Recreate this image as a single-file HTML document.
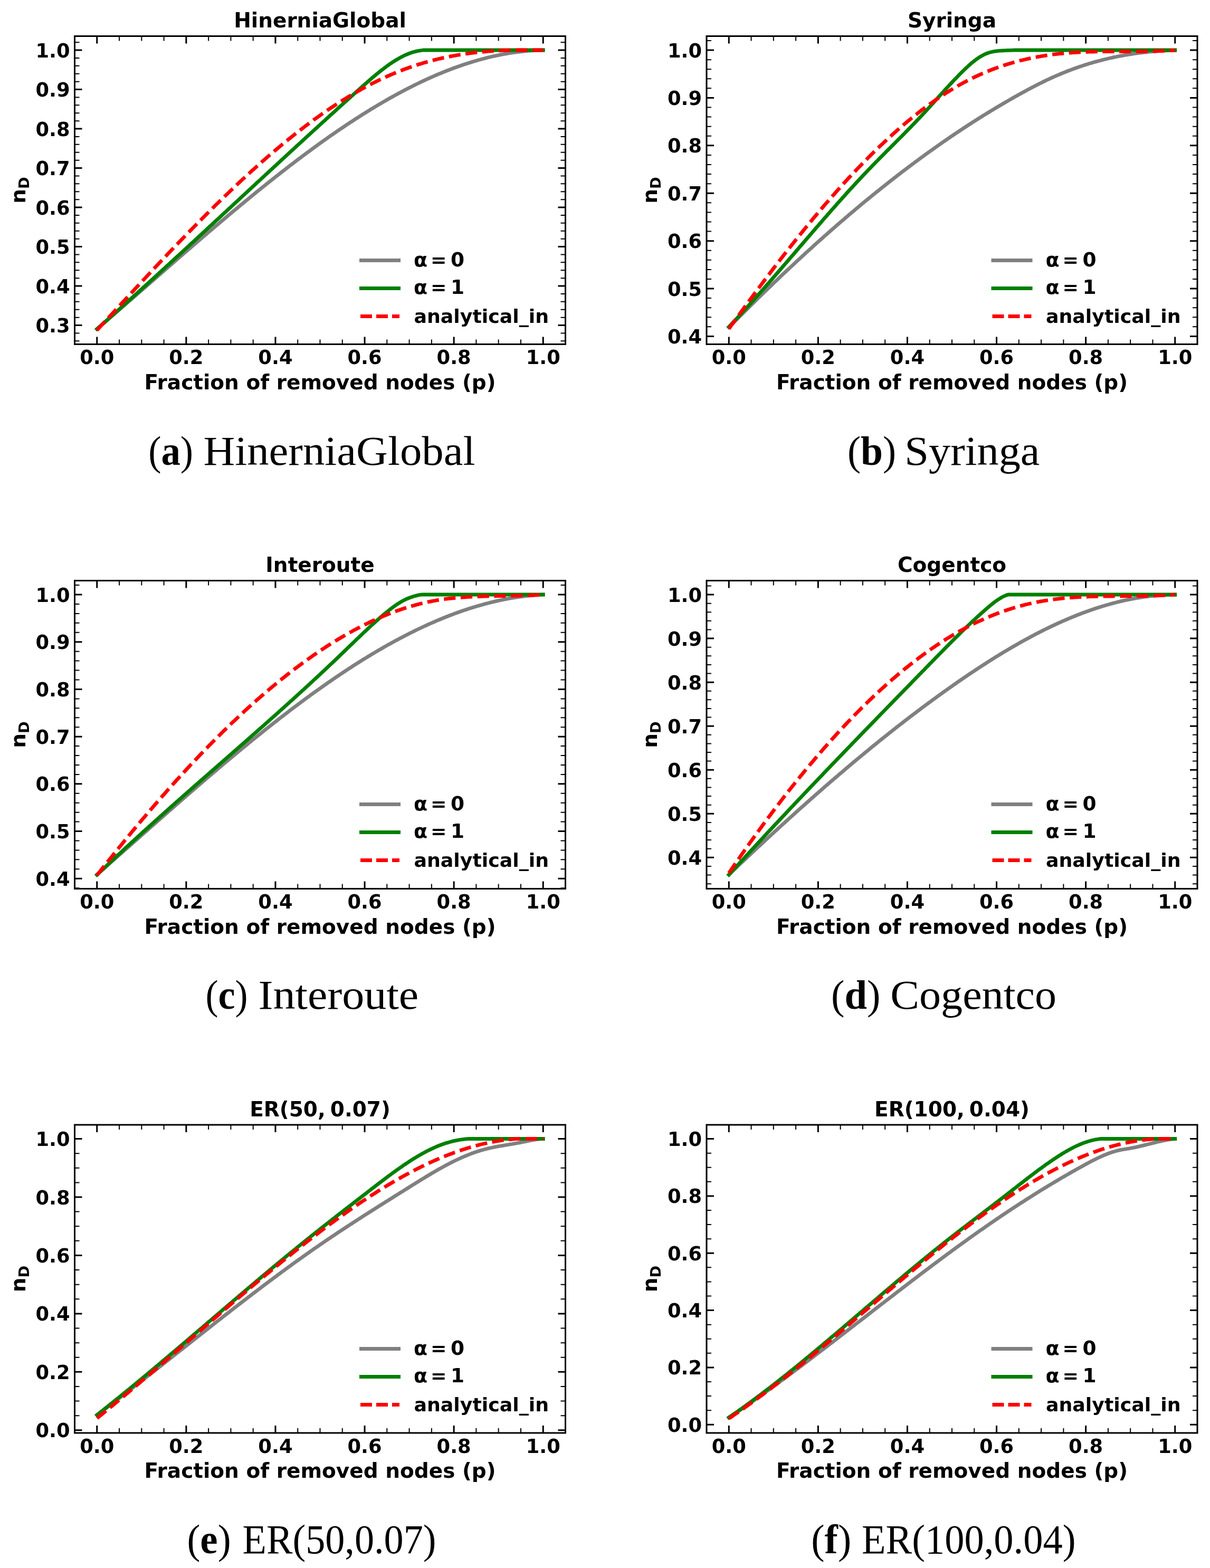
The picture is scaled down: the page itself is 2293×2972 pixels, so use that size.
<!DOCTYPE html>
<html><head><meta charset="utf-8"><title>Figure</title>
<style>html,body{margin:0;padding:0;background:#fff;}body{width:2293px;height:2972px;overflow:hidden;}svg{display:block;}</style>
</head><body>
<svg xmlns="http://www.w3.org/2000/svg" width="2293" height="2972" viewBox="0 0 2293 2972"><g id="panel-a">
<clipPath id="clipa"><rect x="141.5" y="68.5" width="930.0" height="584.0"/></clipPath>
<g clip-path="url(#clipa)">
<polyline points="183.8,623.5 185.9,621.7 188.0,619.9 190.1,618.1 192.2,616.2 194.3,614.4 196.5,612.6 198.6,610.8 200.7,609.0 202.8,607.1 204.9,605.3 207.0,603.5 209.1,601.7 211.2,599.8 213.4,598.0 215.5,596.2 217.6,594.3 219.7,592.5 221.8,590.7 223.9,588.8 226.0,587.0 228.2,585.2 230.3,583.3 232.4,581.5 234.5,579.7 236.6,577.8 238.7,576.0 240.8,574.2 243.0,572.3 245.1,570.5 247.2,568.6 249.3,566.8 251.4,565.0 253.5,563.1 255.6,561.3 257.8,559.4 259.9,557.6 262.0,555.7 264.1,553.9 266.2,552.1 268.3,550.2 270.4,548.4 272.5,546.5 274.7,544.7 276.8,542.8 278.9,541.0 281.0,539.1 283.1,537.3 285.2,535.5 287.3,533.6 289.5,531.8 291.6,529.9 293.7,528.1 295.8,526.2 297.9,524.4 300.0,522.5 302.1,520.7 304.2,518.9 306.4,517.0 308.5,515.2 310.6,513.3 312.7,511.5 314.8,509.6 316.9,507.8 319.0,506.0 321.2,504.1 323.3,502.3 325.4,500.4 327.5,498.6 329.6,496.8 331.7,494.9 333.8,493.1 336.0,491.2 338.1,489.4 340.2,487.6 342.3,485.7 344.4,483.9 346.5,482.1 348.6,480.2 350.8,478.4 352.9,476.6 355.0,474.7 357.1,472.9 359.2,471.1 361.3,469.3 363.4,467.4 365.5,465.6 367.7,463.8 369.8,462.0 371.9,460.1 374.0,458.3 376.1,456.5 378.2,454.7 380.3,452.9 382.5,451.1 384.6,449.2 386.7,447.4 388.8,445.6 390.9,443.8 393.0,442.0 395.1,440.2 397.2,438.4 399.4,436.6 401.5,434.8 403.6,433.0 405.7,431.2 407.8,429.4 409.9,427.6 412.0,425.8 414.2,424.0 416.3,422.2 418.4,420.4 420.5,418.6 422.6,416.8 424.7,415.1 426.8,413.3 429.0,411.5 431.1,409.7 433.2,407.9 435.3,406.2 437.4,404.4 439.5,402.6 441.6,400.8 443.7,399.1 445.9,397.3 448.0,395.6 450.1,393.8 452.2,392.0 454.3,390.3 456.4,388.5 458.5,386.8 460.7,385.0 462.8,383.3 464.9,381.5 467.0,379.8 469.1,378.1 471.2,376.3 473.3,374.6 475.5,372.9 477.6,371.1 479.7,369.4 481.8,367.7 483.9,366.0 486.0,364.2 488.1,362.5 490.2,360.8 492.4,359.1 494.5,357.4 496.6,355.7 498.7,354.0 500.8,352.3 502.9,350.6 505.0,348.9 507.2,347.2 509.3,345.5 511.4,343.8 513.5,342.1 515.6,340.5 517.7,338.8 519.8,337.1 522.0,335.4 524.1,333.8 526.2,332.1 528.3,330.5 530.4,328.8 532.5,327.2 534.6,325.5 536.8,323.9 538.9,322.2 541.0,320.6 543.1,318.9 545.2,317.3 547.3,315.7 549.4,314.0 551.5,312.4 553.7,310.8 555.8,309.2 557.9,307.6 560.0,306.0 562.1,304.4 564.2,302.8 566.3,301.2 568.5,299.6 570.6,298.0 572.7,296.4 574.8,294.8 576.9,293.2 579.0,291.7 581.1,290.1 583.2,288.5 585.4,287.0 587.5,285.4 589.6,283.9 591.7,282.3 593.8,280.8 595.9,279.2 598.0,277.7 600.2,276.2 602.3,274.6 604.4,273.1 606.5,271.6 608.6,270.1 610.7,268.5 612.8,267.0 615.0,265.5 617.1,264.0 619.2,262.5 621.3,261.1 623.4,259.6 625.5,258.1 627.6,256.6 629.8,255.1 631.9,253.7 634.0,252.2 636.1,250.8 638.2,249.3 640.3,247.8 642.4,246.4 644.5,245.0 646.7,243.5 648.8,242.1 650.9,240.7 653.0,239.3 655.1,237.8 657.2,236.4 659.3,235.0 661.5,233.6 663.6,232.2 665.7,230.8 667.8,229.5 669.9,228.1 672.0,226.7 674.1,225.3 676.2,224.0 678.4,222.6 680.5,221.3 682.6,219.9 684.7,218.6 686.8,217.2 688.9,215.9 691.0,214.6 693.2,213.3 695.3,211.9 697.4,210.6 699.5,209.3 701.6,208.0 703.7,206.7 705.8,205.4 708.0,204.2 710.1,202.9 712.2,201.6 714.3,200.4 716.4,199.1 718.5,197.8 720.6,196.6 722.8,195.4 724.9,194.1 727.0,192.9 729.1,191.7 731.2,190.5 733.3,189.2 735.4,188.0 737.5,186.8 739.7,185.6 741.8,184.5 743.9,183.3 746.0,182.1 748.1,180.9 750.2,179.8 752.3,178.6 754.5,177.5 756.6,176.3 758.7,175.2 760.8,174.1 762.9,173.0 765.0,171.8 767.1,170.7 769.2,169.6 771.4,168.5 773.5,167.4 775.6,166.4 777.7,165.3 779.8,164.2 781.9,163.2 784.0,162.1 786.2,161.1 788.3,160.0 790.4,159.0 792.5,158.0 794.6,156.9 796.7,155.9 798.8,154.9 801.0,153.9 803.1,152.9 805.2,152.0 807.3,151.0 809.4,150.0 811.5,149.0 813.6,148.1 815.8,147.1 817.9,146.2 820.0,145.3 822.1,144.3 824.2,143.4 826.3,142.5 828.4,141.6 830.5,140.7 832.7,139.8 834.8,139.0 836.9,138.1 839.0,137.2 841.1,136.4 843.2,135.5 845.3,134.7 847.5,133.8 849.6,133.0 851.7,132.2 853.8,131.4 855.9,130.6 858.0,129.8 860.1,129.0 862.2,128.2 864.4,127.5 866.5,126.7 868.6,125.9 870.7,125.2 872.8,124.5 874.9,123.7 877.0,123.0 879.2,122.3 881.3,121.6 883.4,120.9 885.5,120.2 887.6,119.5 889.7,118.9 891.8,118.2 894.0,117.6 896.1,116.9 898.2,116.3 900.3,115.7 902.4,115.0 904.5,114.4 906.6,113.8 908.8,113.2 910.9,112.7 913.0,112.1 915.1,111.5 917.2,111.0 919.3,110.4 921.4,109.9 923.5,109.3 925.7,108.8 927.8,108.3 929.9,107.8 932.0,107.3 934.1,106.8 936.2,106.4 938.3,105.9 940.5,105.4 942.6,105.0 944.7,104.6 946.8,104.1 948.9,103.7 951.0,103.3 953.1,102.9 955.2,102.5 957.4,102.1 959.5,101.8 961.6,101.4 963.7,101.0 965.8,100.7 967.9,100.4 970.0,100.0 972.2,99.7 974.3,99.4 976.4,99.1 978.5,98.9 980.6,98.6 982.7,98.3 984.8,98.1 987.0,97.8 989.1,97.6 991.2,97.4 993.3,97.1 995.4,96.9 997.5,96.7 999.6,96.6 1001.8,96.4 1003.9,96.2 1006.0,96.1 1008.1,95.9 1010.2,95.8 1012.3,95.7 1014.4,95.6 1016.5,95.5 1018.7,95.4 1020.8,95.3 1022.9,95.2 1025.0,95.2 1027.1,95.1 1029.2,95.1" fill="none" stroke="#808080" stroke-width="6.8" stroke-linecap="square" stroke-linejoin="round"/>
<polyline points="183.8,623.6 185.9,621.8 188.0,619.9 190.1,618.0 192.2,616.2 194.3,614.3 196.5,612.4 198.6,610.5 200.7,608.7 202.8,606.8 204.9,604.9 207.0,603.0 209.1,601.1 211.2,599.3 213.4,597.4 215.5,595.5 217.6,593.6 219.7,591.7 221.8,589.8 223.9,587.9 226.0,586.0 228.2,584.1 230.3,582.2 232.4,580.3 234.5,578.4 236.6,576.5 238.7,574.6 240.8,572.7 243.0,570.8 245.1,568.9 247.2,567.0 249.3,565.1 251.4,563.2 253.5,561.3 255.6,559.4 257.8,557.5 259.9,555.6 262.0,553.7 264.1,551.7 266.2,549.8 268.3,547.9 270.4,546.0 272.5,544.1 274.7,542.2 276.8,540.2 278.9,538.3 281.0,536.4 283.1,534.5 285.2,532.6 287.3,530.6 289.5,528.7 291.6,526.8 293.7,524.9 295.8,522.9 297.9,521.0 300.0,519.1 302.1,517.1 304.2,515.2 306.4,513.3 308.5,511.3 310.6,509.4 312.7,507.5 314.8,505.5 316.9,503.6 319.0,501.7 321.2,499.7 323.3,497.8 325.4,495.8 327.5,493.9 329.6,492.0 331.7,490.0 333.8,488.1 336.0,486.1 338.1,484.2 340.2,482.3 342.3,480.3 344.4,478.4 346.5,476.4 348.6,474.5 350.8,472.5 352.9,470.6 355.0,468.6 357.1,466.7 359.2,464.7 361.3,462.8 363.4,460.8 365.5,458.9 367.7,456.9 369.8,455.0 371.9,453.0 374.0,451.1 376.1,449.1 378.2,447.2 380.3,445.2 382.5,443.3 384.6,441.3 386.7,439.4 388.8,437.4 390.9,435.5 393.0,433.5 395.1,431.5 397.2,429.6 399.4,427.6 401.5,425.7 403.6,423.7 405.7,421.8 407.8,419.8 409.9,417.8 412.0,415.9 414.2,413.9 416.3,412.0 418.4,410.0 420.5,408.0 422.6,406.1 424.7,404.1 426.8,402.2 429.0,400.2 431.1,398.3 433.2,396.3 435.3,394.3 437.4,392.4 439.5,390.4 441.6,388.5 443.7,386.5 445.9,384.5 448.0,382.6 450.1,380.6 452.2,378.7 454.3,376.7 456.4,374.7 458.5,372.8 460.7,370.8 462.8,368.9 464.9,366.9 467.0,364.9 469.1,363.0 471.2,361.0 473.3,359.1 475.5,357.1 477.6,355.1 479.7,353.2 481.8,351.2 483.9,349.3 486.0,347.3 488.1,345.3 490.2,343.4 492.4,341.4 494.5,339.5 496.6,337.5 498.7,335.6 500.8,333.6 502.9,331.6 505.0,329.7 507.2,327.7 509.3,325.8 511.4,323.8 513.5,321.9 515.6,319.9 517.7,318.0 519.8,316.0 522.0,314.1 524.1,312.1 526.2,310.1 528.3,308.2 530.4,306.2 532.5,304.3 534.6,302.3 536.8,300.4 538.9,298.4 541.0,296.5 543.1,294.5 545.2,292.6 547.3,290.6 549.4,288.7 551.5,286.8 553.7,284.8 555.8,282.9 557.9,280.9 560.0,279.0 562.1,277.0 564.2,275.1 566.3,273.1 568.5,271.2 570.6,269.3 572.7,267.3 574.8,265.4 576.9,263.4 579.0,261.5 581.1,259.6 583.2,257.6 585.4,255.7 587.5,253.8 589.6,251.8 591.7,249.9 593.8,247.9 595.9,246.0 598.0,244.1 600.2,242.2 602.3,240.2 604.4,238.3 606.5,236.4 608.6,234.4 610.7,232.5 612.8,230.6 615.0,228.7 617.1,226.7 619.2,224.8 621.3,222.9 623.4,221.0 625.5,219.0 627.6,217.1 629.8,215.2 631.9,213.3 634.0,211.4 636.1,209.5 638.2,207.5 640.3,205.6 642.4,203.7 644.5,201.8 646.7,199.9 648.8,198.0 650.9,196.1 653.0,194.2 655.1,192.3 657.2,190.4 659.3,188.5 661.5,186.6 663.6,184.7 665.7,182.8 667.8,180.9 669.9,179.0 672.0,177.1 674.1,175.2 676.2,173.3 678.4,171.4 680.5,169.5 682.6,167.6 684.7,165.7 686.8,163.8 688.9,161.9 691.0,160.1 693.2,158.2 695.3,156.3 697.4,154.5 699.5,152.7 701.6,150.8 703.7,149.0 705.8,147.2 708.0,145.4 710.1,143.6 712.2,141.9 714.3,140.1 716.4,138.4 718.5,136.7 720.6,135.0 722.8,133.3 724.9,131.7 727.0,130.1 729.1,128.4 731.2,126.9 733.3,125.3 735.4,123.8 737.5,122.3 739.7,120.8 741.8,119.4 743.9,118.0 746.0,116.6 748.1,115.3 750.2,114.0 752.3,112.7 754.5,111.5 756.6,110.3 758.7,109.1 760.8,108.0 762.9,106.9 765.0,105.8 767.1,104.8 769.2,103.9 771.4,103.0 773.5,102.1 775.6,101.3 777.7,100.5 779.8,99.8 781.9,99.1 784.0,98.5 786.2,97.9 788.3,97.4 790.4,96.9 792.5,96.5 794.6,96.1 796.7,95.8 798.8,95.5 801.0,95.2 803.1,95.0 805.2,95.0 807.3,95.0 809.4,95.0 811.5,95.0 813.6,95.0 815.8,95.0 817.9,95.0 820.0,95.0 822.1,95.0 824.2,95.0 826.3,95.0 828.4,95.0 830.5,95.0 832.7,95.0 834.8,95.0 836.9,95.0 839.0,95.0 841.1,95.0 843.2,95.0 845.3,95.0 847.5,95.0 849.6,95.0 851.7,95.0 853.8,95.0 855.9,95.0 858.0,95.0 860.1,95.0 862.2,95.0 864.4,95.0 866.5,95.0 868.6,95.0 870.7,95.0 872.8,95.0 874.9,95.0 877.0,95.0 879.2,95.0 881.3,95.0 883.4,95.0 885.5,95.0 887.6,95.0 889.7,95.0 891.8,95.0 894.0,95.0 896.1,95.0 898.2,95.0 900.3,95.0 902.4,95.0 904.5,95.0 906.6,95.0 908.8,95.0 910.9,95.0 913.0,95.0 915.1,95.0 917.2,95.0 919.3,95.0 921.4,95.0 923.5,95.0 925.7,95.0 927.8,95.0 929.9,95.0 932.0,95.0 934.1,95.0 936.2,95.0 938.3,95.0 940.5,95.0 942.6,95.0 944.7,95.0 946.8,95.0 948.9,95.0 951.0,95.0 953.1,95.0 955.2,95.0 957.4,95.0 959.5,95.0 961.6,95.0 963.7,95.0 965.8,95.0 967.9,95.0 970.0,95.0 972.2,95.0 974.3,95.0 976.4,95.0 978.5,95.0 980.6,95.0 982.7,95.0 984.8,95.0 987.0,95.0 989.1,95.0 991.2,95.0 993.3,95.0 995.4,95.0 997.5,95.0 999.6,95.0 1001.8,95.0 1003.9,95.0 1006.0,95.0 1008.1,95.0 1010.2,95.0 1012.3,95.0 1014.4,95.0 1016.5,95.0 1018.7,95.0 1020.8,95.0 1022.9,95.0 1025.0,95.0 1027.1,95.0 1029.2,95.0" fill="none" stroke="#008000" stroke-width="6.8" stroke-linecap="square" stroke-linejoin="round"/>
<polyline points="183.8,625.9 185.9,623.6 188.0,621.3 190.1,619.0 192.2,616.7 194.3,614.4 196.5,612.1 198.6,609.8 200.7,607.5 202.8,605.2 204.9,602.9 207.0,600.6 209.1,598.4 211.2,596.1 213.4,593.8 215.5,591.5 217.6,589.2 219.7,586.9 221.8,584.6 223.9,582.3 226.0,580.0 228.2,577.7 230.3,575.4 232.4,573.1 234.5,570.8 236.6,568.5 238.7,566.2 240.8,564.0 243.0,561.7 245.1,559.4 247.2,557.1 249.3,554.8 251.4,552.5 253.5,550.3 255.6,548.0 257.8,545.7 259.9,543.4 262.0,541.1 264.1,538.9 266.2,536.6 268.3,534.3 270.4,532.0 272.5,529.8 274.7,527.5 276.8,525.2 278.9,523.0 281.0,520.7 283.1,518.5 285.2,516.2 287.3,513.9 289.5,511.7 291.6,509.4 293.7,507.2 295.8,504.9 297.9,502.7 300.0,500.4 302.1,498.2 304.2,496.0 306.4,493.7 308.5,491.5 310.6,489.3 312.7,487.0 314.8,484.8 316.9,482.6 319.0,480.3 321.2,478.1 323.3,475.9 325.4,473.7 327.5,471.5 329.6,469.3 331.7,467.0 333.8,464.8 336.0,462.6 338.1,460.4 340.2,458.2 342.3,456.0 344.4,453.9 346.5,451.7 348.6,449.5 350.8,447.3 352.9,445.1 355.0,442.9 357.1,440.8 359.2,438.6 361.3,436.4 363.4,434.3 365.5,432.1 367.7,430.0 369.8,427.8 371.9,425.7 374.0,423.5 376.1,421.4 378.2,419.2 380.3,417.1 382.5,415.0 384.6,412.8 386.7,410.7 388.8,408.6 390.9,406.5 393.0,404.4 395.1,402.3 397.2,400.2 399.4,398.1 401.5,396.0 403.6,393.9 405.7,391.8 407.8,389.7 409.9,387.6 412.0,385.6 414.2,383.5 416.3,381.4 418.4,379.4 420.5,377.3 422.6,375.2 424.7,373.2 426.8,371.2 429.0,369.1 431.1,367.1 433.2,365.1 435.3,363.0 437.4,361.0 439.5,359.0 441.6,357.0 443.7,355.0 445.9,353.0 448.0,351.0 450.1,349.0 452.2,347.0 454.3,345.0 456.4,343.1 458.5,341.1 460.7,339.1 462.8,337.2 464.9,335.2 467.0,333.3 469.1,331.3 471.2,329.4 473.3,327.5 475.5,325.5 477.6,323.6 479.7,321.7 481.8,319.8 483.9,317.9 486.0,316.0 488.1,314.1 490.2,312.2 492.4,310.3 494.5,308.5 496.6,306.6 498.7,304.7 500.8,302.9 502.9,301.0 505.0,299.2 507.2,297.3 509.3,295.5 511.4,293.7 513.5,291.9 515.6,290.1 517.7,288.2 519.8,286.4 522.0,284.7 524.1,282.9 526.2,281.1 528.3,279.3 530.4,277.5 532.5,275.8 534.6,274.0 536.8,272.3 538.9,270.5 541.0,268.8 543.1,267.1 545.2,265.4 547.3,263.7 549.4,262.0 551.5,260.3 553.7,258.6 555.8,256.9 557.9,255.2 560.0,253.5 562.1,251.9 564.2,250.2 566.3,248.6 568.5,246.9 570.6,245.3 572.7,243.7 574.8,242.1 576.9,240.4 579.0,238.8 581.1,237.2 583.2,235.7 585.4,234.1 587.5,232.5 589.6,230.9 591.7,229.4 593.8,227.8 595.9,226.3 598.0,224.8 600.2,223.2 602.3,221.7 604.4,220.2 606.5,218.7 608.6,217.2 610.7,215.7 612.8,214.3 615.0,212.8 617.1,211.3 619.2,209.9 621.3,208.4 623.4,207.0 625.5,205.6 627.6,204.2 629.8,202.8 631.9,201.4 634.0,200.0 636.1,198.6 638.2,197.2 640.3,195.9 642.4,194.5 644.5,193.2 646.7,191.8 648.8,190.5 650.9,189.2 653.0,187.9 655.1,186.6 657.2,185.3 659.3,184.0 661.5,182.7 663.6,181.4 665.7,180.2 667.8,178.9 669.9,177.7 672.0,176.5 674.1,175.3 676.2,174.0 678.4,172.8 680.5,171.7 682.6,170.5 684.7,169.3 686.8,168.1 688.9,167.0 691.0,165.8 693.2,164.7 695.3,163.6 697.4,162.5 699.5,161.4 701.6,160.3 703.7,159.2 705.8,158.1 708.0,157.0 710.1,156.0 712.2,154.9 714.3,153.9 716.4,152.8 718.5,151.8 720.6,150.8 722.8,149.8 724.9,148.8 727.0,147.8 729.1,146.9 731.2,145.9 733.3,144.9 735.4,144.0 737.5,143.1 739.7,142.1 741.8,141.2 743.9,140.3 746.0,139.4 748.1,138.5 750.2,137.7 752.3,136.8 754.5,136.0 756.6,135.1 758.7,134.3 760.8,133.5 762.9,132.6 765.0,131.8 767.1,131.0 769.2,130.3 771.4,129.5 773.5,128.7 775.6,128.0 777.7,127.2 779.8,126.5 781.9,125.8 784.0,125.1 786.2,124.4 788.3,123.7 790.4,123.0 792.5,122.3 794.6,121.7 796.7,121.0 798.8,120.4 801.0,119.7 803.1,119.1 805.2,118.5 807.3,117.9 809.4,117.3 811.5,116.7 813.6,116.1 815.8,115.6 817.9,115.0 820.0,114.5 822.1,113.9 824.2,113.4 826.3,112.9 828.4,112.3 830.5,111.8 832.7,111.3 834.8,110.9 836.9,110.4 839.0,109.9 841.1,109.4 843.2,109.0 845.3,108.5 847.5,108.1 849.6,107.7 851.7,107.3 853.8,106.8 855.9,106.4 858.0,106.0 860.1,105.7 862.2,105.3 864.4,104.9 866.5,104.5 868.6,104.2 870.7,103.8 872.8,103.5 874.9,103.1 877.0,102.8 879.2,102.5 881.3,102.2 883.4,101.9 885.5,101.6 887.6,101.3 889.7,101.0 891.8,100.7 894.0,100.5 896.1,100.2 898.2,100.0 900.3,99.7 902.4,99.5 904.5,99.2 906.6,99.0 908.8,98.8 910.9,98.6 913.0,98.4 915.1,98.2 917.2,98.0 919.3,97.8 921.4,97.6 923.5,97.4 925.7,97.2 927.8,97.1 929.9,96.9 932.0,96.8 934.1,96.6 936.2,96.5 938.3,96.4 940.5,96.2 942.6,96.1 944.7,96.0 946.8,95.9 948.9,95.8 951.0,95.7 953.1,95.6 955.2,95.5 957.4,95.4 959.5,95.3 961.6,95.3 963.7,95.2 965.8,95.1 967.9,95.1 970.0,95.0 972.2,95.0 974.3,95.0 976.4,95.0 978.5,95.0 980.6,95.0 982.7,95.0 984.8,95.0 987.0,95.0 989.1,95.0 991.2,95.0 993.3,95.0 995.4,95.0 997.5,95.0 999.6,95.0 1001.8,95.0 1003.9,95.0 1006.0,95.0 1008.1,95.0 1010.2,95.0 1012.3,95.0 1014.4,95.0 1016.5,95.0 1018.7,95.0 1020.8,95.0 1022.9,95.0 1025.0,95.0 1027.1,95.0 1029.2,95.0" fill="none" stroke="#ff0000" stroke-width="6.8" stroke-dasharray="22.2 9.6" stroke-linecap="butt" stroke-linejoin="round"/>
</g>
<g stroke="#000" fill="none"><path d="M183.77 652.5 V638.5 M183.77 68.5 V82.5" stroke-width="3"/><path d="M226.05 652.5 V643.5 M226.05 68.5 V77.5" stroke-width="2"/><path d="M268.32 652.5 V643.5 M268.32 68.5 V77.5" stroke-width="2"/><path d="M310.59 652.5 V643.5 M310.59 68.5 V77.5" stroke-width="2"/><path d="M352.86 652.5 V638.5 M352.86 68.5 V82.5" stroke-width="3"/><path d="M395.14 652.5 V643.5 M395.14 68.5 V77.5" stroke-width="2"/><path d="M437.41 652.5 V643.5 M437.41 68.5 V77.5" stroke-width="2"/><path d="M479.68 652.5 V643.5 M479.68 68.5 V77.5" stroke-width="2"/><path d="M521.95 652.5 V638.5 M521.95 68.5 V82.5" stroke-width="3"/><path d="M564.23 652.5 V643.5 M564.23 68.5 V77.5" stroke-width="2"/><path d="M606.50 652.5 V643.5 M606.50 68.5 V77.5" stroke-width="2"/><path d="M648.77 652.5 V643.5 M648.77 68.5 V77.5" stroke-width="2"/><path d="M691.05 652.5 V638.5 M691.05 68.5 V82.5" stroke-width="3"/><path d="M733.32 652.5 V643.5 M733.32 68.5 V77.5" stroke-width="2"/><path d="M775.59 652.5 V643.5 M775.59 68.5 V77.5" stroke-width="2"/><path d="M817.86 652.5 V643.5 M817.86 68.5 V77.5" stroke-width="2"/><path d="M860.14 652.5 V638.5 M860.14 68.5 V82.5" stroke-width="3"/><path d="M902.41 652.5 V643.5 M902.41 68.5 V77.5" stroke-width="2"/><path d="M944.68 652.5 V643.5 M944.68 68.5 V77.5" stroke-width="2"/><path d="M986.95 652.5 V643.5 M986.95 68.5 V77.5" stroke-width="2"/><path d="M1029.23 652.5 V638.5 M1029.23 68.5 V82.5" stroke-width="3"/><path d="M141.5 646.37 H150.5 M1071.5 646.37 H1062.5" stroke-width="2"/><path d="M141.5 631.47 H150.5 M1071.5 631.47 H1062.5" stroke-width="2"/><path d="M141.5 616.57 H155.5 M1071.5 616.57 H1057.5" stroke-width="3"/><path d="M141.5 601.67 H150.5 M1071.5 601.67 H1062.5" stroke-width="2"/><path d="M141.5 586.77 H150.5 M1071.5 586.77 H1062.5" stroke-width="2"/><path d="M141.5 571.87 H150.5 M1071.5 571.87 H1062.5" stroke-width="2"/><path d="M141.5 556.96 H150.5 M1071.5 556.96 H1062.5" stroke-width="2"/><path d="M141.5 542.06 H155.5 M1071.5 542.06 H1057.5" stroke-width="3"/><path d="M141.5 527.16 H150.5 M1071.5 527.16 H1062.5" stroke-width="2"/><path d="M141.5 512.26 H150.5 M1071.5 512.26 H1062.5" stroke-width="2"/><path d="M141.5 497.36 H150.5 M1071.5 497.36 H1062.5" stroke-width="2"/><path d="M141.5 482.46 H150.5 M1071.5 482.46 H1062.5" stroke-width="2"/><path d="M141.5 467.56 H155.5 M1071.5 467.56 H1057.5" stroke-width="3"/><path d="M141.5 452.66 H150.5 M1071.5 452.66 H1062.5" stroke-width="2"/><path d="M141.5 437.76 H150.5 M1071.5 437.76 H1062.5" stroke-width="2"/><path d="M141.5 422.86 H150.5 M1071.5 422.86 H1062.5" stroke-width="2"/><path d="M141.5 407.96 H150.5 M1071.5 407.96 H1062.5" stroke-width="2"/><path d="M141.5 393.06 H155.5 M1071.5 393.06 H1057.5" stroke-width="3"/><path d="M141.5 378.16 H150.5 M1071.5 378.16 H1062.5" stroke-width="2"/><path d="M141.5 363.26 H150.5 M1071.5 363.26 H1062.5" stroke-width="2"/><path d="M141.5 348.36 H150.5 M1071.5 348.36 H1062.5" stroke-width="2"/><path d="M141.5 333.46 H150.5 M1071.5 333.46 H1062.5" stroke-width="2"/><path d="M141.5 318.55 H155.5 M1071.5 318.55 H1057.5" stroke-width="3"/><path d="M141.5 303.65 H150.5 M1071.5 303.65 H1062.5" stroke-width="2"/><path d="M141.5 288.75 H150.5 M1071.5 288.75 H1062.5" stroke-width="2"/><path d="M141.5 273.85 H150.5 M1071.5 273.85 H1062.5" stroke-width="2"/><path d="M141.5 258.95 H150.5 M1071.5 258.95 H1062.5" stroke-width="2"/><path d="M141.5 244.05 H155.5 M1071.5 244.05 H1057.5" stroke-width="3"/><path d="M141.5 229.15 H150.5 M1071.5 229.15 H1062.5" stroke-width="2"/><path d="M141.5 214.25 H150.5 M1071.5 214.25 H1062.5" stroke-width="2"/><path d="M141.5 199.35 H150.5 M1071.5 199.35 H1062.5" stroke-width="2"/><path d="M141.5 184.45 H150.5 M1071.5 184.45 H1062.5" stroke-width="2"/><path d="M141.5 169.55 H155.5 M1071.5 169.55 H1057.5" stroke-width="3"/><path d="M141.5 154.65 H150.5 M1071.5 154.65 H1062.5" stroke-width="2"/><path d="M141.5 139.75 H150.5 M1071.5 139.75 H1062.5" stroke-width="2"/><path d="M141.5 124.85 H150.5 M1071.5 124.85 H1062.5" stroke-width="2"/><path d="M141.5 109.95 H150.5 M1071.5 109.95 H1062.5" stroke-width="2"/><path d="M141.5 95.05 H155.5 M1071.5 95.05 H1057.5" stroke-width="3"/><path d="M141.5 80.14 H150.5 M1071.5 80.14 H1062.5" stroke-width="2"/></g>
<rect x="141.5" y="68.5" width="930.0" height="584.0" fill="none" stroke="#000" stroke-width="3"/>
<g font-family="'DejaVu Sans', 'Liberation Sans', sans-serif" font-weight="bold" font-size="36.8" fill="#000">
<text x="183.77" y="690.10" text-anchor="middle">0.0</text>
<text x="352.86" y="690.10" text-anchor="middle">0.2</text>
<text x="521.95" y="690.10" text-anchor="middle">0.4</text>
<text x="691.05" y="690.10" text-anchor="middle">0.6</text>
<text x="860.14" y="690.10" text-anchor="middle">0.8</text>
<text x="1029.23" y="690.10" text-anchor="middle">1.0</text>
<text x="132.60" y="630.07" text-anchor="end">0.3</text>
<text x="132.60" y="555.56" text-anchor="end">0.4</text>
<text x="132.60" y="481.06" text-anchor="end">0.5</text>
<text x="132.60" y="406.56" text-anchor="end">0.6</text>
<text x="132.60" y="332.05" text-anchor="end">0.7</text>
<text x="132.60" y="257.55" text-anchor="end">0.8</text>
<text x="132.60" y="183.05" text-anchor="end">0.9</text>
<text x="132.60" y="108.55" text-anchor="end">1.0</text>
</g>
<text x="606.50" y="52.10" text-anchor="middle" font-family="'DejaVu Sans', 'Liberation Sans', sans-serif" font-weight="bold" font-size="39.0">HinerniaGlobal</text>
<text x="606.50" y="737.80" text-anchor="middle" font-family="'DejaVu Sans', 'Liberation Sans', sans-serif" font-weight="bold" font-size="39.0">Fraction of removed nodes (p)</text>
<text transform="translate(47.90 360.50) rotate(-90)" text-anchor="middle" font-family="'DejaVu Sans', 'Liberation Sans', sans-serif" font-weight="bold" font-size="39.0">n<tspan font-size="27.3" dy="7">D</tspan></text>
<path d="M684.4 493.5 H755.6" stroke="#808080" stroke-width="6.8" stroke-linecap="square"/>
<path d="M684.4 546.5 H755.6" stroke="#008000" stroke-width="6.8" stroke-linecap="square"/>
<path d="M683.0 599.5 H757.0" stroke="#ff0000" stroke-width="6.8" stroke-dasharray="22 8"/>
<text font-family="'DejaVu Sans', 'Liberation Sans', sans-serif" font-weight="bold" font-size="38" x="784.1" y="505.3">α</text>
<text font-family="'DejaVu Sans', 'Liberation Sans', sans-serif" font-weight="bold" font-size="36.3" x="816.1" y="505.3">=</text>
<text font-family="'DejaVu Sans', 'Liberation Sans', sans-serif" font-weight="bold" font-size="37.5" x="854.0" y="505.3">0</text>
<text font-family="'DejaVu Sans', 'Liberation Sans', sans-serif" font-weight="bold" font-size="38" x="784.1" y="556.8">α</text>
<text font-family="'DejaVu Sans', 'Liberation Sans', sans-serif" font-weight="bold" font-size="36.3" x="816.1" y="556.8">=</text>
<text font-family="'DejaVu Sans', 'Liberation Sans', sans-serif" font-weight="bold" font-size="37.5" x="854.0" y="556.8">1</text>
<text font-family="'DejaVu Sans', 'Liberation Sans', sans-serif" font-weight="bold" font-size="36.3" x="784.5" y="612.0">analytical_in</text>
<text x="281.2" y="881.0" font-family="'Liberation Serif', 'DejaVu Serif', serif" font-size="79" textLength="84.9" lengthAdjust="spacingAndGlyphs">(<tspan font-weight="bold">a</tspan>)</text>
<text x="385.4" y="881.0" font-family="'Liberation Serif', 'DejaVu Serif', serif" font-size="79" textLength="515.1" lengthAdjust="spacingAndGlyphs">HinerniaGlobal</text>
</g>
<g id="panel-b">
<clipPath id="clipb"><rect x="1339.0" y="68.5" width="930.0" height="584.0"/></clipPath>
<g clip-path="url(#clipb)">
<polyline points="1381.3,620.5 1383.4,618.4 1385.5,616.3 1387.6,614.1 1389.7,612.0 1391.8,609.8 1394.0,607.7 1396.1,605.6 1398.2,603.4 1400.3,601.3 1402.4,599.2 1404.5,597.1 1406.6,595.0 1408.8,592.8 1410.9,590.7 1413.0,588.6 1415.1,586.5 1417.2,584.4 1419.3,582.3 1421.4,580.2 1423.5,578.1 1425.7,576.0 1427.8,574.0 1429.9,571.9 1432.0,569.8 1434.1,567.7 1436.2,565.6 1438.3,563.6 1440.5,561.5 1442.6,559.4 1444.7,557.4 1446.8,555.3 1448.9,553.3 1451.0,551.2 1453.1,549.2 1455.2,547.1 1457.4,545.1 1459.5,543.0 1461.6,541.0 1463.7,539.0 1465.8,536.9 1467.9,534.9 1470.0,532.9 1472.2,530.9 1474.3,528.9 1476.4,526.8 1478.5,524.8 1480.6,522.8 1482.7,520.8 1484.8,518.8 1487.0,516.8 1489.1,514.8 1491.2,512.8 1493.3,510.8 1495.4,508.9 1497.5,506.9 1499.6,504.9 1501.8,502.9 1503.9,501.0 1506.0,499.0 1508.1,497.0 1510.2,495.1 1512.3,493.1 1514.4,491.2 1516.5,489.2 1518.7,487.3 1520.8,485.3 1522.9,483.4 1525.0,481.4 1527.1,479.5 1529.2,477.6 1531.3,475.6 1533.5,473.7 1535.6,471.8 1537.7,469.9 1539.8,468.0 1541.9,466.0 1544.0,464.1 1546.1,462.2 1548.2,460.3 1550.4,458.4 1552.5,456.5 1554.6,454.6 1556.7,452.8 1558.8,450.9 1560.9,449.0 1563.0,447.1 1565.2,445.2 1567.3,443.4 1569.4,441.5 1571.5,439.6 1573.6,437.8 1575.7,435.9 1577.8,434.1 1580.0,432.2 1582.1,430.4 1584.2,428.5 1586.3,426.7 1588.4,424.9 1590.5,423.0 1592.6,421.2 1594.8,419.4 1596.9,417.6 1599.0,415.8 1601.1,413.9 1603.2,412.1 1605.3,410.3 1607.4,408.5 1609.5,406.7 1611.7,404.9 1613.8,403.1 1615.9,401.4 1618.0,399.6 1620.1,397.8 1622.2,396.0 1624.3,394.2 1626.5,392.5 1628.6,390.7 1630.7,388.9 1632.8,387.2 1634.9,385.4 1637.0,383.7 1639.1,381.9 1641.2,380.2 1643.4,378.5 1645.5,376.7 1647.6,375.0 1649.7,373.3 1651.8,371.5 1653.9,369.8 1656.0,368.1 1658.2,366.4 1660.3,364.7 1662.4,363.0 1664.5,361.3 1666.6,359.6 1668.7,357.9 1670.8,356.2 1673.0,354.5 1675.1,352.8 1677.2,351.1 1679.3,349.5 1681.4,347.8 1683.5,346.1 1685.6,344.5 1687.8,342.8 1689.9,341.1 1692.0,339.5 1694.1,337.8 1696.2,336.2 1698.3,334.6 1700.4,332.9 1702.5,331.3 1704.7,329.7 1706.8,328.0 1708.9,326.4 1711.0,324.8 1713.1,323.2 1715.2,321.6 1717.3,320.0 1719.5,318.4 1721.6,316.8 1723.7,315.2 1725.8,313.6 1727.9,312.0 1730.0,310.4 1732.1,308.9 1734.2,307.3 1736.4,305.7 1738.5,304.2 1740.6,302.6 1742.7,301.0 1744.8,299.5 1746.9,297.9 1749.0,296.4 1751.2,294.9 1753.3,293.3 1755.4,291.8 1757.5,290.3 1759.6,288.7 1761.7,287.2 1763.8,285.7 1766.0,284.2 1768.1,282.7 1770.2,281.2 1772.3,279.7 1774.4,278.2 1776.5,276.7 1778.6,275.2 1780.8,273.7 1782.9,272.2 1785.0,270.8 1787.1,269.3 1789.2,267.8 1791.3,266.4 1793.4,264.9 1795.5,263.5 1797.7,262.0 1799.8,260.6 1801.9,259.1 1804.0,257.7 1806.1,256.3 1808.2,254.8 1810.3,253.4 1812.5,252.0 1814.6,250.6 1816.7,249.2 1818.8,247.8 1820.9,246.4 1823.0,245.0 1825.1,243.6 1827.2,242.2 1829.4,240.8 1831.5,239.4 1833.6,238.0 1835.7,236.7 1837.8,235.3 1839.9,233.9 1842.0,232.6 1844.2,231.2 1846.3,229.9 1848.4,228.5 1850.5,227.2 1852.6,225.8 1854.7,224.5 1856.8,223.2 1859.0,221.9 1861.1,220.5 1863.2,219.2 1865.3,217.9 1867.4,216.6 1869.5,215.3 1871.6,214.0 1873.8,212.7 1875.9,211.4 1878.0,210.1 1880.1,208.9 1882.2,207.6 1884.3,206.3 1886.4,205.0 1888.5,203.8 1890.7,202.5 1892.8,201.3 1894.9,200.0 1897.0,198.8 1899.1,197.5 1901.2,196.3 1903.3,195.0 1905.5,193.8 1907.6,192.6 1909.7,191.4 1911.8,190.1 1913.9,188.9 1916.0,187.7 1918.1,186.5 1920.2,185.3 1922.4,184.1 1924.5,182.9 1926.6,181.7 1928.7,180.5 1930.8,179.3 1932.9,178.2 1935.0,177.0 1937.2,175.8 1939.3,174.7 1941.4,173.5 1943.5,172.4 1945.6,171.2 1947.7,170.1 1949.8,169.0 1952.0,167.8 1954.1,166.7 1956.2,165.6 1958.3,164.5 1960.4,163.4 1962.5,162.3 1964.6,161.2 1966.8,160.2 1968.9,159.1 1971.0,158.0 1973.1,157.0 1975.2,155.9 1977.3,154.9 1979.4,153.9 1981.5,152.9 1983.7,151.8 1985.8,150.8 1987.9,149.9 1990.0,148.9 1992.1,147.9 1994.2,146.9 1996.3,146.0 1998.5,145.0 2000.6,144.1 2002.7,143.2 2004.8,142.3 2006.9,141.4 2009.0,140.5 2011.1,139.6 2013.2,138.7 2015.4,137.9 2017.5,137.0 2019.6,136.2 2021.7,135.3 2023.8,134.5 2025.9,133.7 2028.0,132.9 2030.2,132.1 2032.3,131.3 2034.4,130.5 2036.5,129.8 2038.6,129.0 2040.7,128.2 2042.8,127.5 2045.0,126.8 2047.1,126.1 2049.2,125.4 2051.3,124.6 2053.4,124.0 2055.5,123.3 2057.6,122.6 2059.8,121.9 2061.9,121.3 2064.0,120.6 2066.1,120.0 2068.2,119.4 2070.3,118.8 2072.4,118.1 2074.5,117.5 2076.7,116.9 2078.8,116.4 2080.9,115.8 2083.0,115.2 2085.1,114.7 2087.2,114.1 2089.3,113.6 2091.5,113.0 2093.6,112.5 2095.7,112.0 2097.8,111.5 2099.9,111.0 2102.0,110.5 2104.1,110.0 2106.2,109.6 2108.4,109.1 2110.5,108.6 2112.6,108.2 2114.7,107.8 2116.8,107.3 2118.9,106.9 2121.0,106.5 2123.2,106.1 2125.3,105.7 2127.4,105.3 2129.5,104.9 2131.6,104.5 2133.7,104.2 2135.8,103.8 2138.0,103.5 2140.1,103.1 2142.2,102.8 2144.3,102.4 2146.4,102.1 2148.5,101.8 2150.6,101.5 2152.8,101.2 2154.9,100.9 2157.0,100.6 2159.1,100.4 2161.2,100.1 2163.3,99.8 2165.4,99.6 2167.5,99.3 2169.7,99.1 2171.8,98.9 2173.9,98.6 2176.0,98.4 2178.1,98.2 2180.2,98.0 2182.3,97.8 2184.5,97.6 2186.6,97.4 2188.7,97.3 2190.8,97.1 2192.9,96.9 2195.0,96.8 2197.1,96.6 2199.2,96.5 2201.4,96.4 2203.5,96.3 2205.6,96.1 2207.7,96.0 2209.8,95.9 2211.9,95.8 2214.0,95.7 2216.2,95.6 2218.3,95.6 2220.4,95.5 2222.5,95.4 2224.6,95.4 2226.7,95.3" fill="none" stroke="#808080" stroke-width="6.8" stroke-linecap="square" stroke-linejoin="round"/>
<polyline points="1381.3,619.5 1383.4,617.3 1385.5,615.0 1387.6,612.8 1389.7,610.5 1391.8,608.3 1394.0,606.0 1396.1,603.8 1398.2,601.5 1400.3,599.2 1402.4,596.9 1404.5,594.6 1406.6,592.3 1408.8,590.0 1410.9,587.7 1413.0,585.4 1415.1,583.1 1417.2,580.7 1419.3,578.4 1421.4,576.1 1423.5,573.7 1425.7,571.4 1427.8,569.0 1429.9,566.6 1432.0,564.3 1434.1,561.9 1436.2,559.5 1438.3,557.1 1440.5,554.7 1442.6,552.3 1444.7,550.0 1446.8,547.6 1448.9,545.1 1451.0,542.7 1453.1,540.3 1455.2,537.9 1457.4,535.5 1459.5,533.1 1461.6,530.7 1463.7,528.2 1465.8,525.8 1467.9,523.4 1470.0,520.9 1472.2,518.5 1474.3,516.0 1476.4,513.6 1478.5,511.2 1480.6,508.7 1482.7,506.3 1484.8,503.8 1487.0,501.4 1489.1,498.9 1491.2,496.5 1493.3,494.0 1495.4,491.5 1497.5,489.1 1499.6,486.6 1501.8,484.2 1503.9,481.7 1506.0,479.2 1508.1,476.8 1510.2,474.3 1512.3,471.9 1514.4,469.4 1516.5,466.9 1518.7,464.5 1520.8,462.0 1522.9,459.6 1525.0,457.1 1527.1,454.6 1529.2,452.2 1531.3,449.7 1533.5,447.3 1535.6,444.8 1537.7,442.4 1539.8,439.9 1541.9,437.5 1544.0,435.0 1546.1,432.6 1548.2,430.1 1550.4,427.7 1552.5,425.2 1554.6,422.8 1556.7,420.4 1558.8,417.9 1560.9,415.5 1563.0,413.1 1565.2,410.7 1567.3,408.2 1569.4,405.8 1571.5,403.4 1573.6,401.0 1575.7,398.6 1577.8,396.2 1580.0,393.8 1582.1,391.4 1584.2,389.0 1586.3,386.6 1588.4,384.3 1590.5,381.9 1592.6,379.5 1594.8,377.2 1596.9,374.8 1599.0,372.4 1601.1,370.1 1603.2,367.7 1605.3,365.4 1607.4,363.1 1609.5,360.7 1611.7,358.4 1613.8,356.1 1615.9,353.8 1618.0,351.5 1620.1,349.2 1622.2,346.9 1624.3,344.6 1626.5,342.4 1628.6,340.1 1630.7,337.8 1632.8,335.6 1634.9,333.3 1637.0,331.1 1639.1,328.8 1641.2,326.6 1643.4,324.4 1645.5,322.2 1647.6,320.0 1649.7,317.8 1651.8,315.6 1653.9,313.4 1656.0,311.3 1658.2,309.1 1660.3,306.9 1662.4,304.8 1664.5,302.6 1666.6,300.5 1668.7,298.4 1670.8,296.2 1673.0,294.1 1675.1,292.0 1677.2,289.8 1679.3,287.7 1681.4,285.6 1683.5,283.5 1685.6,281.4 1687.8,279.3 1689.9,277.1 1692.0,275.0 1694.1,272.9 1696.2,270.8 1698.3,268.7 1700.4,266.6 1702.5,264.4 1704.7,262.3 1706.8,260.2 1708.9,258.1 1711.0,255.9 1713.1,253.8 1715.2,251.7 1717.3,249.5 1719.5,247.4 1721.6,245.2 1723.7,243.0 1725.8,240.9 1727.9,238.7 1730.0,236.5 1732.1,234.3 1734.2,232.1 1736.4,229.9 1738.5,227.7 1740.6,225.5 1742.7,223.2 1744.8,221.0 1746.9,218.7 1749.0,216.5 1751.2,214.2 1753.3,211.9 1755.4,209.6 1757.5,207.3 1759.6,205.0 1761.7,202.7 1763.8,200.3 1766.0,198.0 1768.1,195.7 1770.2,193.3 1772.3,191.0 1774.4,188.6 1776.5,186.3 1778.6,183.9 1780.8,181.6 1782.9,179.2 1785.0,176.9 1787.1,174.6 1789.2,172.2 1791.3,169.9 1793.4,167.6 1795.5,165.3 1797.7,163.0 1799.8,160.7 1801.9,158.4 1804.0,156.2 1806.1,153.9 1808.2,151.7 1810.3,149.5 1812.5,147.3 1814.6,145.1 1816.7,142.9 1818.8,140.7 1820.9,138.6 1823.0,136.5 1825.1,134.4 1827.2,132.4 1829.4,130.3 1831.5,128.3 1833.6,126.4 1835.7,124.4 1837.8,122.6 1839.9,120.7 1842.0,118.9 1844.2,117.2 1846.3,115.5 1848.4,113.9 1850.5,112.3 1852.6,110.8 1854.7,109.4 1856.8,108.0 1859.0,106.7 1861.1,105.5 1863.2,104.4 1865.3,103.3 1867.4,102.3 1869.5,101.5 1871.6,100.7 1873.8,99.9 1875.9,99.3 1878.0,98.7 1880.1,98.3 1882.2,97.8 1884.3,97.4 1886.4,97.1 1888.5,96.8 1890.7,96.6 1892.8,96.4 1894.9,96.2 1897.0,96.1 1899.1,96.0 1901.2,95.9 1903.3,95.8 1905.5,95.7 1907.6,95.6 1909.7,95.5 1911.8,95.4 1913.9,95.3 1916.0,95.3 1918.1,95.2 1920.2,95.1 1922.4,95.0 1924.5,95.0 1926.6,95.0 1928.7,95.0 1930.8,95.0 1932.9,95.0 1935.0,95.0 1937.2,95.0 1939.3,95.0 1941.4,95.0 1943.5,95.0 1945.6,95.0 1947.7,95.0 1949.8,95.0 1952.0,95.0 1954.1,95.0 1956.2,95.0 1958.3,95.0 1960.4,95.0 1962.5,95.0 1964.6,95.0 1966.8,95.0 1968.9,95.0 1971.0,95.0 1973.1,95.0 1975.2,95.0 1977.3,95.0 1979.4,95.0 1981.5,95.0 1983.7,95.0 1985.8,95.0 1987.9,95.0 1990.0,95.0 1992.1,95.0 1994.2,95.0 1996.3,95.0 1998.5,95.0 2000.6,95.0 2002.7,95.0 2004.8,95.0 2006.9,95.0 2009.0,95.0 2011.1,95.0 2013.2,95.0 2015.4,95.0 2017.5,95.0 2019.6,95.0 2021.7,95.0 2023.8,95.0 2025.9,95.0 2028.0,95.0 2030.2,95.0 2032.3,95.0 2034.4,95.0 2036.5,95.0 2038.6,95.0 2040.7,95.0 2042.8,95.0 2045.0,95.0 2047.1,95.0 2049.2,95.0 2051.3,95.0 2053.4,95.0 2055.5,95.0 2057.6,95.0 2059.8,95.0 2061.9,95.0 2064.0,95.0 2066.1,95.0 2068.2,95.0 2070.3,95.0 2072.4,95.0 2074.5,95.0 2076.7,95.0 2078.8,95.0 2080.9,95.0 2083.0,95.0 2085.1,95.0 2087.2,95.0 2089.3,95.0 2091.5,95.0 2093.6,95.0 2095.7,95.0 2097.8,95.0 2099.9,95.0 2102.0,95.0 2104.1,95.0 2106.2,95.0 2108.4,95.0 2110.5,95.0 2112.6,95.0 2114.7,95.0 2116.8,95.0 2118.9,95.0 2121.0,95.0 2123.2,95.0 2125.3,95.0 2127.4,95.0 2129.5,95.0 2131.6,95.0 2133.7,95.0 2135.8,95.0 2138.0,95.0 2140.1,95.0 2142.2,95.0 2144.3,95.0 2146.4,95.0 2148.5,95.0 2150.6,95.0 2152.8,95.0 2154.9,95.0 2157.0,95.0 2159.1,95.0 2161.2,95.0 2163.3,95.0 2165.4,95.0 2167.5,95.0 2169.7,95.0 2171.8,95.0 2173.9,95.0 2176.0,95.0 2178.1,95.0 2180.2,95.0 2182.3,95.0 2184.5,95.0 2186.6,95.0 2188.7,95.0 2190.8,95.0 2192.9,95.0 2195.0,95.0 2197.1,95.0 2199.2,95.0 2201.4,95.0 2203.5,95.0 2205.6,95.0 2207.7,95.0 2209.8,95.0 2211.9,95.0 2214.0,95.0 2216.2,95.0 2218.3,95.0 2220.4,95.0 2222.5,95.0 2224.6,95.0 2226.7,95.0" fill="none" stroke="#008000" stroke-width="6.8" stroke-linecap="square" stroke-linejoin="round"/>
<polyline points="1381.3,623.2 1383.4,620.3 1385.5,617.3 1387.6,614.4 1389.7,611.5 1391.8,608.5 1394.0,605.6 1396.1,602.7 1398.2,599.8 1400.3,596.9 1402.4,593.9 1404.5,591.0 1406.6,588.1 1408.8,585.2 1410.9,582.3 1413.0,579.5 1415.1,576.6 1417.2,573.7 1419.3,570.8 1421.4,567.9 1423.5,565.1 1425.7,562.2 1427.8,559.4 1429.9,556.5 1432.0,553.7 1434.1,550.8 1436.2,548.0 1438.3,545.2 1440.5,542.3 1442.6,539.5 1444.7,536.7 1446.8,533.9 1448.9,531.1 1451.0,528.3 1453.1,525.5 1455.2,522.7 1457.4,519.9 1459.5,517.1 1461.6,514.3 1463.7,511.5 1465.8,508.8 1467.9,506.0 1470.0,503.3 1472.2,500.5 1474.3,497.8 1476.4,495.0 1478.5,492.3 1480.6,489.6 1482.7,486.9 1484.8,484.1 1487.0,481.4 1489.1,478.7 1491.2,476.0 1493.3,473.4 1495.4,470.7 1497.5,468.0 1499.6,465.3 1501.8,462.7 1503.9,460.0 1506.0,457.3 1508.1,454.7 1510.2,452.1 1512.3,449.4 1514.4,446.8 1516.5,444.2 1518.7,441.6 1520.8,439.0 1522.9,436.4 1525.0,433.8 1527.1,431.2 1529.2,428.6 1531.3,426.0 1533.5,423.5 1535.6,420.9 1537.7,418.3 1539.8,415.8 1541.9,413.3 1544.0,410.7 1546.1,408.2 1548.2,405.7 1550.4,403.2 1552.5,400.7 1554.6,398.2 1556.7,395.7 1558.8,393.2 1560.9,390.8 1563.0,388.3 1565.2,385.8 1567.3,383.4 1569.4,381.0 1571.5,378.5 1573.6,376.1 1575.7,373.7 1577.8,371.3 1580.0,368.9 1582.1,366.5 1584.2,364.1 1586.3,361.7 1588.4,359.4 1590.5,357.0 1592.6,354.6 1594.8,352.3 1596.9,350.0 1599.0,347.6 1601.1,345.3 1603.2,343.0 1605.3,340.7 1607.4,338.4 1609.5,336.1 1611.7,333.9 1613.8,331.6 1615.9,329.3 1618.0,327.1 1620.1,324.9 1622.2,322.6 1624.3,320.4 1626.5,318.2 1628.6,316.0 1630.7,313.8 1632.8,311.6 1634.9,309.4 1637.0,307.3 1639.1,305.1 1641.2,303.0 1643.4,300.8 1645.5,298.7 1647.6,296.6 1649.7,294.5 1651.8,292.4 1653.9,290.3 1656.0,288.2 1658.2,286.1 1660.3,284.1 1662.4,282.0 1664.5,280.0 1666.6,277.9 1668.7,275.9 1670.8,273.9 1673.0,271.9 1675.1,269.9 1677.2,267.9 1679.3,266.0 1681.4,264.0 1683.5,262.0 1685.6,260.1 1687.8,258.2 1689.9,256.3 1692.0,254.3 1694.1,252.4 1696.2,250.6 1698.3,248.7 1700.4,246.8 1702.5,245.0 1704.7,243.1 1706.8,241.3 1708.9,239.5 1711.0,237.6 1713.1,235.8 1715.2,234.0 1717.3,232.3 1719.5,230.5 1721.6,228.7 1723.7,227.0 1725.8,225.3 1727.9,223.5 1730.0,221.8 1732.1,220.1 1734.2,218.4 1736.4,216.8 1738.5,215.1 1740.6,213.4 1742.7,211.8 1744.8,210.2 1746.9,208.5 1749.0,206.9 1751.2,205.3 1753.3,203.7 1755.4,202.2 1757.5,200.6 1759.6,199.1 1761.7,197.5 1763.8,196.0 1766.0,194.5 1768.1,193.0 1770.2,191.5 1772.3,190.0 1774.4,188.6 1776.5,187.1 1778.6,185.7 1780.8,184.2 1782.9,182.8 1785.0,181.4 1787.1,180.0 1789.2,178.7 1791.3,177.3 1793.4,175.9 1795.5,174.6 1797.7,173.3 1799.8,172.0 1801.9,170.7 1804.0,169.4 1806.1,168.1 1808.2,166.8 1810.3,165.6 1812.5,164.4 1814.6,163.1 1816.7,161.9 1818.8,160.7 1820.9,159.6 1823.0,158.4 1825.1,157.2 1827.2,156.1 1829.4,155.0 1831.5,153.8 1833.6,152.7 1835.7,151.7 1837.8,150.6 1839.9,149.5 1842.0,148.5 1844.2,147.4 1846.3,146.4 1848.4,145.4 1850.5,144.4 1852.6,143.4 1854.7,142.5 1856.8,141.5 1859.0,140.6 1861.1,139.6 1863.2,138.7 1865.3,137.8 1867.4,136.9 1869.5,136.0 1871.6,135.2 1873.8,134.3 1875.9,133.5 1878.0,132.6 1880.1,131.8 1882.2,131.0 1884.3,130.2 1886.4,129.4 1888.5,128.7 1890.7,127.9 1892.8,127.2 1894.9,126.4 1897.0,125.7 1899.1,125.0 1901.2,124.3 1903.3,123.6 1905.5,122.9 1907.6,122.2 1909.7,121.6 1911.8,120.9 1913.9,120.3 1916.0,119.7 1918.1,119.1 1920.2,118.5 1922.4,117.9 1924.5,117.3 1926.6,116.7 1928.7,116.1 1930.8,115.6 1932.9,115.0 1935.0,114.5 1937.2,114.0 1939.3,113.5 1941.4,113.0 1943.5,112.5 1945.6,112.0 1947.7,111.5 1949.8,111.1 1952.0,110.6 1954.1,110.2 1956.2,109.7 1958.3,109.3 1960.4,108.9 1962.5,108.5 1964.6,108.1 1966.8,107.7 1968.9,107.3 1971.0,107.0 1973.1,106.6 1975.2,106.2 1977.3,105.9 1979.4,105.6 1981.5,105.2 1983.7,104.9 1985.8,104.6 1987.9,104.3 1990.0,104.0 1992.1,103.7 1994.2,103.4 1996.3,103.2 1998.5,102.9 2000.6,102.7 2002.7,102.4 2004.8,102.2 2006.9,101.9 2009.0,101.7 2011.1,101.5 2013.2,101.3 2015.4,101.1 2017.5,100.9 2019.6,100.7 2021.7,100.5 2023.8,100.4 2025.9,100.2 2028.0,100.0 2030.2,99.9 2032.3,99.7 2034.4,99.6 2036.5,99.5 2038.6,99.3 2040.7,99.2 2042.8,99.1 2045.0,99.0 2047.1,98.9 2049.2,98.8 2051.3,98.7 2053.4,98.6 2055.5,98.5 2057.6,98.4 2059.8,98.4 2061.9,98.3 2064.0,98.2 2066.1,98.2 2068.2,98.1 2070.3,98.0 2072.4,98.0 2074.5,97.9 2076.7,97.9 2078.8,97.9 2080.9,97.8 2083.0,97.8 2085.1,97.8 2087.2,97.7 2089.3,97.7 2091.5,97.7 2093.6,97.7 2095.7,97.6 2097.8,97.6 2099.9,97.6 2102.0,97.6 2104.1,97.6 2106.2,97.6 2108.4,97.6 2110.5,97.6 2112.6,97.5 2114.7,97.5 2116.8,97.5 2118.9,97.5 2121.0,97.5 2123.2,97.5 2125.3,97.5 2127.4,97.5 2129.5,97.5 2131.6,97.5 2133.7,97.5 2135.8,97.5 2138.0,97.5 2140.1,97.5 2142.2,97.5 2144.3,97.5 2146.4,97.5 2148.5,97.5 2150.6,97.5 2152.8,97.5 2154.9,97.5 2157.0,97.4 2159.1,97.4 2161.2,97.4 2163.3,97.4 2165.4,97.4 2167.5,97.3 2169.7,97.3 2171.8,97.3 2173.9,97.2 2176.0,97.2 2178.1,97.2 2180.2,97.1 2182.3,97.1 2184.5,97.0 2186.6,97.0 2188.7,96.9 2190.8,96.9 2192.9,96.8 2195.0,96.7 2197.1,96.7 2199.2,96.6 2201.4,96.5 2203.5,96.4 2205.6,96.3 2207.7,96.2 2209.8,96.1 2211.9,96.0 2214.0,95.9 2216.2,95.8 2218.3,95.7 2220.4,95.5 2222.5,95.4 2224.6,95.3 2226.7,95.1" fill="none" stroke="#ff0000" stroke-width="6.8" stroke-dasharray="22.2 9.6" stroke-linecap="butt" stroke-linejoin="round"/>
</g>
<g stroke="#000" fill="none"><path d="M1381.27 652.5 V638.5 M1381.27 68.5 V82.5" stroke-width="3"/><path d="M1423.55 652.5 V643.5 M1423.55 68.5 V77.5" stroke-width="2"/><path d="M1465.82 652.5 V643.5 M1465.82 68.5 V77.5" stroke-width="2"/><path d="M1508.09 652.5 V643.5 M1508.09 68.5 V77.5" stroke-width="2"/><path d="M1550.36 652.5 V638.5 M1550.36 68.5 V82.5" stroke-width="3"/><path d="M1592.64 652.5 V643.5 M1592.64 68.5 V77.5" stroke-width="2"/><path d="M1634.91 652.5 V643.5 M1634.91 68.5 V77.5" stroke-width="2"/><path d="M1677.18 652.5 V643.5 M1677.18 68.5 V77.5" stroke-width="2"/><path d="M1719.45 652.5 V638.5 M1719.45 68.5 V82.5" stroke-width="3"/><path d="M1761.73 652.5 V643.5 M1761.73 68.5 V77.5" stroke-width="2"/><path d="M1804.00 652.5 V643.5 M1804.00 68.5 V77.5" stroke-width="2"/><path d="M1846.27 652.5 V643.5 M1846.27 68.5 V77.5" stroke-width="2"/><path d="M1888.55 652.5 V638.5 M1888.55 68.5 V82.5" stroke-width="3"/><path d="M1930.82 652.5 V643.5 M1930.82 68.5 V77.5" stroke-width="2"/><path d="M1973.09 652.5 V643.5 M1973.09 68.5 V77.5" stroke-width="2"/><path d="M2015.36 652.5 V643.5 M2015.36 68.5 V77.5" stroke-width="2"/><path d="M2057.64 652.5 V638.5 M2057.64 68.5 V82.5" stroke-width="3"/><path d="M2099.91 652.5 V643.5 M2099.91 68.5 V77.5" stroke-width="2"/><path d="M2142.18 652.5 V643.5 M2142.18 68.5 V77.5" stroke-width="2"/><path d="M2184.45 652.5 V643.5 M2184.45 68.5 V77.5" stroke-width="2"/><path d="M2226.73 652.5 V638.5 M2226.73 68.5 V82.5" stroke-width="3"/><path d="M1339.0 637.44 H1353.0 M2269.0 637.44 H2255.0" stroke-width="3"/><path d="M1339.0 619.36 H1348.0 M2269.0 619.36 H2260.0" stroke-width="2"/><path d="M1339.0 601.28 H1348.0 M2269.0 601.28 H2260.0" stroke-width="2"/><path d="M1339.0 583.20 H1348.0 M2269.0 583.20 H2260.0" stroke-width="2"/><path d="M1339.0 565.12 H1348.0 M2269.0 565.12 H2260.0" stroke-width="2"/><path d="M1339.0 547.04 H1353.0 M2269.0 547.04 H2255.0" stroke-width="3"/><path d="M1339.0 528.96 H1348.0 M2269.0 528.96 H2260.0" stroke-width="2"/><path d="M1339.0 510.88 H1348.0 M2269.0 510.88 H2260.0" stroke-width="2"/><path d="M1339.0 492.80 H1348.0 M2269.0 492.80 H2260.0" stroke-width="2"/><path d="M1339.0 474.72 H1348.0 M2269.0 474.72 H2260.0" stroke-width="2"/><path d="M1339.0 456.64 H1353.0 M2269.0 456.64 H2255.0" stroke-width="3"/><path d="M1339.0 438.56 H1348.0 M2269.0 438.56 H2260.0" stroke-width="2"/><path d="M1339.0 420.48 H1348.0 M2269.0 420.48 H2260.0" stroke-width="2"/><path d="M1339.0 402.40 H1348.0 M2269.0 402.40 H2260.0" stroke-width="2"/><path d="M1339.0 384.32 H1348.0 M2269.0 384.32 H2260.0" stroke-width="2"/><path d="M1339.0 366.24 H1353.0 M2269.0 366.24 H2255.0" stroke-width="3"/><path d="M1339.0 348.16 H1348.0 M2269.0 348.16 H2260.0" stroke-width="2"/><path d="M1339.0 330.08 H1348.0 M2269.0 330.08 H2260.0" stroke-width="2"/><path d="M1339.0 312.00 H1348.0 M2269.0 312.00 H2260.0" stroke-width="2"/><path d="M1339.0 293.92 H1348.0 M2269.0 293.92 H2260.0" stroke-width="2"/><path d="M1339.0 275.84 H1353.0 M2269.0 275.84 H2255.0" stroke-width="3"/><path d="M1339.0 257.76 H1348.0 M2269.0 257.76 H2260.0" stroke-width="2"/><path d="M1339.0 239.68 H1348.0 M2269.0 239.68 H2260.0" stroke-width="2"/><path d="M1339.0 221.60 H1348.0 M2269.0 221.60 H2260.0" stroke-width="2"/><path d="M1339.0 203.52 H1348.0 M2269.0 203.52 H2260.0" stroke-width="2"/><path d="M1339.0 185.44 H1353.0 M2269.0 185.44 H2255.0" stroke-width="3"/><path d="M1339.0 167.36 H1348.0 M2269.0 167.36 H2260.0" stroke-width="2"/><path d="M1339.0 149.28 H1348.0 M2269.0 149.28 H2260.0" stroke-width="2"/><path d="M1339.0 131.20 H1348.0 M2269.0 131.20 H2260.0" stroke-width="2"/><path d="M1339.0 113.13 H1348.0 M2269.0 113.13 H2260.0" stroke-width="2"/><path d="M1339.0 95.05 H1353.0 M2269.0 95.05 H2255.0" stroke-width="3"/><path d="M1339.0 76.97 H1348.0 M2269.0 76.97 H2260.0" stroke-width="2"/></g>
<rect x="1339.0" y="68.5" width="930.0" height="584.0" fill="none" stroke="#000" stroke-width="3"/>
<g font-family="'DejaVu Sans', 'Liberation Sans', sans-serif" font-weight="bold" font-size="36.8" fill="#000">
<text x="1381.27" y="690.10" text-anchor="middle">0.0</text>
<text x="1550.36" y="690.10" text-anchor="middle">0.2</text>
<text x="1719.45" y="690.10" text-anchor="middle">0.4</text>
<text x="1888.55" y="690.10" text-anchor="middle">0.6</text>
<text x="2057.64" y="690.10" text-anchor="middle">0.8</text>
<text x="2226.73" y="690.10" text-anchor="middle">1.0</text>
<text x="1330.10" y="650.94" text-anchor="end">0.4</text>
<text x="1330.10" y="560.54" text-anchor="end">0.5</text>
<text x="1330.10" y="470.14" text-anchor="end">0.6</text>
<text x="1330.10" y="379.74" text-anchor="end">0.7</text>
<text x="1330.10" y="289.34" text-anchor="end">0.8</text>
<text x="1330.10" y="198.94" text-anchor="end">0.9</text>
<text x="1330.10" y="108.55" text-anchor="end">1.0</text>
</g>
<text x="1804.00" y="52.10" text-anchor="middle" font-family="'DejaVu Sans', 'Liberation Sans', sans-serif" font-weight="bold" font-size="39.0">Syringa</text>
<text x="1804.00" y="737.80" text-anchor="middle" font-family="'DejaVu Sans', 'Liberation Sans', sans-serif" font-weight="bold" font-size="39.0">Fraction of removed nodes (p)</text>
<text transform="translate(1245.40 360.50) rotate(-90)" text-anchor="middle" font-family="'DejaVu Sans', 'Liberation Sans', sans-serif" font-weight="bold" font-size="39.0">n<tspan font-size="27.3" dy="7">D</tspan></text>
<path d="M1881.9 493.5 H1953.1" stroke="#808080" stroke-width="6.8" stroke-linecap="square"/>
<path d="M1881.9 546.5 H1953.1" stroke="#008000" stroke-width="6.8" stroke-linecap="square"/>
<path d="M1880.5 599.5 H1954.5" stroke="#ff0000" stroke-width="6.8" stroke-dasharray="22 8"/>
<text font-family="'DejaVu Sans', 'Liberation Sans', sans-serif" font-weight="bold" font-size="38" x="1981.6" y="505.3">α</text>
<text font-family="'DejaVu Sans', 'Liberation Sans', sans-serif" font-weight="bold" font-size="36.3" x="2013.6" y="505.3">=</text>
<text font-family="'DejaVu Sans', 'Liberation Sans', sans-serif" font-weight="bold" font-size="37.5" x="2051.5" y="505.3">0</text>
<text font-family="'DejaVu Sans', 'Liberation Sans', sans-serif" font-weight="bold" font-size="38" x="1981.6" y="556.8">α</text>
<text font-family="'DejaVu Sans', 'Liberation Sans', sans-serif" font-weight="bold" font-size="36.3" x="2013.6" y="556.8">=</text>
<text font-family="'DejaVu Sans', 'Liberation Sans', sans-serif" font-weight="bold" font-size="37.5" x="2051.5" y="556.8">1</text>
<text font-family="'DejaVu Sans', 'Liberation Sans', sans-serif" font-weight="bold" font-size="36.3" x="1982.0" y="612.0">analytical_in</text>
<text x="1605.9" y="881.0" font-family="'Liberation Serif', 'DejaVu Serif', serif" font-size="79" textLength="92.3" lengthAdjust="spacingAndGlyphs">(<tspan font-weight="bold">b</tspan>)</text>
<text x="1714.3" y="881.0" font-family="'Liberation Serif', 'DejaVu Serif', serif" font-size="79" textLength="256.1" lengthAdjust="spacingAndGlyphs">Syringa</text>
</g>
<g id="panel-c">
<clipPath id="clipc"><rect x="141.5" y="1100.5" width="930.0" height="584.0"/></clipPath>
<g clip-path="url(#clipc)">
<polyline points="183.8,1657.6 185.9,1655.8 188.0,1653.9 190.1,1652.1 192.2,1650.2 194.3,1648.4 196.5,1646.5 198.6,1644.6 200.7,1642.8 202.8,1640.9 204.9,1639.1 207.0,1637.2 209.1,1635.3 211.2,1633.5 213.4,1631.6 215.5,1629.8 217.6,1627.9 219.7,1626.0 221.8,1624.2 223.9,1622.3 226.0,1620.4 228.2,1618.6 230.3,1616.7 232.4,1614.8 234.5,1613.0 236.6,1611.1 238.7,1609.2 240.8,1607.4 243.0,1605.5 245.1,1603.6 247.2,1601.8 249.3,1599.9 251.4,1598.0 253.5,1596.2 255.6,1594.3 257.8,1592.4 259.9,1590.6 262.0,1588.7 264.1,1586.8 266.2,1585.0 268.3,1583.1 270.4,1581.2 272.5,1579.4 274.7,1577.5 276.8,1575.6 278.9,1573.8 281.0,1571.9 283.1,1570.0 285.2,1568.2 287.3,1566.3 289.5,1564.4 291.6,1562.6 293.7,1560.7 295.8,1558.9 297.9,1557.0 300.0,1555.1 302.1,1553.3 304.2,1551.4 306.4,1549.6 308.5,1547.7 310.6,1545.8 312.7,1544.0 314.8,1542.1 316.9,1540.3 319.0,1538.4 321.2,1536.6 323.3,1534.7 325.4,1532.9 327.5,1531.0 329.6,1529.2 331.7,1527.3 333.8,1525.5 336.0,1523.6 338.1,1521.8 340.2,1519.9 342.3,1518.1 344.4,1516.2 346.5,1514.4 348.6,1512.5 350.8,1510.7 352.9,1508.9 355.0,1507.0 357.1,1505.2 359.2,1503.4 361.3,1501.5 363.4,1499.7 365.5,1497.9 367.7,1496.0 369.8,1494.2 371.9,1492.4 374.0,1490.5 376.1,1488.7 378.2,1486.9 380.3,1485.1 382.5,1483.3 384.6,1481.4 386.7,1479.6 388.8,1477.8 390.9,1476.0 393.0,1474.2 395.1,1472.4 397.2,1470.6 399.4,1468.8 401.5,1467.0 403.6,1465.2 405.7,1463.4 407.8,1461.6 409.9,1459.8 412.0,1458.0 414.2,1456.2 416.3,1454.4 418.4,1452.6 420.5,1450.8 422.6,1449.0 424.7,1447.2 426.8,1445.5 429.0,1443.7 431.1,1441.9 433.2,1440.1 435.3,1438.4 437.4,1436.6 439.5,1434.8 441.6,1433.1 443.7,1431.3 445.9,1429.5 448.0,1427.8 450.1,1426.0 452.2,1424.3 454.3,1422.5 456.4,1420.8 458.5,1419.0 460.7,1417.3 462.8,1415.6 464.9,1413.8 467.0,1412.1 469.1,1410.3 471.2,1408.6 473.3,1406.9 475.5,1405.2 477.6,1403.4 479.7,1401.7 481.8,1400.0 483.9,1398.3 486.0,1396.6 488.1,1394.9 490.2,1393.2 492.4,1391.5 494.5,1389.8 496.6,1388.1 498.7,1386.4 500.8,1384.7 502.9,1383.0 505.0,1381.3 507.2,1379.7 509.3,1378.0 511.4,1376.3 513.5,1374.6 515.6,1373.0 517.7,1371.3 519.8,1369.6 522.0,1368.0 524.1,1366.3 526.2,1364.7 528.3,1363.0 530.4,1361.4 532.5,1359.7 534.6,1358.1 536.8,1356.5 538.9,1354.8 541.0,1353.2 543.1,1351.6 545.2,1350.0 547.3,1348.4 549.4,1346.7 551.5,1345.1 553.7,1343.5 555.8,1341.9 557.9,1340.3 560.0,1338.7 562.1,1337.2 564.2,1335.6 566.3,1334.0 568.5,1332.4 570.6,1330.8 572.7,1329.3 574.8,1327.7 576.9,1326.1 579.0,1324.6 581.1,1323.0 583.2,1321.5 585.4,1319.9 587.5,1318.4 589.6,1316.8 591.7,1315.3 593.8,1313.8 595.9,1312.3 598.0,1310.7 600.2,1309.2 602.3,1307.7 604.4,1306.2 606.5,1304.7 608.6,1303.2 610.7,1301.7 612.8,1300.2 615.0,1298.7 617.1,1297.2 619.2,1295.8 621.3,1294.3 623.4,1292.8 625.5,1291.4 627.6,1289.9 629.8,1288.4 631.9,1287.0 634.0,1285.6 636.1,1284.1 638.2,1282.7 640.3,1281.2 642.4,1279.8 644.5,1278.4 646.7,1277.0 648.8,1275.6 650.9,1274.2 653.0,1272.8 655.1,1271.4 657.2,1270.0 659.3,1268.6 661.5,1267.2 663.6,1265.8 665.7,1264.5 667.8,1263.1 669.9,1261.7 672.0,1260.4 674.1,1259.0 676.2,1257.7 678.4,1256.3 680.5,1255.0 682.6,1253.7 684.7,1252.4 686.8,1251.0 688.9,1249.7 691.0,1248.4 693.2,1247.1 695.3,1245.8 697.4,1244.5 699.5,1243.2 701.6,1242.0 703.7,1240.7 705.8,1239.4 708.0,1238.2 710.1,1236.9 712.2,1235.6 714.3,1234.4 716.4,1233.2 718.5,1231.9 720.6,1230.7 722.8,1229.5 724.9,1228.2 727.0,1227.0 729.1,1225.8 731.2,1224.6 733.3,1223.4 735.4,1222.2 737.5,1221.1 739.7,1219.9 741.8,1218.7 743.9,1217.6 746.0,1216.4 748.1,1215.2 750.2,1214.1 752.3,1213.0 754.5,1211.8 756.6,1210.7 758.7,1209.6 760.8,1208.5 762.9,1207.4 765.0,1206.2 767.1,1205.2 769.2,1204.1 771.4,1203.0 773.5,1201.9 775.6,1200.8 777.7,1199.8 779.8,1198.7 781.9,1197.7 784.0,1196.6 786.2,1195.6 788.3,1194.5 790.4,1193.5 792.5,1192.5 794.6,1191.5 796.7,1190.5 798.8,1189.5 801.0,1188.5 803.1,1187.5 805.2,1186.5 807.3,1185.6 809.4,1184.6 811.5,1183.6 813.6,1182.7 815.8,1181.8 817.9,1180.8 820.0,1179.9 822.1,1179.0 824.2,1178.1 826.3,1177.1 828.4,1176.2 830.5,1175.4 832.7,1174.5 834.8,1173.6 836.9,1172.7 839.0,1171.9 841.1,1171.0 843.2,1170.1 845.3,1169.3 847.5,1168.5 849.6,1167.6 851.7,1166.8 853.8,1166.0 855.9,1165.2 858.0,1164.4 860.1,1163.6 862.2,1162.8 864.4,1162.1 866.5,1161.3 868.6,1160.5 870.7,1159.8 872.8,1159.0 874.9,1158.3 877.0,1157.6 879.2,1156.8 881.3,1156.1 883.4,1155.4 885.5,1154.7 887.6,1154.0 889.7,1153.3 891.8,1152.7 894.0,1152.0 896.1,1151.3 898.2,1150.7 900.3,1150.1 902.4,1149.4 904.5,1148.8 906.6,1148.2 908.8,1147.6 910.9,1147.0 913.0,1146.4 915.1,1145.8 917.2,1145.2 919.3,1144.6 921.4,1144.1 923.5,1143.5 925.7,1143.0 927.8,1142.4 929.9,1141.9 932.0,1141.4 934.1,1140.9 936.2,1140.4 938.3,1139.9 940.5,1139.4 942.6,1138.9 944.7,1138.4 946.8,1138.0 948.9,1137.5 951.0,1137.1 953.1,1136.6 955.2,1136.2 957.4,1135.8 959.5,1135.4 961.6,1135.0 963.7,1134.6 965.8,1134.2 967.9,1133.9 970.0,1133.5 972.2,1133.1 974.3,1132.8 976.4,1132.4 978.5,1132.1 980.6,1131.8 982.7,1131.5 984.8,1131.2 987.0,1130.9 989.1,1130.6 991.2,1130.3 993.3,1130.1 995.4,1129.8 997.5,1129.6 999.6,1129.3 1001.8,1129.1 1003.9,1128.9 1006.0,1128.7 1008.1,1128.5 1010.2,1128.3 1012.3,1128.1 1014.4,1127.9 1016.5,1127.8 1018.7,1127.6 1020.8,1127.5 1022.9,1127.3 1025.0,1127.2 1027.1,1127.1 1029.2,1127.0" fill="none" stroke="#808080" stroke-width="6.8" stroke-linecap="square" stroke-linejoin="round"/>
<polyline points="183.8,1658.3 185.9,1656.3 188.0,1654.3 190.1,1652.2 192.2,1650.2 194.3,1648.2 196.5,1646.2 198.6,1644.2 200.7,1642.2 202.8,1640.2 204.9,1638.2 207.0,1636.2 209.1,1634.2 211.2,1632.2 213.4,1630.2 215.5,1628.2 217.6,1626.2 219.7,1624.3 221.8,1622.3 223.9,1620.3 226.0,1618.4 228.2,1616.4 230.3,1614.4 232.4,1612.5 234.5,1610.5 236.6,1608.5 238.7,1606.6 240.8,1604.6 243.0,1602.7 245.1,1600.7 247.2,1598.8 249.3,1596.8 251.4,1594.9 253.5,1593.0 255.6,1591.0 257.8,1589.1 259.9,1587.2 262.0,1585.2 264.1,1583.3 266.2,1581.4 268.3,1579.5 270.4,1577.5 272.5,1575.6 274.7,1573.7 276.8,1571.8 278.9,1569.9 281.0,1568.0 283.1,1566.1 285.2,1564.2 287.3,1562.3 289.5,1560.4 291.6,1558.4 293.7,1556.5 295.8,1554.7 297.9,1552.8 300.0,1550.9 302.1,1549.0 304.2,1547.1 306.4,1545.2 308.5,1543.3 310.6,1541.4 312.7,1539.5 314.8,1537.6 316.9,1535.8 319.0,1533.9 321.2,1532.0 323.3,1530.1 325.4,1528.2 327.5,1526.4 329.6,1524.5 331.7,1522.6 333.8,1520.7 336.0,1518.9 338.1,1517.0 340.2,1515.1 342.3,1513.3 344.4,1511.4 346.5,1509.5 348.6,1507.7 350.8,1505.8 352.9,1503.9 355.0,1502.1 357.1,1500.2 359.2,1498.4 361.3,1496.5 363.4,1494.6 365.5,1492.8 367.7,1490.9 369.8,1489.1 371.9,1487.2 374.0,1485.4 376.1,1483.5 378.2,1481.6 380.3,1479.8 382.5,1477.9 384.6,1476.1 386.7,1474.2 388.8,1472.4 390.9,1470.5 393.0,1468.7 395.1,1466.8 397.2,1465.0 399.4,1463.1 401.5,1461.3 403.6,1459.4 405.7,1457.6 407.8,1455.7 409.9,1453.9 412.0,1452.0 414.2,1450.2 416.3,1448.3 418.4,1446.5 420.5,1444.6 422.6,1442.8 424.7,1440.9 426.8,1439.1 429.0,1437.2 431.1,1435.4 433.2,1433.5 435.3,1431.7 437.4,1429.8 439.5,1428.0 441.6,1426.1 443.7,1424.3 445.9,1422.4 448.0,1420.6 450.1,1418.7 452.2,1416.8 454.3,1415.0 456.4,1413.1 458.5,1411.3 460.7,1409.4 462.8,1407.6 464.9,1405.7 467.0,1403.8 469.1,1402.0 471.2,1400.1 473.3,1398.3 475.5,1396.4 477.6,1394.5 479.7,1392.7 481.8,1390.8 483.9,1388.9 486.0,1387.1 488.1,1385.2 490.2,1383.3 492.4,1381.5 494.5,1379.6 496.6,1377.7 498.7,1375.9 500.8,1374.0 502.9,1372.1 505.0,1370.2 507.2,1368.4 509.3,1366.5 511.4,1364.6 513.5,1362.7 515.6,1360.8 517.7,1358.9 519.8,1357.1 522.0,1355.2 524.1,1353.3 526.2,1351.4 528.3,1349.5 530.4,1347.6 532.5,1345.7 534.6,1343.8 536.8,1341.9 538.9,1340.0 541.0,1338.1 543.1,1336.2 545.2,1334.3 547.3,1332.4 549.4,1330.5 551.5,1328.6 553.7,1326.7 555.8,1324.7 557.9,1322.8 560.0,1320.9 562.1,1319.0 564.2,1317.1 566.3,1315.1 568.5,1313.2 570.6,1311.3 572.7,1309.3 574.8,1307.4 576.9,1305.5 579.0,1303.5 581.1,1301.6 583.2,1299.7 585.4,1297.7 587.5,1295.8 589.6,1293.8 591.7,1291.9 593.8,1289.9 595.9,1287.9 598.0,1286.0 600.2,1284.0 602.3,1282.0 604.4,1280.1 606.5,1278.1 608.6,1276.1 610.7,1274.2 612.8,1272.2 615.0,1270.2 617.1,1268.2 619.2,1266.2 621.3,1264.2 623.4,1262.2 625.5,1260.2 627.6,1258.2 629.8,1256.2 631.9,1254.2 634.0,1252.2 636.1,1250.2 638.2,1248.2 640.3,1246.2 642.4,1244.2 644.5,1242.1 646.7,1240.1 648.8,1238.1 650.9,1236.0 653.0,1234.0 655.1,1232.0 657.2,1229.9 659.3,1227.9 661.5,1225.8 663.6,1223.8 665.7,1221.7 667.8,1219.7 669.9,1217.7 672.0,1215.6 674.1,1213.6 676.2,1211.5 678.4,1209.5 680.5,1207.5 682.6,1205.5 684.7,1203.5 686.8,1201.4 688.9,1199.4 691.0,1197.4 693.2,1195.4 695.3,1193.5 697.4,1191.5 699.5,1189.5 701.6,1187.6 703.7,1185.6 705.8,1183.7 708.0,1181.8 710.1,1179.9 712.2,1178.0 714.3,1176.1 716.4,1174.2 718.5,1172.3 720.6,1170.5 722.8,1168.7 724.9,1166.8 727.0,1165.0 729.1,1163.3 731.2,1161.5 733.3,1159.8 735.4,1158.1 737.5,1156.4 739.7,1154.7 741.8,1153.1 743.9,1151.5 746.0,1149.9 748.1,1148.4 750.2,1147.0 752.3,1145.5 754.5,1144.1 756.6,1142.8 758.7,1141.5 760.8,1140.3 762.9,1139.1 765.0,1138.0 767.1,1136.9 769.2,1135.9 771.4,1134.9 773.5,1134.0 775.6,1133.2 777.7,1132.4 779.8,1131.7 781.9,1131.0 784.0,1130.3 786.2,1129.7 788.3,1129.1 790.4,1128.6 792.5,1128.1 794.6,1127.7 796.7,1127.3 798.8,1127.0 801.0,1127.0 803.1,1127.0 805.2,1127.0 807.3,1127.0 809.4,1127.0 811.5,1127.0 813.6,1127.0 815.8,1127.0 817.9,1127.0 820.0,1127.0 822.1,1127.0 824.2,1127.0 826.3,1127.0 828.4,1127.0 830.5,1127.0 832.7,1127.0 834.8,1127.0 836.9,1127.0 839.0,1127.0 841.1,1127.0 843.2,1127.0 845.3,1127.0 847.5,1127.0 849.6,1127.0 851.7,1127.0 853.8,1127.0 855.9,1127.0 858.0,1127.0 860.1,1127.0 862.2,1127.0 864.4,1127.0 866.5,1127.0 868.6,1127.0 870.7,1127.0 872.8,1127.0 874.9,1127.0 877.0,1127.0 879.2,1127.0 881.3,1127.0 883.4,1127.0 885.5,1127.0 887.6,1127.0 889.7,1127.0 891.8,1127.0 894.0,1127.0 896.1,1127.0 898.2,1127.0 900.3,1127.0 902.4,1127.0 904.5,1127.0 906.6,1127.0 908.8,1127.0 910.9,1127.0 913.0,1127.0 915.1,1127.0 917.2,1127.0 919.3,1127.0 921.4,1127.0 923.5,1127.0 925.7,1127.0 927.8,1127.0 929.9,1127.0 932.0,1127.0 934.1,1127.0 936.2,1127.0 938.3,1127.0 940.5,1127.0 942.6,1127.0 944.7,1127.0 946.8,1127.0 948.9,1127.0 951.0,1127.0 953.1,1127.0 955.2,1127.0 957.4,1127.0 959.5,1127.0 961.6,1127.0 963.7,1127.0 965.8,1127.0 967.9,1127.0 970.0,1127.0 972.2,1127.0 974.3,1127.0 976.4,1127.0 978.5,1127.0 980.6,1127.0 982.7,1127.0 984.8,1127.0 987.0,1127.0 989.1,1127.0 991.2,1127.0 993.3,1127.0 995.4,1127.0 997.5,1127.0 999.6,1127.0 1001.8,1127.0 1003.9,1127.0 1006.0,1127.0 1008.1,1127.0 1010.2,1127.0 1012.3,1127.0 1014.4,1127.0 1016.5,1127.0 1018.7,1127.0 1020.8,1127.0 1022.9,1127.0 1025.0,1127.0 1027.1,1127.0 1029.2,1127.0" fill="none" stroke="#008000" stroke-width="6.8" stroke-linecap="square" stroke-linejoin="round"/>
<polyline points="183.8,1658.9 185.9,1656.2 188.0,1653.5 190.1,1650.8 192.2,1648.1 194.3,1645.5 196.5,1642.8 198.6,1640.2 200.7,1637.5 202.8,1634.8 204.9,1632.2 207.0,1629.5 209.1,1626.9 211.2,1624.3 213.4,1621.6 215.5,1619.0 217.6,1616.4 219.7,1613.8 221.8,1611.2 223.9,1608.6 226.0,1606.0 228.2,1603.4 230.3,1600.8 232.4,1598.2 234.5,1595.6 236.6,1593.0 238.7,1590.4 240.8,1587.9 243.0,1585.3 245.1,1582.7 247.2,1580.2 249.3,1577.6 251.4,1575.1 253.5,1572.5 255.6,1570.0 257.8,1567.5 259.9,1564.9 262.0,1562.4 264.1,1559.9 266.2,1557.4 268.3,1554.9 270.4,1552.4 272.5,1549.9 274.7,1547.4 276.8,1544.9 278.9,1542.4 281.0,1539.9 283.1,1537.5 285.2,1535.0 287.3,1532.5 289.5,1530.1 291.6,1527.6 293.7,1525.2 295.8,1522.7 297.9,1520.3 300.0,1517.9 302.1,1515.4 304.2,1513.0 306.4,1510.6 308.5,1508.2 310.6,1505.8 312.7,1503.4 314.8,1501.0 316.9,1498.6 319.0,1496.2 321.2,1493.9 323.3,1491.5 325.4,1489.1 327.5,1486.8 329.6,1484.4 331.7,1482.1 333.8,1479.7 336.0,1477.4 338.1,1475.1 340.2,1472.7 342.3,1470.4 344.4,1468.1 346.5,1465.8 348.6,1463.5 350.8,1461.2 352.9,1458.9 355.0,1456.6 357.1,1454.4 359.2,1452.1 361.3,1449.8 363.4,1447.6 365.5,1445.3 367.7,1443.1 369.8,1440.8 371.9,1438.6 374.0,1436.3 376.1,1434.1 378.2,1431.9 380.3,1429.7 382.5,1427.5 384.6,1425.3 386.7,1423.1 388.8,1420.9 390.9,1418.7 393.0,1416.6 395.1,1414.4 397.2,1412.2 399.4,1410.1 401.5,1407.9 403.6,1405.8 405.7,1403.7 407.8,1401.5 409.9,1399.4 412.0,1397.3 414.2,1395.2 416.3,1393.1 418.4,1391.0 420.5,1388.9 422.6,1386.8 424.7,1384.7 426.8,1382.7 429.0,1380.6 431.1,1378.6 433.2,1376.5 435.3,1374.5 437.4,1372.4 439.5,1370.4 441.6,1368.4 443.7,1366.4 445.9,1364.4 448.0,1362.4 450.1,1360.4 452.2,1358.4 454.3,1356.4 456.4,1354.4 458.5,1352.5 460.7,1350.5 462.8,1348.5 464.9,1346.6 467.0,1344.7 469.1,1342.7 471.2,1340.8 473.3,1338.9 475.5,1337.0 477.6,1335.1 479.7,1333.2 481.8,1331.3 483.9,1329.4 486.0,1327.5 488.1,1325.7 490.2,1323.8 492.4,1322.0 494.5,1320.1 496.6,1318.3 498.7,1316.5 500.8,1314.6 502.9,1312.8 505.0,1311.0 507.2,1309.2 509.3,1307.4 511.4,1305.7 513.5,1303.9 515.6,1302.1 517.7,1300.3 519.8,1298.6 522.0,1296.8 524.1,1295.1 526.2,1293.4 528.3,1291.7 530.4,1289.9 532.5,1288.2 534.6,1286.5 536.8,1284.8 538.9,1283.2 541.0,1281.5 543.1,1279.8 545.2,1278.2 547.3,1276.5 549.4,1274.9 551.5,1273.2 553.7,1271.6 555.8,1270.0 557.9,1268.4 560.0,1266.8 562.1,1265.2 564.2,1263.6 566.3,1262.0 568.5,1260.4 570.6,1258.9 572.7,1257.3 574.8,1255.8 576.9,1254.2 579.0,1252.7 581.1,1251.2 583.2,1249.7 585.4,1248.2 587.5,1246.7 589.6,1245.2 591.7,1243.7 593.8,1242.2 595.9,1240.8 598.0,1239.3 600.2,1237.9 602.3,1236.4 604.4,1235.0 606.5,1233.6 608.6,1232.2 610.7,1230.8 612.8,1229.4 615.0,1228.0 617.1,1226.6 619.2,1225.2 621.3,1223.9 623.4,1222.5 625.5,1221.2 627.6,1219.9 629.8,1218.5 631.9,1217.2 634.0,1215.9 636.1,1214.6 638.2,1213.3 640.3,1212.0 642.4,1210.8 644.5,1209.5 646.7,1208.3 648.8,1207.0 650.9,1205.8 653.0,1204.6 655.1,1203.3 657.2,1202.1 659.3,1200.9 661.5,1199.7 663.6,1198.6 665.7,1197.4 667.8,1196.2 669.9,1195.1 672.0,1193.9 674.1,1192.8 676.2,1191.7 678.4,1190.6 680.5,1189.5 682.6,1188.4 684.7,1187.3 686.8,1186.2 688.9,1185.1 691.0,1184.1 693.2,1183.0 695.3,1182.0 697.4,1181.0 699.5,1179.9 701.6,1178.9 703.7,1177.9 705.8,1176.9 708.0,1176.0 710.1,1175.0 712.2,1174.0 714.3,1173.1 716.4,1172.2 718.5,1171.2 720.6,1170.3 722.8,1169.4 724.9,1168.5 727.0,1167.6 729.1,1166.7 731.2,1165.9 733.3,1165.0 735.4,1164.2 737.5,1163.3 739.7,1162.5 741.8,1161.7 743.9,1160.9 746.0,1160.1 748.1,1159.3 750.2,1158.5 752.3,1157.8 754.5,1157.0 756.6,1156.3 758.7,1155.6 760.8,1154.8 762.9,1154.1 765.0,1153.4 767.1,1152.8 769.2,1152.1 771.4,1151.4 773.5,1150.8 775.6,1150.1 777.7,1149.5 779.8,1148.9 781.9,1148.3 784.0,1147.7 786.2,1147.1 788.3,1146.5 790.4,1145.9 792.5,1145.4 794.6,1144.8 796.7,1144.3 798.8,1143.8 801.0,1143.3 803.1,1142.8 805.2,1142.3 807.3,1141.8 809.4,1141.4 811.5,1140.9 813.6,1140.5 815.8,1140.1 817.9,1139.6 820.0,1139.2 822.1,1138.8 824.2,1138.5 826.3,1138.1 828.4,1137.7 830.5,1137.4 832.7,1137.1 834.8,1136.7 836.9,1136.4 839.0,1136.1 841.1,1135.8 843.2,1135.5 845.3,1135.2 847.5,1135.0 849.6,1134.7 851.7,1134.5 853.8,1134.2 855.9,1134.0 858.0,1133.8 860.1,1133.6 862.2,1133.4 864.4,1133.2 866.5,1133.0 868.6,1132.8 870.7,1132.6 872.8,1132.4 874.9,1132.3 877.0,1132.1 879.2,1132.0 881.3,1131.8 883.4,1131.7 885.5,1131.6 887.6,1131.4 889.7,1131.3 891.8,1131.2 894.0,1131.1 896.1,1131.0 898.2,1130.9 900.3,1130.8 902.4,1130.7 904.5,1130.6 906.6,1130.6 908.8,1130.5 910.9,1130.4 913.0,1130.4 915.1,1130.3 917.2,1130.2 919.3,1130.2 921.4,1130.1 923.5,1130.1 925.7,1130.0 927.8,1130.0 929.9,1129.9 932.0,1129.9 934.1,1129.8 936.2,1129.8 938.3,1129.8 940.5,1129.7 942.6,1129.7 944.7,1129.7 946.8,1129.6 948.9,1129.6 951.0,1129.6 953.1,1129.5 955.2,1129.5 957.4,1129.5 959.5,1129.4 961.6,1129.4 963.7,1129.4 965.8,1129.3 967.9,1129.3 970.0,1129.3 972.2,1129.2 974.3,1129.2 976.4,1129.1 978.5,1129.1 980.6,1129.1 982.7,1129.0 984.8,1129.0 987.0,1128.9 989.1,1128.9 991.2,1128.8 993.3,1128.7 995.4,1128.7 997.5,1128.6 999.6,1128.5 1001.8,1128.5 1003.9,1128.4 1006.0,1128.3 1008.1,1128.2 1010.2,1128.1 1012.3,1128.0 1014.4,1127.9 1016.5,1127.8 1018.7,1127.7 1020.8,1127.6 1022.9,1127.4 1025.0,1127.3 1027.1,1127.2 1029.2,1127.0" fill="none" stroke="#ff0000" stroke-width="6.8" stroke-dasharray="22.2 9.6" stroke-linecap="butt" stroke-linejoin="round"/>
</g>
<g stroke="#000" fill="none"><path d="M183.77 1684.5 V1670.5 M183.77 1100.5 V1114.5" stroke-width="3"/><path d="M226.05 1684.5 V1675.5 M226.05 1100.5 V1109.5" stroke-width="2"/><path d="M268.32 1684.5 V1675.5 M268.32 1100.5 V1109.5" stroke-width="2"/><path d="M310.59 1684.5 V1675.5 M310.59 1100.5 V1109.5" stroke-width="2"/><path d="M352.86 1684.5 V1670.5 M352.86 1100.5 V1114.5" stroke-width="3"/><path d="M395.14 1684.5 V1675.5 M395.14 1100.5 V1109.5" stroke-width="2"/><path d="M437.41 1684.5 V1675.5 M437.41 1100.5 V1109.5" stroke-width="2"/><path d="M479.68 1684.5 V1675.5 M479.68 1100.5 V1109.5" stroke-width="2"/><path d="M521.95 1684.5 V1670.5 M521.95 1100.5 V1114.5" stroke-width="3"/><path d="M564.23 1684.5 V1675.5 M564.23 1100.5 V1109.5" stroke-width="2"/><path d="M606.50 1684.5 V1675.5 M606.50 1100.5 V1109.5" stroke-width="2"/><path d="M648.77 1684.5 V1675.5 M648.77 1100.5 V1109.5" stroke-width="2"/><path d="M691.05 1684.5 V1670.5 M691.05 1100.5 V1114.5" stroke-width="3"/><path d="M733.32 1684.5 V1675.5 M733.32 1100.5 V1109.5" stroke-width="2"/><path d="M775.59 1684.5 V1675.5 M775.59 1100.5 V1109.5" stroke-width="2"/><path d="M817.86 1684.5 V1675.5 M817.86 1100.5 V1109.5" stroke-width="2"/><path d="M860.14 1684.5 V1670.5 M860.14 1100.5 V1114.5" stroke-width="3"/><path d="M902.41 1684.5 V1675.5 M902.41 1100.5 V1109.5" stroke-width="2"/><path d="M944.68 1684.5 V1675.5 M944.68 1100.5 V1109.5" stroke-width="2"/><path d="M986.95 1684.5 V1675.5 M986.95 1100.5 V1109.5" stroke-width="2"/><path d="M1029.23 1684.5 V1670.5 M1029.23 1100.5 V1114.5" stroke-width="3"/><path d="M141.5 1683.16 H150.5 M1071.5 1683.16 H1062.5" stroke-width="2"/><path d="M141.5 1665.22 H155.5 M1071.5 1665.22 H1057.5" stroke-width="3"/><path d="M141.5 1647.28 H150.5 M1071.5 1647.28 H1062.5" stroke-width="2"/><path d="M141.5 1629.34 H150.5 M1071.5 1629.34 H1062.5" stroke-width="2"/><path d="M141.5 1611.40 H150.5 M1071.5 1611.40 H1062.5" stroke-width="2"/><path d="M141.5 1593.46 H150.5 M1071.5 1593.46 H1062.5" stroke-width="2"/><path d="M141.5 1575.52 H155.5 M1071.5 1575.52 H1057.5" stroke-width="3"/><path d="M141.5 1557.59 H150.5 M1071.5 1557.59 H1062.5" stroke-width="2"/><path d="M141.5 1539.65 H150.5 M1071.5 1539.65 H1062.5" stroke-width="2"/><path d="M141.5 1521.71 H150.5 M1071.5 1521.71 H1062.5" stroke-width="2"/><path d="M141.5 1503.77 H150.5 M1071.5 1503.77 H1062.5" stroke-width="2"/><path d="M141.5 1485.83 H155.5 M1071.5 1485.83 H1057.5" stroke-width="3"/><path d="M141.5 1467.89 H150.5 M1071.5 1467.89 H1062.5" stroke-width="2"/><path d="M141.5 1449.95 H150.5 M1071.5 1449.95 H1062.5" stroke-width="2"/><path d="M141.5 1432.01 H150.5 M1071.5 1432.01 H1062.5" stroke-width="2"/><path d="M141.5 1414.07 H150.5 M1071.5 1414.07 H1062.5" stroke-width="2"/><path d="M141.5 1396.13 H155.5 M1071.5 1396.13 H1057.5" stroke-width="3"/><path d="M141.5 1378.19 H150.5 M1071.5 1378.19 H1062.5" stroke-width="2"/><path d="M141.5 1360.25 H150.5 M1071.5 1360.25 H1062.5" stroke-width="2"/><path d="M141.5 1342.32 H150.5 M1071.5 1342.32 H1062.5" stroke-width="2"/><path d="M141.5 1324.38 H150.5 M1071.5 1324.38 H1062.5" stroke-width="2"/><path d="M141.5 1306.44 H155.5 M1071.5 1306.44 H1057.5" stroke-width="3"/><path d="M141.5 1288.50 H150.5 M1071.5 1288.50 H1062.5" stroke-width="2"/><path d="M141.5 1270.56 H150.5 M1071.5 1270.56 H1062.5" stroke-width="2"/><path d="M141.5 1252.62 H150.5 M1071.5 1252.62 H1062.5" stroke-width="2"/><path d="M141.5 1234.68 H150.5 M1071.5 1234.68 H1062.5" stroke-width="2"/><path d="M141.5 1216.74 H155.5 M1071.5 1216.74 H1057.5" stroke-width="3"/><path d="M141.5 1198.80 H150.5 M1071.5 1198.80 H1062.5" stroke-width="2"/><path d="M141.5 1180.86 H150.5 M1071.5 1180.86 H1062.5" stroke-width="2"/><path d="M141.5 1162.92 H150.5 M1071.5 1162.92 H1062.5" stroke-width="2"/><path d="M141.5 1144.98 H150.5 M1071.5 1144.98 H1062.5" stroke-width="2"/><path d="M141.5 1127.05 H155.5 M1071.5 1127.05 H1057.5" stroke-width="3"/><path d="M141.5 1109.11 H150.5 M1071.5 1109.11 H1062.5" stroke-width="2"/></g>
<rect x="141.5" y="1100.5" width="930.0" height="584.0" fill="none" stroke="#000" stroke-width="3"/>
<g font-family="'DejaVu Sans', 'Liberation Sans', sans-serif" font-weight="bold" font-size="36.8" fill="#000">
<text x="183.77" y="1722.10" text-anchor="middle">0.0</text>
<text x="352.86" y="1722.10" text-anchor="middle">0.2</text>
<text x="521.95" y="1722.10" text-anchor="middle">0.4</text>
<text x="691.05" y="1722.10" text-anchor="middle">0.6</text>
<text x="860.14" y="1722.10" text-anchor="middle">0.8</text>
<text x="1029.23" y="1722.10" text-anchor="middle">1.0</text>
<text x="132.60" y="1678.72" text-anchor="end">0.4</text>
<text x="132.60" y="1589.02" text-anchor="end">0.5</text>
<text x="132.60" y="1499.33" text-anchor="end">0.6</text>
<text x="132.60" y="1409.63" text-anchor="end">0.7</text>
<text x="132.60" y="1319.94" text-anchor="end">0.8</text>
<text x="132.60" y="1230.24" text-anchor="end">0.9</text>
<text x="132.60" y="1140.55" text-anchor="end">1.0</text>
</g>
<text x="606.50" y="1084.10" text-anchor="middle" font-family="'DejaVu Sans', 'Liberation Sans', sans-serif" font-weight="bold" font-size="39.0">Interoute</text>
<text x="606.50" y="1769.80" text-anchor="middle" font-family="'DejaVu Sans', 'Liberation Sans', sans-serif" font-weight="bold" font-size="39.0">Fraction of removed nodes (p)</text>
<text transform="translate(47.90 1392.50) rotate(-90)" text-anchor="middle" font-family="'DejaVu Sans', 'Liberation Sans', sans-serif" font-weight="bold" font-size="39.0">n<tspan font-size="27.3" dy="7">D</tspan></text>
<path d="M684.4 1524.5 H755.6" stroke="#808080" stroke-width="6.8" stroke-linecap="square"/>
<path d="M684.4 1577.5 H755.6" stroke="#008000" stroke-width="6.8" stroke-linecap="square"/>
<path d="M683.0 1630.5 H757.0" stroke="#ff0000" stroke-width="6.8" stroke-dasharray="22 8"/>
<text font-family="'DejaVu Sans', 'Liberation Sans', sans-serif" font-weight="bold" font-size="38" x="784.1" y="1536.3">α</text>
<text font-family="'DejaVu Sans', 'Liberation Sans', sans-serif" font-weight="bold" font-size="36.3" x="816.1" y="1536.3">=</text>
<text font-family="'DejaVu Sans', 'Liberation Sans', sans-serif" font-weight="bold" font-size="37.5" x="854.0" y="1536.3">0</text>
<text font-family="'DejaVu Sans', 'Liberation Sans', sans-serif" font-weight="bold" font-size="38" x="784.1" y="1587.8">α</text>
<text font-family="'DejaVu Sans', 'Liberation Sans', sans-serif" font-weight="bold" font-size="36.3" x="816.1" y="1587.8">=</text>
<text font-family="'DejaVu Sans', 'Liberation Sans', sans-serif" font-weight="bold" font-size="37.5" x="854.0" y="1587.8">1</text>
<text font-family="'DejaVu Sans', 'Liberation Sans', sans-serif" font-weight="bold" font-size="36.3" x="784.5" y="1643.0">analytical_in</text>
<text x="389.5" y="1912.2" font-family="'Liberation Serif', 'DejaVu Serif', serif" font-size="79" textLength="80.1" lengthAdjust="spacingAndGlyphs">(<tspan font-weight="bold">c</tspan>)</text>
<text x="489.4" y="1912.2" font-family="'Liberation Serif', 'DejaVu Serif', serif" font-size="79" textLength="303.8" lengthAdjust="spacingAndGlyphs">Interoute</text>
</g>
<g id="panel-d">
<clipPath id="clipd"><rect x="1339.0" y="1100.5" width="930.0" height="584.0"/></clipPath>
<g clip-path="url(#clipd)">
<polyline points="1381.3,1657.7 1383.4,1655.7 1385.5,1653.7 1387.6,1651.7 1389.7,1649.7 1391.8,1647.7 1394.0,1645.7 1396.1,1643.7 1398.2,1641.6 1400.3,1639.6 1402.4,1637.6 1404.5,1635.6 1406.6,1633.7 1408.8,1631.7 1410.9,1629.7 1413.0,1627.7 1415.1,1625.7 1417.2,1623.7 1419.3,1621.7 1421.4,1619.7 1423.5,1617.7 1425.7,1615.8 1427.8,1613.8 1429.9,1611.8 1432.0,1609.8 1434.1,1607.9 1436.2,1605.9 1438.3,1603.9 1440.5,1601.9 1442.6,1600.0 1444.7,1598.0 1446.8,1596.1 1448.9,1594.1 1451.0,1592.1 1453.1,1590.2 1455.2,1588.2 1457.4,1586.3 1459.5,1584.3 1461.6,1582.4 1463.7,1580.4 1465.8,1578.5 1467.9,1576.5 1470.0,1574.6 1472.2,1572.7 1474.3,1570.7 1476.4,1568.8 1478.5,1566.9 1480.6,1564.9 1482.7,1563.0 1484.8,1561.1 1487.0,1559.2 1489.1,1557.2 1491.2,1555.3 1493.3,1553.4 1495.4,1551.5 1497.5,1549.6 1499.6,1547.7 1501.8,1545.7 1503.9,1543.8 1506.0,1541.9 1508.1,1540.0 1510.2,1538.1 1512.3,1536.2 1514.4,1534.3 1516.5,1532.4 1518.7,1530.5 1520.8,1528.7 1522.9,1526.8 1525.0,1524.9 1527.1,1523.0 1529.2,1521.1 1531.3,1519.3 1533.5,1517.4 1535.6,1515.5 1537.7,1513.6 1539.8,1511.8 1541.9,1509.9 1544.0,1508.0 1546.1,1506.2 1548.2,1504.3 1550.4,1502.5 1552.5,1500.6 1554.6,1498.8 1556.7,1496.9 1558.8,1495.1 1560.9,1493.2 1563.0,1491.4 1565.2,1489.5 1567.3,1487.7 1569.4,1485.9 1571.5,1484.0 1573.6,1482.2 1575.7,1480.4 1577.8,1478.6 1580.0,1476.7 1582.1,1474.9 1584.2,1473.1 1586.3,1471.3 1588.4,1469.5 1590.5,1467.7 1592.6,1465.9 1594.8,1464.1 1596.9,1462.3 1599.0,1460.5 1601.1,1458.7 1603.2,1456.9 1605.3,1455.1 1607.4,1453.3 1609.5,1451.5 1611.7,1449.7 1613.8,1448.0 1615.9,1446.2 1618.0,1444.4 1620.1,1442.6 1622.2,1440.9 1624.3,1439.1 1626.5,1437.3 1628.6,1435.6 1630.7,1433.8 1632.8,1432.1 1634.9,1430.3 1637.0,1428.6 1639.1,1426.8 1641.2,1425.1 1643.4,1423.4 1645.5,1421.6 1647.6,1419.9 1649.7,1418.2 1651.8,1416.4 1653.9,1414.7 1656.0,1413.0 1658.2,1411.3 1660.3,1409.6 1662.4,1407.8 1664.5,1406.1 1666.6,1404.4 1668.7,1402.7 1670.8,1401.0 1673.0,1399.3 1675.1,1397.6 1677.2,1395.9 1679.3,1394.3 1681.4,1392.6 1683.5,1390.9 1685.6,1389.2 1687.8,1387.5 1689.9,1385.9 1692.0,1384.2 1694.1,1382.5 1696.2,1380.9 1698.3,1379.2 1700.4,1377.5 1702.5,1375.9 1704.7,1374.2 1706.8,1372.6 1708.9,1371.0 1711.0,1369.3 1713.1,1367.7 1715.2,1366.0 1717.3,1364.4 1719.5,1362.8 1721.6,1361.2 1723.7,1359.5 1725.8,1357.9 1727.9,1356.3 1730.0,1354.7 1732.1,1353.1 1734.2,1351.5 1736.4,1349.9 1738.5,1348.3 1740.6,1346.7 1742.7,1345.1 1744.8,1343.5 1746.9,1341.9 1749.0,1340.3 1751.2,1338.8 1753.3,1337.2 1755.4,1335.6 1757.5,1334.1 1759.6,1332.5 1761.7,1330.9 1763.8,1329.4 1766.0,1327.8 1768.1,1326.3 1770.2,1324.7 1772.3,1323.2 1774.4,1321.7 1776.5,1320.1 1778.6,1318.6 1780.8,1317.1 1782.9,1315.5 1785.0,1314.0 1787.1,1312.5 1789.2,1311.0 1791.3,1309.5 1793.4,1308.0 1795.5,1306.5 1797.7,1305.0 1799.8,1303.5 1801.9,1302.0 1804.0,1300.5 1806.1,1299.0 1808.2,1297.5 1810.3,1296.1 1812.5,1294.6 1814.6,1293.1 1816.7,1291.6 1818.8,1290.2 1820.9,1288.7 1823.0,1287.3 1825.1,1285.8 1827.2,1284.4 1829.4,1282.9 1831.5,1281.5 1833.6,1280.1 1835.7,1278.6 1837.8,1277.2 1839.9,1275.8 1842.0,1274.4 1844.2,1273.0 1846.3,1271.6 1848.4,1270.2 1850.5,1268.8 1852.6,1267.4 1854.7,1266.0 1856.8,1264.6 1859.0,1263.2 1861.1,1261.9 1863.2,1260.5 1865.3,1259.1 1867.4,1257.8 1869.5,1256.4 1871.6,1255.1 1873.8,1253.7 1875.9,1252.4 1878.0,1251.0 1880.1,1249.7 1882.2,1248.4 1884.3,1247.1 1886.4,1245.7 1888.5,1244.4 1890.7,1243.1 1892.8,1241.8 1894.9,1240.5 1897.0,1239.2 1899.1,1238.0 1901.2,1236.7 1903.3,1235.4 1905.5,1234.1 1907.6,1232.9 1909.7,1231.6 1911.8,1230.4 1913.9,1229.1 1916.0,1227.9 1918.1,1226.7 1920.2,1225.4 1922.4,1224.2 1924.5,1223.0 1926.6,1221.8 1928.7,1220.6 1930.8,1219.4 1932.9,1218.2 1935.0,1217.0 1937.2,1215.8 1939.3,1214.6 1941.4,1213.5 1943.5,1212.3 1945.6,1211.2 1947.7,1210.0 1949.8,1208.9 1952.0,1207.7 1954.1,1206.6 1956.2,1205.5 1958.3,1204.4 1960.4,1203.2 1962.5,1202.1 1964.6,1201.0 1966.8,1199.9 1968.9,1198.9 1971.0,1197.8 1973.1,1196.7 1975.2,1195.6 1977.3,1194.6 1979.4,1193.5 1981.5,1192.5 1983.7,1191.4 1985.8,1190.4 1987.9,1189.4 1990.0,1188.4 1992.1,1187.4 1994.2,1186.4 1996.3,1185.4 1998.5,1184.4 2000.6,1183.4 2002.7,1182.4 2004.8,1181.4 2006.9,1180.5 2009.0,1179.5 2011.1,1178.6 2013.2,1177.6 2015.4,1176.7 2017.5,1175.8 2019.6,1174.9 2021.7,1174.0 2023.8,1173.1 2025.9,1172.2 2028.0,1171.3 2030.2,1170.4 2032.3,1169.5 2034.4,1168.7 2036.5,1167.8 2038.6,1167.0 2040.7,1166.1 2042.8,1165.3 2045.0,1164.5 2047.1,1163.7 2049.2,1162.8 2051.3,1162.0 2053.4,1161.3 2055.5,1160.5 2057.6,1159.7 2059.8,1158.9 2061.9,1158.2 2064.0,1157.4 2066.1,1156.7 2068.2,1155.9 2070.3,1155.2 2072.4,1154.5 2074.5,1153.8 2076.7,1153.1 2078.8,1152.4 2080.9,1151.7 2083.0,1151.0 2085.1,1150.4 2087.2,1149.7 2089.3,1149.1 2091.5,1148.4 2093.6,1147.8 2095.7,1147.2 2097.8,1146.6 2099.9,1146.0 2102.0,1145.4 2104.1,1144.8 2106.2,1144.2 2108.4,1143.6 2110.5,1143.1 2112.6,1142.5 2114.7,1142.0 2116.8,1141.4 2118.9,1140.9 2121.0,1140.4 2123.2,1139.9 2125.3,1139.4 2127.4,1138.9 2129.5,1138.4 2131.6,1138.0 2133.7,1137.5 2135.8,1137.1 2138.0,1136.6 2140.1,1136.2 2142.2,1135.8 2144.3,1135.4 2146.4,1135.0 2148.5,1134.6 2150.6,1134.2 2152.8,1133.8 2154.9,1133.5 2157.0,1133.1 2159.1,1132.8 2161.2,1132.5 2163.3,1132.1 2165.4,1131.8 2167.5,1131.5 2169.7,1131.2 2171.8,1131.0 2173.9,1130.7 2176.0,1130.4 2178.1,1130.2 2180.2,1129.9 2182.3,1129.7 2184.5,1129.5 2186.6,1129.3 2188.7,1129.1 2190.8,1128.9 2192.9,1128.7 2195.0,1128.6 2197.1,1128.4 2199.2,1128.3 2201.4,1128.1 2203.5,1128.0 2205.6,1127.9 2207.7,1127.8 2209.8,1127.7 2211.9,1127.6 2214.0,1127.5 2216.2,1127.5 2218.3,1127.4 2220.4,1127.4 2222.5,1127.4 2224.6,1127.4 2226.7,1127.4" fill="none" stroke="#808080" stroke-width="6.8" stroke-linecap="square" stroke-linejoin="round"/>
<polyline points="1381.3,1658.1 1383.4,1655.8 1385.5,1653.4 1387.6,1651.1 1389.7,1648.8 1391.8,1646.5 1394.0,1644.1 1396.1,1641.8 1398.2,1639.5 1400.3,1637.2 1402.4,1634.9 1404.5,1632.6 1406.6,1630.3 1408.8,1628.0 1410.9,1625.7 1413.0,1623.4 1415.1,1621.1 1417.2,1618.8 1419.3,1616.5 1421.4,1614.2 1423.5,1611.9 1425.7,1609.6 1427.8,1607.3 1429.9,1605.0 1432.0,1602.7 1434.1,1600.4 1436.2,1598.2 1438.3,1595.9 1440.5,1593.6 1442.6,1591.3 1444.7,1589.0 1446.8,1586.8 1448.9,1584.5 1451.0,1582.2 1453.1,1579.9 1455.2,1577.7 1457.4,1575.4 1459.5,1573.1 1461.6,1570.9 1463.7,1568.6 1465.8,1566.4 1467.9,1564.1 1470.0,1561.8 1472.2,1559.6 1474.3,1557.3 1476.4,1555.1 1478.5,1552.8 1480.6,1550.6 1482.7,1548.3 1484.8,1546.1 1487.0,1543.8 1489.1,1541.6 1491.2,1539.3 1493.3,1537.1 1495.4,1534.8 1497.5,1532.6 1499.6,1530.3 1501.8,1528.1 1503.9,1525.9 1506.0,1523.6 1508.1,1521.4 1510.2,1519.2 1512.3,1516.9 1514.4,1514.7 1516.5,1512.5 1518.7,1510.2 1520.8,1508.0 1522.9,1505.8 1525.0,1503.5 1527.1,1501.3 1529.2,1499.1 1531.3,1496.9 1533.5,1494.6 1535.6,1492.4 1537.7,1490.2 1539.8,1488.0 1541.9,1485.8 1544.0,1483.5 1546.1,1481.3 1548.2,1479.1 1550.4,1476.9 1552.5,1474.7 1554.6,1472.5 1556.7,1470.3 1558.8,1468.1 1560.9,1465.8 1563.0,1463.6 1565.2,1461.4 1567.3,1459.2 1569.4,1457.0 1571.5,1454.8 1573.6,1452.6 1575.7,1450.4 1577.8,1448.2 1580.0,1446.0 1582.1,1443.8 1584.2,1441.6 1586.3,1439.4 1588.4,1437.2 1590.5,1435.0 1592.6,1432.8 1594.8,1430.6 1596.9,1428.4 1599.0,1426.2 1601.1,1424.0 1603.2,1421.9 1605.3,1419.7 1607.4,1417.5 1609.5,1415.3 1611.7,1413.1 1613.8,1410.9 1615.9,1408.7 1618.0,1406.5 1620.1,1404.3 1622.2,1402.2 1624.3,1400.0 1626.5,1397.8 1628.6,1395.6 1630.7,1393.4 1632.8,1391.2 1634.9,1389.0 1637.0,1386.9 1639.1,1384.7 1641.2,1382.5 1643.4,1380.3 1645.5,1378.1 1647.6,1376.0 1649.7,1373.8 1651.8,1371.6 1653.9,1369.4 1656.0,1367.3 1658.2,1365.1 1660.3,1362.9 1662.4,1360.7 1664.5,1358.5 1666.6,1356.4 1668.7,1354.2 1670.8,1352.0 1673.0,1349.8 1675.1,1347.7 1677.2,1345.5 1679.3,1343.3 1681.4,1341.2 1683.5,1339.0 1685.6,1336.8 1687.8,1334.6 1689.9,1332.5 1692.0,1330.3 1694.1,1328.1 1696.2,1326.0 1698.3,1323.8 1700.4,1321.6 1702.5,1319.4 1704.7,1317.3 1706.8,1315.1 1708.9,1312.9 1711.0,1310.8 1713.1,1308.6 1715.2,1306.4 1717.3,1304.3 1719.5,1302.1 1721.6,1299.9 1723.7,1297.8 1725.8,1295.6 1727.9,1293.4 1730.0,1291.2 1732.1,1289.1 1734.2,1286.9 1736.4,1284.7 1738.5,1282.6 1740.6,1280.4 1742.7,1278.2 1744.8,1276.1 1746.9,1273.9 1749.0,1271.7 1751.2,1269.6 1753.3,1267.4 1755.4,1265.2 1757.5,1263.1 1759.6,1260.9 1761.7,1258.7 1763.8,1256.6 1766.0,1254.4 1768.1,1252.2 1770.2,1250.1 1772.3,1247.9 1774.4,1245.7 1776.5,1243.6 1778.6,1241.4 1780.8,1239.2 1782.9,1237.1 1785.0,1234.9 1787.1,1232.8 1789.2,1230.6 1791.3,1228.5 1793.4,1226.3 1795.5,1224.2 1797.7,1222.1 1799.8,1219.9 1801.9,1217.8 1804.0,1215.7 1806.1,1213.6 1808.2,1211.5 1810.3,1209.4 1812.5,1207.3 1814.6,1205.2 1816.7,1203.1 1818.8,1201.0 1820.9,1198.9 1823.0,1196.9 1825.1,1194.8 1827.2,1192.7 1829.4,1190.7 1831.5,1188.7 1833.6,1186.6 1835.7,1184.6 1837.8,1182.6 1839.9,1180.6 1842.0,1178.6 1844.2,1176.6 1846.3,1174.7 1848.4,1172.7 1850.5,1170.8 1852.6,1168.8 1854.7,1166.9 1856.8,1165.0 1859.0,1163.1 1861.1,1161.2 1863.2,1159.3 1865.3,1157.4 1867.4,1155.6 1869.5,1153.7 1871.6,1151.9 1873.8,1150.1 1875.9,1148.3 1878.0,1146.6 1880.1,1144.8 1882.2,1143.2 1884.3,1141.5 1886.4,1140.0 1888.5,1138.5 1890.7,1137.0 1892.8,1135.6 1894.9,1134.3 1897.0,1133.0 1899.1,1131.8 1901.2,1130.8 1903.3,1129.8 1905.5,1128.8 1907.6,1128.0 1909.7,1127.2 1911.8,1127.0 1913.9,1127.0 1916.0,1127.0 1918.1,1127.0 1920.2,1127.0 1922.4,1127.0 1924.5,1127.0 1926.6,1127.0 1928.7,1127.0 1930.8,1127.0 1932.9,1127.0 1935.0,1127.0 1937.2,1127.0 1939.3,1127.0 1941.4,1127.0 1943.5,1127.0 1945.6,1127.0 1947.7,1127.0 1949.8,1127.0 1952.0,1127.0 1954.1,1127.0 1956.2,1127.0 1958.3,1127.0 1960.4,1127.0 1962.5,1127.0 1964.6,1127.0 1966.8,1127.0 1968.9,1127.0 1971.0,1127.0 1973.1,1127.0 1975.2,1127.0 1977.3,1127.0 1979.4,1127.0 1981.5,1127.0 1983.7,1127.0 1985.8,1127.0 1987.9,1127.0 1990.0,1127.0 1992.1,1127.0 1994.2,1127.0 1996.3,1127.0 1998.5,1127.0 2000.6,1127.0 2002.7,1127.0 2004.8,1127.0 2006.9,1127.0 2009.0,1127.0 2011.1,1127.0 2013.2,1127.0 2015.4,1127.0 2017.5,1127.0 2019.6,1127.0 2021.7,1127.0 2023.8,1127.0 2025.9,1127.0 2028.0,1127.0 2030.2,1127.0 2032.3,1127.0 2034.4,1127.0 2036.5,1127.0 2038.6,1127.0 2040.7,1127.0 2042.8,1127.0 2045.0,1127.0 2047.1,1127.0 2049.2,1127.0 2051.3,1127.0 2053.4,1127.0 2055.5,1127.0 2057.6,1127.0 2059.8,1127.0 2061.9,1127.0 2064.0,1127.0 2066.1,1127.0 2068.2,1127.0 2070.3,1127.0 2072.4,1127.0 2074.5,1127.0 2076.7,1127.0 2078.8,1127.0 2080.9,1127.0 2083.0,1127.0 2085.1,1127.0 2087.2,1127.0 2089.3,1127.0 2091.5,1127.0 2093.6,1127.0 2095.7,1127.0 2097.8,1127.0 2099.9,1127.0 2102.0,1127.0 2104.1,1127.0 2106.2,1127.0 2108.4,1127.0 2110.5,1127.0 2112.6,1127.0 2114.7,1127.0 2116.8,1127.0 2118.9,1127.0 2121.0,1127.0 2123.2,1127.0 2125.3,1127.0 2127.4,1127.0 2129.5,1127.0 2131.6,1127.0 2133.7,1127.0 2135.8,1127.0 2138.0,1127.0 2140.1,1127.0 2142.2,1127.0 2144.3,1127.0 2146.4,1127.0 2148.5,1127.0 2150.6,1127.0 2152.8,1127.0 2154.9,1127.0 2157.0,1127.0 2159.1,1127.0 2161.2,1127.0 2163.3,1127.0 2165.4,1127.0 2167.5,1127.0 2169.7,1127.0 2171.8,1127.0 2173.9,1127.0 2176.0,1127.0 2178.1,1127.0 2180.2,1127.0 2182.3,1127.0 2184.5,1127.0 2186.6,1127.0 2188.7,1127.0 2190.8,1127.0 2192.9,1127.0 2195.0,1127.0 2197.1,1127.0 2199.2,1127.0 2201.4,1127.0 2203.5,1127.0 2205.6,1127.0 2207.7,1127.0 2209.8,1127.0 2211.9,1127.0 2214.0,1127.0 2216.2,1127.0 2218.3,1127.0 2220.4,1127.0 2222.5,1127.0 2224.6,1127.0 2226.7,1127.0" fill="none" stroke="#008000" stroke-width="6.8" stroke-linecap="square" stroke-linejoin="round"/>
<polyline points="1381.3,1654.8 1383.4,1651.7 1385.5,1648.6 1387.6,1645.5 1389.7,1642.4 1391.8,1639.3 1394.0,1636.3 1396.1,1633.2 1398.2,1630.2 1400.3,1627.1 1402.4,1624.1 1404.5,1621.1 1406.6,1618.1 1408.8,1615.0 1410.9,1612.0 1413.0,1609.0 1415.1,1606.1 1417.2,1603.1 1419.3,1600.1 1421.4,1597.1 1423.5,1594.2 1425.7,1591.2 1427.8,1588.3 1429.9,1585.3 1432.0,1582.4 1434.1,1579.5 1436.2,1576.6 1438.3,1573.7 1440.5,1570.8 1442.6,1567.9 1444.7,1565.0 1446.8,1562.1 1448.9,1559.3 1451.0,1556.4 1453.1,1553.6 1455.2,1550.7 1457.4,1547.9 1459.5,1545.1 1461.6,1542.2 1463.7,1539.4 1465.8,1536.6 1467.9,1533.8 1470.0,1531.0 1472.2,1528.3 1474.3,1525.5 1476.4,1522.7 1478.5,1520.0 1480.6,1517.2 1482.7,1514.5 1484.8,1511.7 1487.0,1509.0 1489.1,1506.3 1491.2,1503.6 1493.3,1500.9 1495.4,1498.2 1497.5,1495.5 1499.6,1492.9 1501.8,1490.2 1503.9,1487.5 1506.0,1484.9 1508.1,1482.3 1510.2,1479.6 1512.3,1477.0 1514.4,1474.4 1516.5,1471.8 1518.7,1469.2 1520.8,1466.6 1522.9,1464.0 1525.0,1461.4 1527.1,1458.9 1529.2,1456.3 1531.3,1453.8 1533.5,1451.2 1535.6,1448.7 1537.7,1446.2 1539.8,1443.7 1541.9,1441.2 1544.0,1438.7 1546.1,1436.2 1548.2,1433.7 1550.4,1431.2 1552.5,1428.8 1554.6,1426.3 1556.7,1423.9 1558.8,1421.5 1560.9,1419.0 1563.0,1416.6 1565.2,1414.2 1567.3,1411.8 1569.4,1409.4 1571.5,1407.0 1573.6,1404.7 1575.7,1402.3 1577.8,1400.0 1580.0,1397.6 1582.1,1395.3 1584.2,1393.0 1586.3,1390.6 1588.4,1388.3 1590.5,1386.0 1592.6,1383.7 1594.8,1381.5 1596.9,1379.2 1599.0,1376.9 1601.1,1374.7 1603.2,1372.4 1605.3,1370.2 1607.4,1368.0 1609.5,1365.8 1611.7,1363.6 1613.8,1361.4 1615.9,1359.2 1618.0,1357.0 1620.1,1354.8 1622.2,1352.7 1624.3,1350.5 1626.5,1348.4 1628.6,1346.3 1630.7,1344.1 1632.8,1342.0 1634.9,1339.9 1637.0,1337.8 1639.1,1335.8 1641.2,1333.7 1643.4,1331.6 1645.5,1329.6 1647.6,1327.5 1649.7,1325.5 1651.8,1323.5 1653.9,1321.5 1656.0,1319.5 1658.2,1317.5 1660.3,1315.5 1662.4,1313.5 1664.5,1311.5 1666.6,1309.6 1668.7,1307.6 1670.8,1305.7 1673.0,1303.8 1675.1,1301.9 1677.2,1300.0 1679.3,1298.1 1681.4,1296.2 1683.5,1294.3 1685.6,1292.4 1687.8,1290.6 1689.9,1288.7 1692.0,1286.9 1694.1,1285.1 1696.2,1283.3 1698.3,1281.5 1700.4,1279.7 1702.5,1277.9 1704.7,1276.1 1706.8,1274.4 1708.9,1272.6 1711.0,1270.9 1713.1,1269.1 1715.2,1267.4 1717.3,1265.7 1719.5,1264.0 1721.6,1262.3 1723.7,1260.6 1725.8,1259.0 1727.9,1257.3 1730.0,1255.7 1732.1,1254.0 1734.2,1252.4 1736.4,1250.8 1738.5,1249.2 1740.6,1247.6 1742.7,1246.0 1744.8,1244.4 1746.9,1242.9 1749.0,1241.3 1751.2,1239.8 1753.3,1238.2 1755.4,1236.7 1757.5,1235.2 1759.6,1233.7 1761.7,1232.2 1763.8,1230.7 1766.0,1229.3 1768.1,1227.8 1770.2,1226.4 1772.3,1224.9 1774.4,1223.5 1776.5,1222.1 1778.6,1220.7 1780.8,1219.3 1782.9,1217.9 1785.0,1216.6 1787.1,1215.2 1789.2,1213.9 1791.3,1212.5 1793.4,1211.2 1795.5,1209.9 1797.7,1208.6 1799.8,1207.3 1801.9,1206.0 1804.0,1204.8 1806.1,1203.5 1808.2,1202.3 1810.3,1201.0 1812.5,1199.8 1814.6,1198.6 1816.7,1197.4 1818.8,1196.2 1820.9,1195.0 1823.0,1193.9 1825.1,1192.7 1827.2,1191.6 1829.4,1190.5 1831.5,1189.3 1833.6,1188.2 1835.7,1187.1 1837.8,1186.0 1839.9,1185.0 1842.0,1183.9 1844.2,1182.8 1846.3,1181.8 1848.4,1180.8 1850.5,1179.8 1852.6,1178.7 1854.7,1177.7 1856.8,1176.8 1859.0,1175.8 1861.1,1174.8 1863.2,1173.9 1865.3,1172.9 1867.4,1172.0 1869.5,1171.1 1871.6,1170.2 1873.8,1169.3 1875.9,1168.4 1878.0,1167.5 1880.1,1166.7 1882.2,1165.8 1884.3,1165.0 1886.4,1164.1 1888.5,1163.3 1890.7,1162.5 1892.8,1161.7 1894.9,1160.9 1897.0,1160.2 1899.1,1159.4 1901.2,1158.7 1903.3,1157.9 1905.5,1157.2 1907.6,1156.5 1909.7,1155.8 1911.8,1155.1 1913.9,1154.4 1916.0,1153.7 1918.1,1153.1 1920.2,1152.4 1922.4,1151.8 1924.5,1151.2 1926.6,1150.5 1928.7,1149.9 1930.8,1149.4 1932.9,1148.8 1935.0,1148.2 1937.2,1147.6 1939.3,1147.1 1941.4,1146.6 1943.5,1146.0 1945.6,1145.5 1947.7,1145.0 1949.8,1144.5 1952.0,1144.0 1954.1,1143.6 1956.2,1143.1 1958.3,1142.6 1960.4,1142.2 1962.5,1141.8 1964.6,1141.3 1966.8,1140.9 1968.9,1140.5 1971.0,1140.1 1973.1,1139.7 1975.2,1139.4 1977.3,1139.0 1979.4,1138.7 1981.5,1138.3 1983.7,1138.0 1985.8,1137.6 1987.9,1137.3 1990.0,1137.0 1992.1,1136.7 1994.2,1136.4 1996.3,1136.1 1998.5,1135.8 2000.6,1135.6 2002.7,1135.3 2004.8,1135.1 2006.9,1134.8 2009.0,1134.6 2011.1,1134.4 2013.2,1134.1 2015.4,1133.9 2017.5,1133.7 2019.6,1133.5 2021.7,1133.3 2023.8,1133.1 2025.9,1133.0 2028.0,1132.8 2030.2,1132.6 2032.3,1132.5 2034.4,1132.3 2036.5,1132.2 2038.6,1132.0 2040.7,1131.9 2042.8,1131.8 2045.0,1131.7 2047.1,1131.5 2049.2,1131.4 2051.3,1131.3 2053.4,1131.2 2055.5,1131.1 2057.6,1131.0 2059.8,1131.0 2061.9,1130.9 2064.0,1130.8 2066.1,1130.7 2068.2,1130.7 2070.3,1130.6 2072.4,1130.5 2074.5,1130.5 2076.7,1130.4 2078.8,1130.4 2080.9,1130.3 2083.0,1130.3 2085.1,1130.2 2087.2,1130.2 2089.3,1130.2 2091.5,1130.1 2093.6,1130.1 2095.7,1130.1 2097.8,1130.1 2099.9,1130.0 2102.0,1130.0 2104.1,1130.0 2106.2,1130.0 2108.4,1130.0 2110.5,1129.9 2112.6,1129.9 2114.7,1129.9 2116.8,1129.9 2118.9,1129.9 2121.0,1129.9 2123.2,1129.9 2125.3,1129.9 2127.4,1129.9 2129.5,1129.8 2131.6,1129.8 2133.7,1129.8 2135.8,1129.8 2138.0,1129.8 2140.1,1129.8 2142.2,1129.8 2144.3,1129.8 2146.4,1129.7 2148.5,1129.7 2150.6,1129.7 2152.8,1129.7 2154.9,1129.7 2157.0,1129.6 2159.1,1129.6 2161.2,1129.6 2163.3,1129.6 2165.4,1129.5 2167.5,1129.5 2169.7,1129.5 2171.8,1129.4 2173.9,1129.4 2176.0,1129.3 2178.1,1129.3 2180.2,1129.2 2182.3,1129.2 2184.5,1129.1 2186.6,1129.1 2188.7,1129.0 2190.8,1128.9 2192.9,1128.8 2195.0,1128.8 2197.1,1128.7 2199.2,1128.6 2201.4,1128.5 2203.5,1128.4 2205.6,1128.3 2207.7,1128.2 2209.8,1128.1 2211.9,1127.9 2214.0,1127.8 2216.2,1127.7 2218.3,1127.5 2220.4,1127.4 2222.5,1127.3 2224.6,1127.1 2226.7,1127.0" fill="none" stroke="#ff0000" stroke-width="6.8" stroke-dasharray="22.2 9.6" stroke-linecap="butt" stroke-linejoin="round"/>
</g>
<g stroke="#000" fill="none"><path d="M1381.27 1684.5 V1670.5 M1381.27 1100.5 V1114.5" stroke-width="3"/><path d="M1423.55 1684.5 V1675.5 M1423.55 1100.5 V1109.5" stroke-width="2"/><path d="M1465.82 1684.5 V1675.5 M1465.82 1100.5 V1109.5" stroke-width="2"/><path d="M1508.09 1684.5 V1675.5 M1508.09 1100.5 V1109.5" stroke-width="2"/><path d="M1550.36 1684.5 V1670.5 M1550.36 1100.5 V1114.5" stroke-width="3"/><path d="M1592.64 1684.5 V1675.5 M1592.64 1100.5 V1109.5" stroke-width="2"/><path d="M1634.91 1684.5 V1675.5 M1634.91 1100.5 V1109.5" stroke-width="2"/><path d="M1677.18 1684.5 V1675.5 M1677.18 1100.5 V1109.5" stroke-width="2"/><path d="M1719.45 1684.5 V1670.5 M1719.45 1100.5 V1114.5" stroke-width="3"/><path d="M1761.73 1684.5 V1675.5 M1761.73 1100.5 V1109.5" stroke-width="2"/><path d="M1804.00 1684.5 V1675.5 M1804.00 1100.5 V1109.5" stroke-width="2"/><path d="M1846.27 1684.5 V1675.5 M1846.27 1100.5 V1109.5" stroke-width="2"/><path d="M1888.55 1684.5 V1670.5 M1888.55 1100.5 V1114.5" stroke-width="3"/><path d="M1930.82 1684.5 V1675.5 M1930.82 1100.5 V1109.5" stroke-width="2"/><path d="M1973.09 1684.5 V1675.5 M1973.09 1100.5 V1109.5" stroke-width="2"/><path d="M2015.36 1684.5 V1675.5 M2015.36 1100.5 V1109.5" stroke-width="2"/><path d="M2057.64 1684.5 V1670.5 M2057.64 1100.5 V1114.5" stroke-width="3"/><path d="M2099.91 1684.5 V1675.5 M2099.91 1100.5 V1109.5" stroke-width="2"/><path d="M2142.18 1684.5 V1675.5 M2142.18 1100.5 V1109.5" stroke-width="2"/><path d="M2184.45 1684.5 V1675.5 M2184.45 1100.5 V1109.5" stroke-width="2"/><path d="M2226.73 1684.5 V1670.5 M2226.73 1100.5 V1114.5" stroke-width="3"/><path d="M1339.0 1675.14 H1348.0 M2269.0 1675.14 H2260.0" stroke-width="2"/><path d="M1339.0 1658.54 H1348.0 M2269.0 1658.54 H2260.0" stroke-width="2"/><path d="M1339.0 1641.93 H1348.0 M2269.0 1641.93 H2260.0" stroke-width="2"/><path d="M1339.0 1625.32 H1353.0 M2269.0 1625.32 H2255.0" stroke-width="3"/><path d="M1339.0 1608.71 H1348.0 M2269.0 1608.71 H2260.0" stroke-width="2"/><path d="M1339.0 1592.10 H1348.0 M2269.0 1592.10 H2260.0" stroke-width="2"/><path d="M1339.0 1575.49 H1348.0 M2269.0 1575.49 H2260.0" stroke-width="2"/><path d="M1339.0 1558.88 H1348.0 M2269.0 1558.88 H2260.0" stroke-width="2"/><path d="M1339.0 1542.27 H1353.0 M2269.0 1542.27 H2255.0" stroke-width="3"/><path d="M1339.0 1525.66 H1348.0 M2269.0 1525.66 H2260.0" stroke-width="2"/><path d="M1339.0 1509.05 H1348.0 M2269.0 1509.05 H2260.0" stroke-width="2"/><path d="M1339.0 1492.45 H1348.0 M2269.0 1492.45 H2260.0" stroke-width="2"/><path d="M1339.0 1475.84 H1348.0 M2269.0 1475.84 H2260.0" stroke-width="2"/><path d="M1339.0 1459.23 H1353.0 M2269.0 1459.23 H2255.0" stroke-width="3"/><path d="M1339.0 1442.62 H1348.0 M2269.0 1442.62 H2260.0" stroke-width="2"/><path d="M1339.0 1426.01 H1348.0 M2269.0 1426.01 H2260.0" stroke-width="2"/><path d="M1339.0 1409.40 H1348.0 M2269.0 1409.40 H2260.0" stroke-width="2"/><path d="M1339.0 1392.79 H1348.0 M2269.0 1392.79 H2260.0" stroke-width="2"/><path d="M1339.0 1376.18 H1353.0 M2269.0 1376.18 H2255.0" stroke-width="3"/><path d="M1339.0 1359.57 H1348.0 M2269.0 1359.57 H2260.0" stroke-width="2"/><path d="M1339.0 1342.96 H1348.0 M2269.0 1342.96 H2260.0" stroke-width="2"/><path d="M1339.0 1326.35 H1348.0 M2269.0 1326.35 H2260.0" stroke-width="2"/><path d="M1339.0 1309.75 H1348.0 M2269.0 1309.75 H2260.0" stroke-width="2"/><path d="M1339.0 1293.14 H1353.0 M2269.0 1293.14 H2255.0" stroke-width="3"/><path d="M1339.0 1276.53 H1348.0 M2269.0 1276.53 H2260.0" stroke-width="2"/><path d="M1339.0 1259.92 H1348.0 M2269.0 1259.92 H2260.0" stroke-width="2"/><path d="M1339.0 1243.31 H1348.0 M2269.0 1243.31 H2260.0" stroke-width="2"/><path d="M1339.0 1226.70 H1348.0 M2269.0 1226.70 H2260.0" stroke-width="2"/><path d="M1339.0 1210.09 H1353.0 M2269.0 1210.09 H2255.0" stroke-width="3"/><path d="M1339.0 1193.48 H1348.0 M2269.0 1193.48 H2260.0" stroke-width="2"/><path d="M1339.0 1176.87 H1348.0 M2269.0 1176.87 H2260.0" stroke-width="2"/><path d="M1339.0 1160.26 H1348.0 M2269.0 1160.26 H2260.0" stroke-width="2"/><path d="M1339.0 1143.65 H1348.0 M2269.0 1143.65 H2260.0" stroke-width="2"/><path d="M1339.0 1127.05 H1353.0 M2269.0 1127.05 H2255.0" stroke-width="3"/><path d="M1339.0 1110.44 H1348.0 M2269.0 1110.44 H2260.0" stroke-width="2"/></g>
<rect x="1339.0" y="1100.5" width="930.0" height="584.0" fill="none" stroke="#000" stroke-width="3"/>
<g font-family="'DejaVu Sans', 'Liberation Sans', sans-serif" font-weight="bold" font-size="36.8" fill="#000">
<text x="1381.27" y="1722.10" text-anchor="middle">0.0</text>
<text x="1550.36" y="1722.10" text-anchor="middle">0.2</text>
<text x="1719.45" y="1722.10" text-anchor="middle">0.4</text>
<text x="1888.55" y="1722.10" text-anchor="middle">0.6</text>
<text x="2057.64" y="1722.10" text-anchor="middle">0.8</text>
<text x="2226.73" y="1722.10" text-anchor="middle">1.0</text>
<text x="1330.10" y="1638.82" text-anchor="end">0.4</text>
<text x="1330.10" y="1555.77" text-anchor="end">0.5</text>
<text x="1330.10" y="1472.73" text-anchor="end">0.6</text>
<text x="1330.10" y="1389.68" text-anchor="end">0.7</text>
<text x="1330.10" y="1306.64" text-anchor="end">0.8</text>
<text x="1330.10" y="1223.59" text-anchor="end">0.9</text>
<text x="1330.10" y="1140.55" text-anchor="end">1.0</text>
</g>
<text x="1804.00" y="1084.10" text-anchor="middle" font-family="'DejaVu Sans', 'Liberation Sans', sans-serif" font-weight="bold" font-size="39.0">Cogentco</text>
<text x="1804.00" y="1769.80" text-anchor="middle" font-family="'DejaVu Sans', 'Liberation Sans', sans-serif" font-weight="bold" font-size="39.0">Fraction of removed nodes (p)</text>
<text transform="translate(1245.40 1392.50) rotate(-90)" text-anchor="middle" font-family="'DejaVu Sans', 'Liberation Sans', sans-serif" font-weight="bold" font-size="39.0">n<tspan font-size="27.3" dy="7">D</tspan></text>
<path d="M1881.9 1524.5 H1953.1" stroke="#808080" stroke-width="6.8" stroke-linecap="square"/>
<path d="M1881.9 1577.5 H1953.1" stroke="#008000" stroke-width="6.8" stroke-linecap="square"/>
<path d="M1880.5 1630.5 H1954.5" stroke="#ff0000" stroke-width="6.8" stroke-dasharray="22 8"/>
<text font-family="'DejaVu Sans', 'Liberation Sans', sans-serif" font-weight="bold" font-size="38" x="1981.6" y="1536.3">α</text>
<text font-family="'DejaVu Sans', 'Liberation Sans', sans-serif" font-weight="bold" font-size="36.3" x="2013.6" y="1536.3">=</text>
<text font-family="'DejaVu Sans', 'Liberation Sans', sans-serif" font-weight="bold" font-size="37.5" x="2051.5" y="1536.3">0</text>
<text font-family="'DejaVu Sans', 'Liberation Sans', sans-serif" font-weight="bold" font-size="38" x="1981.6" y="1587.8">α</text>
<text font-family="'DejaVu Sans', 'Liberation Sans', sans-serif" font-weight="bold" font-size="36.3" x="2013.6" y="1587.8">=</text>
<text font-family="'DejaVu Sans', 'Liberation Sans', sans-serif" font-weight="bold" font-size="37.5" x="2051.5" y="1587.8">1</text>
<text font-family="'DejaVu Sans', 'Liberation Sans', sans-serif" font-weight="bold" font-size="36.3" x="1982.0" y="1643.0">analytical_in</text>
<text x="1575.1" y="1912.2" font-family="'Liberation Serif', 'DejaVu Serif', serif" font-size="79" textLength="93.5" lengthAdjust="spacingAndGlyphs">(<tspan font-weight="bold">d</tspan>)</text>
<text x="1687.3" y="1912.2" font-family="'Liberation Serif', 'DejaVu Serif', serif" font-size="79" textLength="314.7" lengthAdjust="spacingAndGlyphs">Cogentco</text>
</g>
<g id="panel-e">
<clipPath id="clipe"><rect x="141.5" y="2132.0" width="930.0" height="584.0"/></clipPath>
<g clip-path="url(#clipe)">
<polyline points="183.8,2682.1 185.9,2680.5 188.0,2678.9 190.1,2677.3 192.2,2675.7 194.3,2674.1 196.5,2672.5 198.6,2670.9 200.7,2669.3 202.8,2667.7 204.9,2666.1 207.0,2664.5 209.1,2662.9 211.2,2661.3 213.4,2659.7 215.5,2658.1 217.6,2656.5 219.7,2654.9 221.8,2653.3 223.9,2651.7 226.0,2650.0 228.2,2648.4 230.3,2646.8 232.4,2645.2 234.5,2643.5 236.6,2641.9 238.7,2640.3 240.8,2638.7 243.0,2637.0 245.1,2635.4 247.2,2633.8 249.3,2632.1 251.4,2630.5 253.5,2628.9 255.6,2627.2 257.8,2625.6 259.9,2623.9 262.0,2622.3 264.1,2620.6 266.2,2619.0 268.3,2617.3 270.4,2615.7 272.5,2614.0 274.7,2612.4 276.8,2610.7 278.9,2609.1 281.0,2607.4 283.1,2605.8 285.2,2604.1 287.3,2602.5 289.5,2600.8 291.6,2599.2 293.7,2597.5 295.8,2595.8 297.9,2594.2 300.0,2592.5 302.1,2590.9 304.2,2589.2 306.4,2587.5 308.5,2585.9 310.6,2584.2 312.7,2582.5 314.8,2580.9 316.9,2579.2 319.0,2577.5 321.2,2575.9 323.3,2574.2 325.4,2572.5 327.5,2570.9 329.6,2569.2 331.7,2567.5 333.8,2565.9 336.0,2564.2 338.1,2562.5 340.2,2560.9 342.3,2559.2 344.4,2557.5 346.5,2555.8 348.6,2554.2 350.8,2552.5 352.9,2550.8 355.0,2549.2 357.1,2547.5 359.2,2545.8 361.3,2544.2 363.4,2542.5 365.5,2540.8 367.7,2539.2 369.8,2537.5 371.9,2535.8 374.0,2534.1 376.1,2532.5 378.2,2530.8 380.3,2529.1 382.5,2527.5 384.6,2525.8 386.7,2524.2 388.8,2522.5 390.9,2520.8 393.0,2519.2 395.1,2517.5 397.2,2515.8 399.4,2514.2 401.5,2512.5 403.6,2510.9 405.7,2509.2 407.8,2507.5 409.9,2505.9 412.0,2504.2 414.2,2502.6 416.3,2500.9 418.4,2499.3 420.5,2497.6 422.6,2495.9 424.7,2494.3 426.8,2492.6 429.0,2491.0 431.1,2489.3 433.2,2487.7 435.3,2486.1 437.4,2484.4 439.5,2482.8 441.6,2481.1 443.7,2479.5 445.9,2477.8 448.0,2476.2 450.1,2474.6 452.2,2472.9 454.3,2471.3 456.4,2469.7 458.5,2468.0 460.7,2466.4 462.8,2464.8 464.9,2463.1 467.0,2461.5 469.1,2459.9 471.2,2458.3 473.3,2456.7 475.5,2455.0 477.6,2453.4 479.7,2451.8 481.8,2450.2 483.9,2448.6 486.0,2447.0 488.1,2445.4 490.2,2443.8 492.4,2442.2 494.5,2440.6 496.6,2439.0 498.7,2437.4 500.8,2435.8 502.9,2434.2 505.0,2432.6 507.2,2431.0 509.3,2429.4 511.4,2427.8 513.5,2426.2 515.6,2424.7 517.7,2423.1 519.8,2421.5 522.0,2419.9 524.1,2418.4 526.2,2416.8 528.3,2415.2 530.4,2413.7 532.5,2412.1 534.6,2410.5 536.8,2409.0 538.9,2407.4 541.0,2405.9 543.1,2404.3 545.2,2402.8 547.3,2401.2 549.4,2399.7 551.5,2398.2 553.7,2396.6 555.8,2395.1 557.9,2393.6 560.0,2392.1 562.1,2390.5 564.2,2389.0 566.3,2387.5 568.5,2386.0 570.6,2384.5 572.7,2383.0 574.8,2381.5 576.9,2380.0 579.0,2378.5 581.1,2377.0 583.2,2375.5 585.4,2374.0 587.5,2372.5 589.6,2371.0 591.7,2369.5 593.8,2368.1 595.9,2366.6 598.0,2365.1 600.2,2363.7 602.3,2362.2 604.4,2360.7 606.5,2359.3 608.6,2357.8 610.7,2356.4 612.8,2354.9 615.0,2353.5 617.1,2352.1 619.2,2350.6 621.3,2349.2 623.4,2347.8 625.5,2346.3 627.6,2344.9 629.8,2343.5 631.9,2342.1 634.0,2340.7 636.1,2339.2 638.2,2337.8 640.3,2336.4 642.4,2335.0 644.5,2333.6 646.7,2332.2 648.8,2330.8 650.9,2329.4 653.0,2328.1 655.1,2326.7 657.2,2325.3 659.3,2323.9 661.5,2322.5 663.6,2321.1 665.7,2319.8 667.8,2318.4 669.9,2317.0 672.0,2315.6 674.1,2314.3 676.2,2312.9 678.4,2311.5 680.5,2310.2 682.6,2308.8 684.7,2307.5 686.8,2306.1 688.9,2304.7 691.0,2303.4 693.2,2302.0 695.3,2300.7 697.4,2299.3 699.5,2298.0 701.6,2296.7 703.7,2295.3 705.8,2294.0 708.0,2292.6 710.1,2291.3 712.2,2289.9 714.3,2288.6 716.4,2287.3 718.5,2285.9 720.6,2284.6 722.8,2283.3 724.9,2281.9 727.0,2280.6 729.1,2279.3 731.2,2277.9 733.3,2276.6 735.4,2275.3 737.5,2274.0 739.7,2272.6 741.8,2271.3 743.9,2270.0 746.0,2268.7 748.1,2267.3 750.2,2266.0 752.3,2264.7 754.5,2263.4 756.6,2262.0 758.7,2260.7 760.8,2259.4 762.9,2258.1 765.0,2256.8 767.1,2255.4 769.2,2254.1 771.4,2252.8 773.5,2251.5 775.6,2250.2 777.7,2248.8 779.8,2247.5 781.9,2246.2 784.0,2244.9 786.2,2243.6 788.3,2242.2 790.4,2240.9 792.5,2239.6 794.6,2238.3 796.7,2237.0 798.8,2235.7 801.0,2234.4 803.1,2233.1 805.2,2231.8 807.3,2230.5 809.4,2229.3 811.5,2228.0 813.6,2226.7 815.8,2225.5 817.9,2224.2 820.0,2222.9 822.1,2221.7 824.2,2220.5 826.3,2219.2 828.4,2218.0 830.5,2216.8 832.7,2215.6 834.8,2214.4 836.9,2213.3 839.0,2212.1 841.1,2210.9 843.2,2209.8 845.3,2208.6 847.5,2207.5 849.6,2206.4 851.7,2205.3 853.8,2204.2 855.9,2203.1 858.0,2202.1 860.1,2201.0 862.2,2200.0 864.4,2199.0 866.5,2198.0 868.6,2197.0 870.7,2196.0 872.8,2195.0 874.9,2194.1 877.0,2193.2 879.2,2192.2 881.3,2191.3 883.4,2190.5 885.5,2189.6 887.6,2188.8 889.7,2187.9 891.8,2187.1 894.0,2186.3 896.1,2185.5 898.2,2184.8 900.3,2184.0 902.4,2183.3 904.5,2182.6 906.6,2181.9 908.8,2181.2 910.9,2180.6 913.0,2180.0 915.1,2179.4 917.2,2178.8 919.3,2178.2 921.4,2177.7 923.5,2177.1 925.7,2176.6 927.8,2176.1 929.9,2175.7 932.0,2175.2 934.1,2174.8 936.2,2174.3 938.3,2173.9 940.5,2173.5 942.6,2173.1 944.7,2172.7 946.8,2172.4 948.9,2172.0 951.0,2171.6 953.1,2171.3 955.2,2170.9 957.4,2170.6 959.5,2170.2 961.6,2169.9 963.7,2169.5 965.8,2169.2 967.9,2168.8 970.0,2168.5 972.2,2168.1 974.3,2167.7 976.4,2167.4 978.5,2167.0 980.6,2166.6 982.7,2166.2 984.8,2165.8 987.0,2165.4 989.1,2164.9 991.2,2164.5 993.3,2164.1 995.4,2163.6 997.5,2163.1 999.6,2162.7 1001.8,2162.3 1003.9,2161.8 1006.0,2161.4 1008.1,2161.0 1010.2,2160.6 1012.3,2160.3 1014.4,2159.9 1016.5,2159.6 1018.7,2159.3 1020.8,2159.1 1022.9,2158.9 1025.0,2158.7 1027.1,2158.6 1029.2,2158.5" fill="none" stroke="#808080" stroke-width="6.8" stroke-linecap="square" stroke-linejoin="round"/>
<polyline points="183.8,2681.9 185.9,2680.2 188.0,2678.6 190.1,2676.9 192.2,2675.2 194.3,2673.6 196.5,2671.9 198.6,2670.2 200.7,2668.5 202.8,2666.8 204.9,2665.1 207.0,2663.4 209.1,2661.7 211.2,2660.0 213.4,2658.4 215.5,2656.6 217.6,2654.9 219.7,2653.2 221.8,2651.5 223.9,2649.8 226.0,2648.1 228.2,2646.4 230.3,2644.7 232.4,2642.9 234.5,2641.2 236.6,2639.5 238.7,2637.8 240.8,2636.0 243.0,2634.3 245.1,2632.6 247.2,2630.8 249.3,2629.1 251.4,2627.4 253.5,2625.6 255.6,2623.9 257.8,2622.1 259.9,2620.4 262.0,2618.6 264.1,2616.9 266.2,2615.1 268.3,2613.4 270.4,2611.6 272.5,2609.9 274.7,2608.1 276.8,2606.3 278.9,2604.6 281.0,2602.8 283.1,2601.0 285.2,2599.3 287.3,2597.5 289.5,2595.7 291.6,2594.0 293.7,2592.2 295.8,2590.4 297.9,2588.6 300.0,2586.9 302.1,2585.1 304.2,2583.3 306.4,2581.5 308.5,2579.7 310.6,2577.9 312.7,2576.2 314.8,2574.4 316.9,2572.6 319.0,2570.8 321.2,2569.0 323.3,2567.2 325.4,2565.4 327.5,2563.6 329.6,2561.8 331.7,2560.0 333.8,2558.3 336.0,2556.5 338.1,2554.7 340.2,2552.9 342.3,2551.1 344.4,2549.3 346.5,2547.5 348.6,2545.7 350.8,2543.9 352.9,2542.1 355.0,2540.3 357.1,2538.5 359.2,2536.7 361.3,2534.8 363.4,2533.0 365.5,2531.2 367.7,2529.4 369.8,2527.6 371.9,2525.8 374.0,2524.0 376.1,2522.2 378.2,2520.4 380.3,2518.6 382.5,2516.8 384.6,2515.0 386.7,2513.2 388.8,2511.4 390.9,2509.6 393.0,2507.7 395.1,2505.9 397.2,2504.1 399.4,2502.3 401.5,2500.5 403.6,2498.7 405.7,2496.9 407.8,2495.1 409.9,2493.3 412.0,2491.5 414.2,2489.7 416.3,2487.9 418.4,2486.1 420.5,2484.2 422.6,2482.4 424.7,2480.6 426.8,2478.8 429.0,2477.0 431.1,2475.2 433.2,2473.4 435.3,2471.6 437.4,2469.8 439.5,2468.0 441.6,2466.2 443.7,2464.4 445.9,2462.6 448.0,2460.8 450.1,2459.0 452.2,2457.2 454.3,2455.4 456.4,2453.6 458.5,2451.8 460.7,2450.0 462.8,2448.2 464.9,2446.4 467.0,2444.6 469.1,2442.8 471.2,2441.0 473.3,2439.3 475.5,2437.5 477.6,2435.7 479.7,2433.9 481.8,2432.1 483.9,2430.3 486.0,2428.5 488.1,2426.8 490.2,2425.0 492.4,2423.2 494.5,2421.4 496.6,2419.6 498.7,2417.9 500.8,2416.1 502.9,2414.3 505.0,2412.5 507.2,2410.8 509.3,2409.0 511.4,2407.2 513.5,2405.5 515.6,2403.7 517.7,2401.9 519.8,2400.2 522.0,2398.4 524.1,2396.7 526.2,2394.9 528.3,2393.2 530.4,2391.4 532.5,2389.7 534.6,2387.9 536.8,2386.2 538.9,2384.4 541.0,2382.7 543.1,2380.9 545.2,2379.2 547.3,2377.5 549.4,2375.7 551.5,2374.0 553.7,2372.3 555.8,2370.5 557.9,2368.8 560.0,2367.1 562.1,2365.4 564.2,2363.6 566.3,2361.9 568.5,2360.2 570.6,2358.5 572.7,2356.8 574.8,2355.1 576.9,2353.4 579.0,2351.7 581.1,2350.0 583.2,2348.3 585.4,2346.6 587.5,2344.9 589.6,2343.2 591.7,2341.5 593.8,2339.8 595.9,2338.1 598.0,2336.4 600.2,2334.7 602.3,2333.1 604.4,2331.4 606.5,2329.7 608.6,2328.0 610.7,2326.4 612.8,2324.7 615.0,2323.0 617.1,2321.4 619.2,2319.7 621.3,2318.1 623.4,2316.4 625.5,2314.7 627.6,2313.1 629.8,2311.4 631.9,2309.8 634.0,2308.1 636.1,2306.5 638.2,2304.8 640.3,2303.2 642.4,2301.5 644.5,2299.9 646.7,2298.2 648.8,2296.6 650.9,2294.9 653.0,2293.3 655.1,2291.7 657.2,2290.0 659.3,2288.4 661.5,2286.7 663.6,2285.1 665.7,2283.5 667.8,2281.8 669.9,2280.2 672.0,2278.5 674.1,2276.9 676.2,2275.3 678.4,2273.6 680.5,2272.0 682.6,2270.4 684.7,2268.7 686.8,2267.1 688.9,2265.5 691.0,2263.8 693.2,2262.2 695.3,2260.6 697.4,2258.9 699.5,2257.3 701.6,2255.6 703.7,2254.0 705.8,2252.4 708.0,2250.7 710.1,2249.1 712.2,2247.5 714.3,2245.9 716.4,2244.2 718.5,2242.6 720.6,2241.0 722.8,2239.4 724.9,2237.8 727.0,2236.2 729.1,2234.6 731.2,2233.0 733.3,2231.4 735.4,2229.8 737.5,2228.2 739.7,2226.7 741.8,2225.1 743.9,2223.6 746.0,2222.0 748.1,2220.5 750.2,2219.0 752.3,2217.5 754.5,2216.0 756.6,2214.5 758.7,2213.0 760.8,2211.5 762.9,2210.1 765.0,2208.6 767.1,2207.2 769.2,2205.8 771.4,2204.4 773.5,2203.0 775.6,2201.6 777.7,2200.2 779.8,2198.9 781.9,2197.5 784.0,2196.2 786.2,2194.9 788.3,2193.6 790.4,2192.3 792.5,2191.1 794.6,2189.9 796.7,2188.6 798.8,2187.4 801.0,2186.3 803.1,2185.1 805.2,2184.0 807.3,2182.8 809.4,2181.7 811.5,2180.7 813.6,2179.6 815.8,2178.6 817.9,2177.6 820.0,2176.6 822.1,2175.6 824.2,2174.7 826.3,2173.7 828.4,2172.8 830.5,2172.0 832.7,2171.1 834.8,2170.3 836.9,2169.5 839.0,2168.8 841.1,2168.0 843.2,2167.3 845.3,2166.6 847.5,2166.0 849.6,2165.4 851.7,2164.8 853.8,2164.2 855.9,2163.6 858.0,2163.1 860.1,2162.6 862.2,2162.1 864.4,2161.7 866.5,2161.3 868.6,2160.9 870.7,2160.5 872.8,2160.2 874.9,2159.9 877.0,2159.6 879.2,2159.3 881.3,2159.0 883.4,2158.8 885.5,2158.6 887.6,2158.5 889.7,2158.5 891.8,2158.5 894.0,2158.5 896.1,2158.5 898.2,2158.5 900.3,2158.5 902.4,2158.5 904.5,2158.5 906.6,2158.5 908.8,2158.5 910.9,2158.5 913.0,2158.5 915.1,2158.5 917.2,2158.5 919.3,2158.5 921.4,2158.5 923.5,2158.5 925.7,2158.5 927.8,2158.5 929.9,2158.5 932.0,2158.5 934.1,2158.5 936.2,2158.5 938.3,2158.5 940.5,2158.5 942.6,2158.5 944.7,2158.5 946.8,2158.5 948.9,2158.5 951.0,2158.5 953.1,2158.5 955.2,2158.5 957.4,2158.5 959.5,2158.5 961.6,2158.5 963.7,2158.5 965.8,2158.5 967.9,2158.5 970.0,2158.5 972.2,2158.5 974.3,2158.5 976.4,2158.5 978.5,2158.5 980.6,2158.5 982.7,2158.5 984.8,2158.5 987.0,2158.5 989.1,2158.5 991.2,2158.5 993.3,2158.5 995.4,2158.5 997.5,2158.5 999.6,2158.5 1001.8,2158.5 1003.9,2158.5 1006.0,2158.5 1008.1,2158.5 1010.2,2158.5 1012.3,2158.5 1014.4,2158.5 1016.5,2158.5 1018.7,2158.5 1020.8,2158.5 1022.9,2158.5 1025.0,2158.5 1027.1,2158.5 1029.2,2158.5" fill="none" stroke="#008000" stroke-width="6.8" stroke-linecap="square" stroke-linejoin="round"/>
<polyline points="183.8,2688.2 185.9,2686.5 188.0,2684.8 190.1,2683.0 192.2,2681.3 194.3,2679.6 196.5,2677.9 198.6,2676.1 200.7,2674.4 202.8,2672.7 204.9,2670.9 207.0,2669.2 209.1,2667.5 211.2,2665.7 213.4,2664.0 215.5,2662.2 217.6,2660.5 219.7,2658.7 221.8,2657.0 223.9,2655.2 226.0,2653.4 228.2,2651.7 230.3,2649.9 232.4,2648.2 234.5,2646.4 236.6,2644.6 238.7,2642.8 240.8,2641.1 243.0,2639.3 245.1,2637.5 247.2,2635.7 249.3,2633.9 251.4,2632.2 253.5,2630.4 255.6,2628.6 257.8,2626.8 259.9,2625.0 262.0,2623.2 264.1,2621.4 266.2,2619.6 268.3,2617.8 270.4,2616.0 272.5,2614.2 274.7,2612.4 276.8,2610.6 278.9,2608.8 281.0,2607.0 283.1,2605.2 285.2,2603.4 287.3,2601.6 289.5,2599.8 291.6,2598.0 293.7,2596.1 295.8,2594.3 297.9,2592.5 300.0,2590.7 302.1,2588.9 304.2,2587.1 306.4,2585.2 308.5,2583.4 310.6,2581.6 312.7,2579.8 314.8,2578.0 316.9,2576.1 319.0,2574.3 321.2,2572.5 323.3,2570.7 325.4,2568.8 327.5,2567.0 329.6,2565.2 331.7,2563.4 333.8,2561.5 336.0,2559.7 338.1,2557.9 340.2,2556.1 342.3,2554.2 344.4,2552.4 346.5,2550.6 348.6,2548.7 350.8,2546.9 352.9,2545.1 355.0,2543.3 357.1,2541.4 359.2,2539.6 361.3,2537.8 363.4,2535.9 365.5,2534.1 367.7,2532.3 369.8,2530.4 371.9,2528.6 374.0,2526.8 376.1,2525.0 378.2,2523.1 380.3,2521.3 382.5,2519.5 384.6,2517.7 386.7,2515.8 388.8,2514.0 390.9,2512.2 393.0,2510.4 395.1,2508.5 397.2,2506.7 399.4,2504.9 401.5,2503.1 403.6,2501.2 405.7,2499.4 407.8,2497.6 409.9,2495.8 412.0,2494.0 414.2,2492.2 416.3,2490.3 418.4,2488.5 420.5,2486.7 422.6,2484.9 424.7,2483.1 426.8,2481.3 429.0,2479.5 431.1,2477.7 433.2,2475.9 435.3,2474.1 437.4,2472.2 439.5,2470.4 441.6,2468.6 443.7,2466.8 445.9,2465.0 448.0,2463.2 450.1,2461.4 452.2,2459.7 454.3,2457.9 456.4,2456.1 458.5,2454.3 460.7,2452.5 462.8,2450.7 464.9,2448.9 467.0,2447.1 469.1,2445.3 471.2,2443.6 473.3,2441.8 475.5,2440.0 477.6,2438.2 479.7,2436.5 481.8,2434.7 483.9,2432.9 486.0,2431.2 488.1,2429.4 490.2,2427.6 492.4,2425.9 494.5,2424.1 496.6,2422.3 498.7,2420.6 500.8,2418.8 502.9,2417.1 505.0,2415.3 507.2,2413.6 509.3,2411.8 511.4,2410.1 513.5,2408.4 515.6,2406.6 517.7,2404.9 519.8,2403.2 522.0,2401.4 524.1,2399.7 526.2,2398.0 528.3,2396.3 530.4,2394.5 532.5,2392.8 534.6,2391.1 536.8,2389.4 538.9,2387.7 541.0,2386.0 543.1,2384.3 545.2,2382.6 547.3,2380.9 549.4,2379.2 551.5,2377.5 553.7,2375.8 555.8,2374.1 557.9,2372.4 560.0,2370.7 562.1,2369.1 564.2,2367.4 566.3,2365.7 568.5,2364.0 570.6,2362.4 572.7,2360.7 574.8,2359.1 576.9,2357.4 579.0,2355.8 581.1,2354.1 583.2,2352.5 585.4,2350.8 587.5,2349.2 589.6,2347.5 591.7,2345.9 593.8,2344.3 595.9,2342.7 598.0,2341.0 600.2,2339.4 602.3,2337.8 604.4,2336.2 606.5,2334.6 608.6,2333.0 610.7,2331.4 612.8,2329.8 615.0,2328.2 617.1,2326.6 619.2,2325.0 621.3,2323.5 623.4,2321.9 625.5,2320.3 627.6,2318.8 629.8,2317.2 631.9,2315.7 634.0,2314.1 636.1,2312.6 638.2,2311.0 640.3,2309.5 642.4,2308.0 644.5,2306.4 646.7,2304.9 648.8,2303.4 650.9,2301.9 653.0,2300.4 655.1,2298.9 657.2,2297.4 659.3,2295.9 661.5,2294.4 663.6,2292.9 665.7,2291.4 667.8,2290.0 669.9,2288.5 672.0,2287.0 674.1,2285.6 676.2,2284.1 678.4,2282.7 680.5,2281.3 682.6,2279.8 684.7,2278.4 686.8,2277.0 688.9,2275.6 691.0,2274.2 693.2,2272.8 695.3,2271.4 697.4,2270.0 699.5,2268.6 701.6,2267.2 703.7,2265.8 705.8,2264.5 708.0,2263.1 710.1,2261.8 712.2,2260.4 714.3,2259.1 716.4,2257.7 718.5,2256.4 720.6,2255.1 722.8,2253.8 724.9,2252.5 727.0,2251.2 729.1,2249.9 731.2,2248.6 733.3,2247.3 735.4,2246.0 737.5,2244.8 739.7,2243.5 741.8,2242.3 743.9,2241.0 746.0,2239.8 748.1,2238.5 750.2,2237.3 752.3,2236.1 754.5,2234.9 756.6,2233.7 758.7,2232.5 760.8,2231.3 762.9,2230.1 765.0,2229.0 767.1,2227.8 769.2,2226.6 771.4,2225.5 773.5,2224.4 775.6,2223.2 777.7,2222.1 779.8,2221.0 781.9,2219.9 784.0,2218.8 786.2,2217.7 788.3,2216.6 790.4,2215.5 792.5,2214.4 794.6,2213.4 796.7,2212.3 798.8,2211.3 801.0,2210.2 803.1,2209.2 805.2,2208.2 807.3,2207.2 809.4,2206.2 811.5,2205.2 813.6,2204.2 815.8,2203.2 817.9,2202.3 820.0,2201.3 822.1,2200.4 824.2,2199.4 826.3,2198.5 828.4,2197.6 830.5,2196.7 832.7,2195.8 834.8,2194.9 836.9,2194.0 839.0,2193.1 841.1,2192.2 843.2,2191.4 845.3,2190.5 847.5,2189.7 849.6,2188.9 851.7,2188.1 853.8,2187.3 855.9,2186.5 858.0,2185.7 860.1,2184.9 862.2,2184.1 864.4,2183.4 866.5,2182.6 868.6,2181.9 870.7,2181.2 872.8,2180.4 874.9,2179.7 877.0,2179.0 879.2,2178.3 881.3,2177.7 883.4,2177.0 885.5,2176.3 887.6,2175.7 889.7,2175.1 891.8,2174.4 894.0,2173.8 896.1,2173.2 898.2,2172.6 900.3,2172.1 902.4,2171.5 904.5,2170.9 906.6,2170.4 908.8,2169.8 910.9,2169.3 913.0,2168.8 915.1,2168.3 917.2,2167.8 919.3,2167.3 921.4,2166.9 923.5,2166.4 925.7,2166.0 927.8,2165.5 929.9,2165.1 932.0,2164.7 934.1,2164.3 936.2,2163.9 938.3,2163.5 940.5,2163.2 942.6,2162.8 944.7,2162.5 946.8,2162.1 948.9,2161.8 951.0,2161.5 953.1,2161.2 955.2,2160.9 957.4,2160.7 959.5,2160.4 961.6,2160.2 963.7,2159.9 965.8,2159.7 967.9,2159.5 970.0,2159.3 972.2,2159.1 974.3,2158.9 976.4,2158.8 978.5,2158.6 980.6,2158.5 982.7,2158.5 984.8,2158.5 987.0,2158.5 989.1,2158.5 991.2,2158.5 993.3,2158.5 995.4,2158.5 997.5,2158.5 999.6,2158.5 1001.8,2158.5 1003.9,2158.5 1006.0,2158.5 1008.1,2158.5 1010.2,2158.5 1012.3,2158.5 1014.4,2158.5 1016.5,2158.5 1018.7,2158.5 1020.8,2158.5 1022.9,2158.5 1025.0,2158.5 1027.1,2158.5 1029.2,2158.5" fill="none" stroke="#ff0000" stroke-width="6.8" stroke-dasharray="22.2 9.6" stroke-linecap="butt" stroke-linejoin="round"/>
</g>
<g stroke="#000" fill="none"><path d="M183.77 2716.0 V2702.0 M183.77 2132.0 V2146.0" stroke-width="3"/><path d="M226.05 2716.0 V2707.0 M226.05 2132.0 V2141.0" stroke-width="2"/><path d="M268.32 2716.0 V2707.0 M268.32 2132.0 V2141.0" stroke-width="2"/><path d="M310.59 2716.0 V2707.0 M310.59 2132.0 V2141.0" stroke-width="2"/><path d="M352.86 2716.0 V2702.0 M352.86 2132.0 V2146.0" stroke-width="3"/><path d="M395.14 2716.0 V2707.0 M395.14 2132.0 V2141.0" stroke-width="2"/><path d="M437.41 2716.0 V2707.0 M437.41 2132.0 V2141.0" stroke-width="2"/><path d="M479.68 2716.0 V2707.0 M479.68 2132.0 V2141.0" stroke-width="2"/><path d="M521.95 2716.0 V2702.0 M521.95 2132.0 V2146.0" stroke-width="3"/><path d="M564.23 2716.0 V2707.0 M564.23 2132.0 V2141.0" stroke-width="2"/><path d="M606.50 2716.0 V2707.0 M606.50 2132.0 V2141.0" stroke-width="2"/><path d="M648.77 2716.0 V2707.0 M648.77 2132.0 V2141.0" stroke-width="2"/><path d="M691.05 2716.0 V2702.0 M691.05 2132.0 V2146.0" stroke-width="3"/><path d="M733.32 2716.0 V2707.0 M733.32 2132.0 V2141.0" stroke-width="2"/><path d="M775.59 2716.0 V2707.0 M775.59 2132.0 V2141.0" stroke-width="2"/><path d="M817.86 2716.0 V2707.0 M817.86 2132.0 V2141.0" stroke-width="2"/><path d="M860.14 2716.0 V2702.0 M860.14 2132.0 V2146.0" stroke-width="3"/><path d="M902.41 2716.0 V2707.0 M902.41 2132.0 V2141.0" stroke-width="2"/><path d="M944.68 2716.0 V2707.0 M944.68 2132.0 V2141.0" stroke-width="2"/><path d="M986.95 2716.0 V2707.0 M986.95 2132.0 V2141.0" stroke-width="2"/><path d="M1029.23 2716.0 V2702.0 M1029.23 2132.0 V2146.0" stroke-width="3"/><path d="M141.5 2710.83 H155.5 M1071.5 2710.83 H1057.5" stroke-width="3"/><path d="M141.5 2683.21 H150.5 M1071.5 2683.21 H1062.5" stroke-width="2"/><path d="M141.5 2655.60 H150.5 M1071.5 2655.60 H1062.5" stroke-width="2"/><path d="M141.5 2627.99 H150.5 M1071.5 2627.99 H1062.5" stroke-width="2"/><path d="M141.5 2600.37 H155.5 M1071.5 2600.37 H1057.5" stroke-width="3"/><path d="M141.5 2572.76 H150.5 M1071.5 2572.76 H1062.5" stroke-width="2"/><path d="M141.5 2545.14 H150.5 M1071.5 2545.14 H1062.5" stroke-width="2"/><path d="M141.5 2517.53 H150.5 M1071.5 2517.53 H1062.5" stroke-width="2"/><path d="M141.5 2489.91 H155.5 M1071.5 2489.91 H1057.5" stroke-width="3"/><path d="M141.5 2462.30 H150.5 M1071.5 2462.30 H1062.5" stroke-width="2"/><path d="M141.5 2434.69 H150.5 M1071.5 2434.69 H1062.5" stroke-width="2"/><path d="M141.5 2407.07 H150.5 M1071.5 2407.07 H1062.5" stroke-width="2"/><path d="M141.5 2379.46 H155.5 M1071.5 2379.46 H1057.5" stroke-width="3"/><path d="M141.5 2351.84 H150.5 M1071.5 2351.84 H1062.5" stroke-width="2"/><path d="M141.5 2324.23 H150.5 M1071.5 2324.23 H1062.5" stroke-width="2"/><path d="M141.5 2296.62 H150.5 M1071.5 2296.62 H1062.5" stroke-width="2"/><path d="M141.5 2269.00 H155.5 M1071.5 2269.00 H1057.5" stroke-width="3"/><path d="M141.5 2241.39 H150.5 M1071.5 2241.39 H1062.5" stroke-width="2"/><path d="M141.5 2213.77 H150.5 M1071.5 2213.77 H1062.5" stroke-width="2"/><path d="M141.5 2186.16 H150.5 M1071.5 2186.16 H1062.5" stroke-width="2"/><path d="M141.5 2158.55 H155.5 M1071.5 2158.55 H1057.5" stroke-width="3"/></g>
<rect x="141.5" y="2132.0" width="930.0" height="584.0" fill="none" stroke="#000" stroke-width="3"/>
<g font-family="'DejaVu Sans', 'Liberation Sans', sans-serif" font-weight="bold" font-size="36.8" fill="#000">
<text x="183.77" y="2753.60" text-anchor="middle">0.0</text>
<text x="352.86" y="2753.60" text-anchor="middle">0.2</text>
<text x="521.95" y="2753.60" text-anchor="middle">0.4</text>
<text x="691.05" y="2753.60" text-anchor="middle">0.6</text>
<text x="860.14" y="2753.60" text-anchor="middle">0.8</text>
<text x="1029.23" y="2753.60" text-anchor="middle">1.0</text>
<text x="132.60" y="2724.33" text-anchor="end">0.0</text>
<text x="132.60" y="2613.87" text-anchor="end">0.2</text>
<text x="132.60" y="2503.41" text-anchor="end">0.4</text>
<text x="132.60" y="2392.96" text-anchor="end">0.6</text>
<text x="132.60" y="2282.50" text-anchor="end">0.8</text>
<text x="132.60" y="2172.05" text-anchor="end">1.0</text>
</g>
<text x="606.50" y="2115.60" text-anchor="middle" font-family="'DejaVu Sans', 'Liberation Sans', sans-serif" font-weight="bold" font-size="39.0">ER(50,<tspan dx="-4.6"> </tspan>0.07)</text>
<text x="606.50" y="2801.30" text-anchor="middle" font-family="'DejaVu Sans', 'Liberation Sans', sans-serif" font-weight="bold" font-size="39.0">Fraction of removed nodes (p)</text>
<text transform="translate(47.90 2424.00) rotate(-90)" text-anchor="middle" font-family="'DejaVu Sans', 'Liberation Sans', sans-serif" font-weight="bold" font-size="39.0">n<tspan font-size="27.3" dy="7">D</tspan></text>
<path d="M684.4 2556.5 H755.6" stroke="#808080" stroke-width="6.8" stroke-linecap="square"/>
<path d="M684.4 2609.5 H755.6" stroke="#008000" stroke-width="6.8" stroke-linecap="square"/>
<path d="M683.0 2662.5 H757.0" stroke="#ff0000" stroke-width="6.8" stroke-dasharray="22 8"/>
<text font-family="'DejaVu Sans', 'Liberation Sans', sans-serif" font-weight="bold" font-size="38" x="784.1" y="2568.3">α</text>
<text font-family="'DejaVu Sans', 'Liberation Sans', sans-serif" font-weight="bold" font-size="36.3" x="816.1" y="2568.3">=</text>
<text font-family="'DejaVu Sans', 'Liberation Sans', sans-serif" font-weight="bold" font-size="37.5" x="854.0" y="2568.3">0</text>
<text font-family="'DejaVu Sans', 'Liberation Sans', sans-serif" font-weight="bold" font-size="38" x="784.1" y="2619.8">α</text>
<text font-family="'DejaVu Sans', 'Liberation Sans', sans-serif" font-weight="bold" font-size="36.3" x="816.1" y="2619.8">=</text>
<text font-family="'DejaVu Sans', 'Liberation Sans', sans-serif" font-weight="bold" font-size="37.5" x="854.0" y="2619.8">1</text>
<text font-family="'DejaVu Sans', 'Liberation Sans', sans-serif" font-weight="bold" font-size="36.3" x="784.5" y="2675.0">analytical_in</text>
<text x="354.4" y="2943.8" font-family="'Liberation Serif', 'DejaVu Serif', serif" font-size="79" textLength="83.2" lengthAdjust="spacingAndGlyphs">(<tspan font-weight="bold">e</tspan>)</text>
<text x="459.6" y="2943.8" font-family="'Liberation Serif', 'DejaVu Serif', serif" font-size="79" textLength="366.9" lengthAdjust="spacingAndGlyphs">ER(50,0.07)</text>
</g>
<g id="panel-f">
<clipPath id="clipf"><rect x="1339.0" y="2132.0" width="930.0" height="584.0"/></clipPath>
<g clip-path="url(#clipf)">
<polyline points="1381.3,2687.1 1383.4,2685.7 1385.5,2684.3 1387.6,2682.8 1389.7,2681.4 1391.8,2680.0 1394.0,2678.5 1396.1,2677.1 1398.2,2675.6 1400.3,2674.2 1402.4,2672.7 1404.5,2671.3 1406.6,2669.8 1408.8,2668.4 1410.9,2666.9 1413.0,2665.4 1415.1,2664.0 1417.2,2662.5 1419.3,2661.0 1421.4,2659.5 1423.5,2658.1 1425.7,2656.6 1427.8,2655.1 1429.9,2653.6 1432.0,2652.1 1434.1,2650.6 1436.2,2649.1 1438.3,2647.6 1440.5,2646.1 1442.6,2644.6 1444.7,2643.1 1446.8,2641.6 1448.9,2640.0 1451.0,2638.5 1453.1,2637.0 1455.2,2635.5 1457.4,2633.9 1459.5,2632.4 1461.6,2630.9 1463.7,2629.3 1465.8,2627.8 1467.9,2626.3 1470.0,2624.7 1472.2,2623.2 1474.3,2621.6 1476.4,2620.1 1478.5,2618.5 1480.6,2617.0 1482.7,2615.4 1484.8,2613.9 1487.0,2612.3 1489.1,2610.8 1491.2,2609.2 1493.3,2607.6 1495.4,2606.1 1497.5,2604.5 1499.6,2602.9 1501.8,2601.3 1503.9,2599.8 1506.0,2598.2 1508.1,2596.6 1510.2,2595.0 1512.3,2593.4 1514.4,2591.9 1516.5,2590.3 1518.7,2588.7 1520.8,2587.1 1522.9,2585.5 1525.0,2583.9 1527.1,2582.3 1529.2,2580.7 1531.3,2579.1 1533.5,2577.5 1535.6,2575.9 1537.7,2574.3 1539.8,2572.7 1541.9,2571.1 1544.0,2569.5 1546.1,2567.9 1548.2,2566.3 1550.4,2564.7 1552.5,2563.1 1554.6,2561.5 1556.7,2559.9 1558.8,2558.2 1560.9,2556.6 1563.0,2555.0 1565.2,2553.4 1567.3,2551.8 1569.4,2550.1 1571.5,2548.5 1573.6,2546.9 1575.7,2545.3 1577.8,2543.7 1580.0,2542.0 1582.1,2540.4 1584.2,2538.8 1586.3,2537.2 1588.4,2535.5 1590.5,2533.9 1592.6,2532.3 1594.8,2530.6 1596.9,2529.0 1599.0,2527.4 1601.1,2525.7 1603.2,2524.1 1605.3,2522.5 1607.4,2520.8 1609.5,2519.2 1611.7,2517.6 1613.8,2515.9 1615.9,2514.3 1618.0,2512.7 1620.1,2511.0 1622.2,2509.4 1624.3,2507.8 1626.5,2506.1 1628.6,2504.5 1630.7,2502.9 1632.8,2501.2 1634.9,2499.6 1637.0,2498.0 1639.1,2496.3 1641.2,2494.7 1643.4,2493.0 1645.5,2491.4 1647.6,2489.8 1649.7,2488.1 1651.8,2486.5 1653.9,2484.9 1656.0,2483.2 1658.2,2481.6 1660.3,2479.9 1662.4,2478.3 1664.5,2476.7 1666.6,2475.0 1668.7,2473.4 1670.8,2471.8 1673.0,2470.1 1675.1,2468.5 1677.2,2466.9 1679.3,2465.2 1681.4,2463.6 1683.5,2462.0 1685.6,2460.3 1687.8,2458.7 1689.9,2457.1 1692.0,2455.5 1694.1,2453.8 1696.2,2452.2 1698.3,2450.6 1700.4,2448.9 1702.5,2447.3 1704.7,2445.7 1706.8,2444.1 1708.9,2442.5 1711.0,2440.8 1713.1,2439.2 1715.2,2437.6 1717.3,2436.0 1719.5,2434.4 1721.6,2432.7 1723.7,2431.1 1725.8,2429.5 1727.9,2427.9 1730.0,2426.3 1732.1,2424.7 1734.2,2423.1 1736.4,2421.5 1738.5,2419.8 1740.6,2418.2 1742.7,2416.6 1744.8,2415.0 1746.9,2413.4 1749.0,2411.8 1751.2,2410.2 1753.3,2408.6 1755.4,2407.0 1757.5,2405.4 1759.6,2403.9 1761.7,2402.3 1763.8,2400.7 1766.0,2399.1 1768.1,2397.5 1770.2,2395.9 1772.3,2394.3 1774.4,2392.8 1776.5,2391.2 1778.6,2389.6 1780.8,2388.0 1782.9,2386.5 1785.0,2384.9 1787.1,2383.3 1789.2,2381.7 1791.3,2380.2 1793.4,2378.6 1795.5,2377.1 1797.7,2375.5 1799.8,2373.9 1801.9,2372.4 1804.0,2370.8 1806.1,2369.3 1808.2,2367.7 1810.3,2366.2 1812.5,2364.6 1814.6,2363.1 1816.7,2361.6 1818.8,2360.0 1820.9,2358.5 1823.0,2357.0 1825.1,2355.4 1827.2,2353.9 1829.4,2352.4 1831.5,2350.9 1833.6,2349.3 1835.7,2347.8 1837.8,2346.3 1839.9,2344.8 1842.0,2343.3 1844.2,2341.8 1846.3,2340.3 1848.4,2338.8 1850.5,2337.3 1852.6,2335.8 1854.7,2334.3 1856.8,2332.8 1859.0,2331.3 1861.1,2329.9 1863.2,2328.4 1865.3,2326.9 1867.4,2325.4 1869.5,2324.0 1871.6,2322.5 1873.8,2321.0 1875.9,2319.6 1878.0,2318.1 1880.1,2316.7 1882.2,2315.2 1884.3,2313.8 1886.4,2312.3 1888.5,2310.9 1890.7,2309.4 1892.8,2308.0 1894.9,2306.6 1897.0,2305.1 1899.1,2303.7 1901.2,2302.3 1903.3,2300.9 1905.5,2299.4 1907.6,2298.0 1909.7,2296.6 1911.8,2295.2 1913.9,2293.8 1916.0,2292.4 1918.1,2291.0 1920.2,2289.6 1922.4,2288.2 1924.5,2286.9 1926.6,2285.5 1928.7,2284.1 1930.8,2282.7 1932.9,2281.3 1935.0,2280.0 1937.2,2278.6 1939.3,2277.3 1941.4,2275.9 1943.5,2274.5 1945.6,2273.2 1947.7,2271.8 1949.8,2270.5 1952.0,2269.2 1954.1,2267.8 1956.2,2266.5 1958.3,2265.1 1960.4,2263.8 1962.5,2262.5 1964.6,2261.2 1966.8,2259.9 1968.9,2258.5 1971.0,2257.2 1973.1,2255.9 1975.2,2254.6 1977.3,2253.3 1979.4,2252.0 1981.5,2250.7 1983.7,2249.5 1985.8,2248.2 1987.9,2246.9 1990.0,2245.6 1992.1,2244.3 1994.2,2243.1 1996.3,2241.8 1998.5,2240.5 2000.6,2239.3 2002.7,2238.0 2004.8,2236.8 2006.9,2235.5 2009.0,2234.3 2011.1,2233.0 2013.2,2231.8 2015.4,2230.6 2017.5,2229.3 2019.6,2228.1 2021.7,2226.9 2023.8,2225.7 2025.9,2224.5 2028.0,2223.3 2030.2,2222.0 2032.3,2220.8 2034.4,2219.6 2036.5,2218.5 2038.6,2217.3 2040.7,2216.1 2042.8,2214.9 2045.0,2213.7 2047.1,2212.5 2049.2,2211.4 2051.3,2210.2 2053.4,2209.0 2055.5,2207.9 2057.6,2206.7 2059.8,2205.6 2061.9,2204.4 2064.0,2203.3 2066.1,2202.2 2068.2,2201.1 2070.3,2200.0 2072.4,2198.9 2074.5,2197.8 2076.7,2196.8 2078.8,2195.7 2080.9,2194.7 2083.0,2193.7 2085.1,2192.8 2087.2,2191.8 2089.3,2190.9 2091.5,2189.9 2093.6,2189.0 2095.7,2188.2 2097.8,2187.3 2099.9,2186.5 2102.0,2185.7 2104.1,2185.0 2106.2,2184.2 2108.4,2183.5 2110.5,2182.9 2112.6,2182.3 2114.7,2181.7 2116.8,2181.1 2118.9,2180.6 2121.0,2180.1 2123.2,2179.6 2125.3,2179.2 2127.4,2178.8 2129.5,2178.5 2131.6,2178.1 2133.7,2177.8 2135.8,2177.4 2138.0,2177.1 2140.1,2176.8 2142.2,2176.4 2144.3,2176.0 2146.4,2175.6 2148.5,2175.2 2150.6,2174.8 2152.8,2174.4 2154.9,2173.9 2157.0,2173.4 2159.1,2172.9 2161.2,2172.4 2163.3,2171.9 2165.4,2171.4 2167.5,2170.9 2169.7,2170.4 2171.8,2169.8 2173.9,2169.3 2176.0,2168.8 2178.1,2168.2 2180.2,2167.7 2182.3,2167.2 2184.5,2166.6 2186.6,2166.1 2188.7,2165.6 2190.8,2165.1 2192.9,2164.5 2195.0,2164.0 2197.1,2163.6 2199.2,2163.1 2201.4,2162.6 2203.5,2162.2 2205.6,2161.7 2207.7,2161.3 2209.8,2160.9 2211.9,2160.5 2214.0,2160.2 2216.2,2159.8 2218.3,2159.5 2220.4,2159.2 2222.5,2159.0 2224.6,2158.7 2226.7,2158.5" fill="none" stroke="#808080" stroke-width="6.8" stroke-linecap="square" stroke-linejoin="round"/>
<polyline points="1381.3,2686.6 1383.4,2685.2 1385.5,2683.7 1387.6,2682.3 1389.7,2680.8 1391.8,2679.3 1394.0,2677.9 1396.1,2676.4 1398.2,2674.9 1400.3,2673.4 1402.4,2671.9 1404.5,2670.4 1406.6,2668.9 1408.8,2667.4 1410.9,2665.9 1413.0,2664.4 1415.1,2662.8 1417.2,2661.3 1419.3,2659.7 1421.4,2658.2 1423.5,2656.7 1425.7,2655.1 1427.8,2653.5 1429.9,2652.0 1432.0,2650.4 1434.1,2648.8 1436.2,2647.2 1438.3,2645.7 1440.5,2644.1 1442.6,2642.5 1444.7,2640.9 1446.8,2639.3 1448.9,2637.7 1451.0,2636.0 1453.1,2634.4 1455.2,2632.8 1457.4,2631.2 1459.5,2629.6 1461.6,2627.9 1463.7,2626.3 1465.8,2624.6 1467.9,2623.0 1470.0,2621.3 1472.2,2619.7 1474.3,2618.0 1476.4,2616.4 1478.5,2614.7 1480.6,2613.0 1482.7,2611.3 1484.8,2609.7 1487.0,2608.0 1489.1,2606.3 1491.2,2604.6 1493.3,2602.9 1495.4,2601.2 1497.5,2599.5 1499.6,2597.8 1501.8,2596.1 1503.9,2594.4 1506.0,2592.7 1508.1,2591.0 1510.2,2589.3 1512.3,2587.5 1514.4,2585.8 1516.5,2584.1 1518.7,2582.4 1520.8,2580.6 1522.9,2578.9 1525.0,2577.1 1527.1,2575.4 1529.2,2573.7 1531.3,2571.9 1533.5,2570.2 1535.6,2568.4 1537.7,2566.7 1539.8,2564.9 1541.9,2563.1 1544.0,2561.4 1546.1,2559.6 1548.2,2557.9 1550.4,2556.1 1552.5,2554.3 1554.6,2552.5 1556.7,2550.8 1558.8,2549.0 1560.9,2547.2 1563.0,2545.4 1565.2,2543.7 1567.3,2541.9 1569.4,2540.1 1571.5,2538.3 1573.6,2536.5 1575.7,2534.7 1577.8,2532.9 1580.0,2531.2 1582.1,2529.4 1584.2,2527.6 1586.3,2525.8 1588.4,2524.0 1590.5,2522.2 1592.6,2520.4 1594.8,2518.6 1596.9,2516.8 1599.0,2515.0 1601.1,2513.2 1603.2,2511.4 1605.3,2509.6 1607.4,2507.8 1609.5,2506.0 1611.7,2504.1 1613.8,2502.3 1615.9,2500.5 1618.0,2498.7 1620.1,2496.9 1622.2,2495.1 1624.3,2493.3 1626.5,2491.5 1628.6,2489.7 1630.7,2487.9 1632.8,2486.1 1634.9,2484.3 1637.0,2482.4 1639.1,2480.6 1641.2,2478.8 1643.4,2477.0 1645.5,2475.2 1647.6,2473.4 1649.7,2471.6 1651.8,2469.8 1653.9,2468.0 1656.0,2466.2 1658.2,2464.4 1660.3,2462.6 1662.4,2460.8 1664.5,2459.0 1666.6,2457.1 1668.7,2455.3 1670.8,2453.5 1673.0,2451.7 1675.1,2449.9 1677.2,2448.1 1679.3,2446.3 1681.4,2444.5 1683.5,2442.7 1685.6,2441.0 1687.8,2439.2 1689.9,2437.4 1692.0,2435.6 1694.1,2433.8 1696.2,2432.0 1698.3,2430.2 1700.4,2428.4 1702.5,2426.6 1704.7,2424.9 1706.8,2423.1 1708.9,2421.3 1711.0,2419.5 1713.1,2417.7 1715.2,2416.0 1717.3,2414.2 1719.5,2412.4 1721.6,2410.7 1723.7,2408.9 1725.8,2407.1 1727.9,2405.4 1730.0,2403.6 1732.1,2401.9 1734.2,2400.1 1736.4,2398.4 1738.5,2396.6 1740.6,2394.9 1742.7,2393.1 1744.8,2391.4 1746.9,2389.6 1749.0,2387.9 1751.2,2386.2 1753.3,2384.4 1755.4,2382.7 1757.5,2381.0 1759.6,2379.3 1761.7,2377.6 1763.8,2375.8 1766.0,2374.1 1768.1,2372.4 1770.2,2370.7 1772.3,2369.0 1774.4,2367.3 1776.5,2365.6 1778.6,2363.9 1780.8,2362.2 1782.9,2360.5 1785.0,2358.9 1787.1,2357.2 1789.2,2355.5 1791.3,2353.8 1793.4,2352.2 1795.5,2350.5 1797.7,2348.9 1799.8,2347.2 1801.9,2345.5 1804.0,2343.9 1806.1,2342.2 1808.2,2340.6 1810.3,2339.0 1812.5,2337.3 1814.6,2335.7 1816.7,2334.0 1818.8,2332.4 1820.9,2330.8 1823.0,2329.2 1825.1,2327.5 1827.2,2325.9 1829.4,2324.3 1831.5,2322.7 1833.6,2321.0 1835.7,2319.4 1837.8,2317.8 1839.9,2316.2 1842.0,2314.6 1844.2,2313.0 1846.3,2311.3 1848.4,2309.7 1850.5,2308.1 1852.6,2306.5 1854.7,2304.9 1856.8,2303.3 1859.0,2301.7 1861.1,2300.1 1863.2,2298.4 1865.3,2296.8 1867.4,2295.2 1869.5,2293.6 1871.6,2292.0 1873.8,2290.4 1875.9,2288.8 1878.0,2287.1 1880.1,2285.5 1882.2,2283.9 1884.3,2282.3 1886.4,2280.7 1888.5,2279.0 1890.7,2277.4 1892.8,2275.8 1894.9,2274.2 1897.0,2272.5 1899.1,2270.9 1901.2,2269.3 1903.3,2267.6 1905.5,2266.0 1907.6,2264.3 1909.7,2262.7 1911.8,2261.0 1913.9,2259.4 1916.0,2257.7 1918.1,2256.1 1920.2,2254.4 1922.4,2252.8 1924.5,2251.1 1926.6,2249.5 1928.7,2247.8 1930.8,2246.2 1932.9,2244.5 1935.0,2242.9 1937.2,2241.2 1939.3,2239.6 1941.4,2237.9 1943.5,2236.3 1945.6,2234.7 1947.7,2233.0 1949.8,2231.4 1952.0,2229.8 1954.1,2228.2 1956.2,2226.6 1958.3,2225.0 1960.4,2223.4 1962.5,2221.8 1964.6,2220.2 1966.8,2218.6 1968.9,2217.1 1971.0,2215.5 1973.1,2213.9 1975.2,2212.4 1977.3,2210.9 1979.4,2209.4 1981.5,2207.8 1983.7,2206.3 1985.8,2204.9 1987.9,2203.4 1990.0,2201.9 1992.1,2200.5 1994.2,2199.0 1996.3,2197.6 1998.5,2196.2 2000.6,2194.8 2002.7,2193.4 2004.8,2192.0 2006.9,2190.7 2009.0,2189.3 2011.1,2188.0 2013.2,2186.7 2015.4,2185.4 2017.5,2184.1 2019.6,2182.9 2021.7,2181.7 2023.8,2180.5 2025.9,2179.3 2028.0,2178.2 2030.2,2177.0 2032.3,2175.9 2034.4,2174.8 2036.5,2173.8 2038.6,2172.8 2040.7,2171.8 2042.8,2170.8 2045.0,2169.9 2047.1,2168.9 2049.2,2168.1 2051.3,2167.2 2053.4,2166.4 2055.5,2165.6 2057.6,2164.9 2059.8,2164.2 2061.9,2163.5 2064.0,2162.9 2066.1,2162.3 2068.2,2161.7 2070.3,2161.2 2072.4,2160.7 2074.5,2160.2 2076.7,2159.8 2078.8,2159.5 2080.9,2159.1 2083.0,2158.8 2085.1,2158.5 2087.2,2158.5 2089.3,2158.5 2091.5,2158.5 2093.6,2158.5 2095.7,2158.5 2097.8,2158.5 2099.9,2158.5 2102.0,2158.5 2104.1,2158.5 2106.2,2158.5 2108.4,2158.5 2110.5,2158.5 2112.6,2158.5 2114.7,2158.5 2116.8,2158.5 2118.9,2158.5 2121.0,2158.5 2123.2,2158.5 2125.3,2158.5 2127.4,2158.5 2129.5,2158.5 2131.6,2158.5 2133.7,2158.5 2135.8,2158.5 2138.0,2158.5 2140.1,2158.5 2142.2,2158.5 2144.3,2158.5 2146.4,2158.5 2148.5,2158.5 2150.6,2158.5 2152.8,2158.5 2154.9,2158.5 2157.0,2158.5 2159.1,2158.5 2161.2,2158.5 2163.3,2158.5 2165.4,2158.5 2167.5,2158.5 2169.7,2158.5 2171.8,2158.5 2173.9,2158.5 2176.0,2158.5 2178.1,2158.5 2180.2,2158.5 2182.3,2158.5 2184.5,2158.5 2186.6,2158.5 2188.7,2158.5 2190.8,2158.5 2192.9,2158.5 2195.0,2158.5 2197.1,2158.5 2199.2,2158.5 2201.4,2158.5 2203.5,2158.5 2205.6,2158.5 2207.7,2158.5 2209.8,2158.5 2211.9,2158.5 2214.0,2158.5 2216.2,2158.5 2218.3,2158.5 2220.4,2158.5 2222.5,2158.5 2224.6,2158.5 2226.7,2158.5" fill="none" stroke="#008000" stroke-width="6.8" stroke-linecap="square" stroke-linejoin="round"/>
<polyline points="1381.3,2688.6 1383.4,2687.2 1385.5,2685.8 1387.6,2684.4 1389.7,2682.9 1391.8,2681.5 1394.0,2680.0 1396.1,2678.6 1398.2,2677.1 1400.3,2675.7 1402.4,2674.2 1404.5,2672.7 1406.6,2671.3 1408.8,2669.8 1410.9,2668.3 1413.0,2666.8 1415.1,2665.3 1417.2,2663.8 1419.3,2662.3 1421.4,2660.8 1423.5,2659.2 1425.7,2657.7 1427.8,2656.2 1429.9,2654.6 1432.0,2653.1 1434.1,2651.5 1436.2,2650.0 1438.3,2648.4 1440.5,2646.9 1442.6,2645.3 1444.7,2643.7 1446.8,2642.2 1448.9,2640.6 1451.0,2639.0 1453.1,2637.4 1455.2,2635.8 1457.4,2634.2 1459.5,2632.6 1461.6,2631.0 1463.7,2629.4 1465.8,2627.7 1467.9,2626.1 1470.0,2624.5 1472.2,2622.8 1474.3,2621.2 1476.4,2619.6 1478.5,2617.9 1480.6,2616.3 1482.7,2614.6 1484.8,2613.0 1487.0,2611.3 1489.1,2609.6 1491.2,2608.0 1493.3,2606.3 1495.4,2604.6 1497.5,2602.9 1499.6,2601.3 1501.8,2599.6 1503.9,2597.9 1506.0,2596.2 1508.1,2594.5 1510.2,2592.8 1512.3,2591.1 1514.4,2589.4 1516.5,2587.7 1518.7,2586.0 1520.8,2584.2 1522.9,2582.5 1525.0,2580.8 1527.1,2579.1 1529.2,2577.3 1531.3,2575.6 1533.5,2573.9 1535.6,2572.1 1537.7,2570.4 1539.8,2568.7 1541.9,2566.9 1544.0,2565.2 1546.1,2563.4 1548.2,2561.7 1550.4,2559.9 1552.5,2558.2 1554.6,2556.4 1556.7,2554.7 1558.8,2552.9 1560.9,2551.1 1563.0,2549.4 1565.2,2547.6 1567.3,2545.8 1569.4,2544.0 1571.5,2542.3 1573.6,2540.5 1575.7,2538.7 1577.8,2536.9 1580.0,2535.2 1582.1,2533.4 1584.2,2531.6 1586.3,2529.8 1588.4,2528.0 1590.5,2526.2 1592.6,2524.4 1594.8,2522.6 1596.9,2520.9 1599.0,2519.1 1601.1,2517.3 1603.2,2515.5 1605.3,2513.7 1607.4,2511.9 1609.5,2510.1 1611.7,2508.3 1613.8,2506.5 1615.9,2504.7 1618.0,2502.9 1620.1,2501.1 1622.2,2499.3 1624.3,2497.5 1626.5,2495.7 1628.6,2493.8 1630.7,2492.0 1632.8,2490.2 1634.9,2488.4 1637.0,2486.6 1639.1,2484.8 1641.2,2483.0 1643.4,2481.2 1645.5,2479.4 1647.6,2477.6 1649.7,2475.8 1651.8,2474.0 1653.9,2472.2 1656.0,2470.4 1658.2,2468.6 1660.3,2466.7 1662.4,2464.9 1664.5,2463.1 1666.6,2461.3 1668.7,2459.5 1670.8,2457.7 1673.0,2455.9 1675.1,2454.1 1677.2,2452.3 1679.3,2450.5 1681.4,2448.7 1683.5,2446.9 1685.6,2445.1 1687.8,2443.3 1689.9,2441.5 1692.0,2439.7 1694.1,2437.9 1696.2,2436.1 1698.3,2434.3 1700.4,2432.5 1702.5,2430.8 1704.7,2429.0 1706.8,2427.2 1708.9,2425.4 1711.0,2423.6 1713.1,2421.8 1715.2,2420.0 1717.3,2418.3 1719.5,2416.5 1721.6,2414.7 1723.7,2412.9 1725.8,2411.2 1727.9,2409.4 1730.0,2407.6 1732.1,2405.9 1734.2,2404.1 1736.4,2402.3 1738.5,2400.6 1740.6,2398.8 1742.7,2397.1 1744.8,2395.3 1746.9,2393.6 1749.0,2391.8 1751.2,2390.1 1753.3,2388.3 1755.4,2386.6 1757.5,2384.8 1759.6,2383.1 1761.7,2381.4 1763.8,2379.6 1766.0,2377.9 1768.1,2376.2 1770.2,2374.5 1772.3,2372.7 1774.4,2371.0 1776.5,2369.3 1778.6,2367.6 1780.8,2365.9 1782.9,2364.2 1785.0,2362.5 1787.1,2360.8 1789.2,2359.1 1791.3,2357.4 1793.4,2355.7 1795.5,2354.1 1797.7,2352.4 1799.8,2350.7 1801.9,2349.0 1804.0,2347.4 1806.1,2345.7 1808.2,2344.0 1810.3,2342.4 1812.5,2340.7 1814.6,2339.1 1816.7,2337.4 1818.8,2335.8 1820.9,2334.2 1823.0,2332.5 1825.1,2330.9 1827.2,2329.3 1829.4,2327.7 1831.5,2326.0 1833.6,2324.4 1835.7,2322.8 1837.8,2321.2 1839.9,2319.6 1842.0,2318.0 1844.2,2316.4 1846.3,2314.9 1848.4,2313.3 1850.5,2311.7 1852.6,2310.1 1854.7,2308.6 1856.8,2307.0 1859.0,2305.5 1861.1,2303.9 1863.2,2302.4 1865.3,2300.8 1867.4,2299.3 1869.5,2297.8 1871.6,2296.3 1873.8,2294.8 1875.9,2293.2 1878.0,2291.7 1880.1,2290.2 1882.2,2288.7 1884.3,2287.3 1886.4,2285.8 1888.5,2284.3 1890.7,2282.8 1892.8,2281.4 1894.9,2279.9 1897.0,2278.5 1899.1,2277.0 1901.2,2275.6 1903.3,2274.1 1905.5,2272.7 1907.6,2271.3 1909.7,2269.9 1911.8,2268.5 1913.9,2267.1 1916.0,2265.7 1918.1,2264.3 1920.2,2262.9 1922.4,2261.5 1924.5,2260.1 1926.6,2258.8 1928.7,2257.4 1930.8,2256.1 1932.9,2254.7 1935.0,2253.4 1937.2,2252.1 1939.3,2250.8 1941.4,2249.4 1943.5,2248.1 1945.6,2246.8 1947.7,2245.5 1949.8,2244.3 1952.0,2243.0 1954.1,2241.7 1956.2,2240.4 1958.3,2239.2 1960.4,2237.9 1962.5,2236.7 1964.6,2235.5 1966.8,2234.2 1968.9,2233.0 1971.0,2231.8 1973.1,2230.6 1975.2,2229.4 1977.3,2228.2 1979.4,2227.0 1981.5,2225.9 1983.7,2224.7 1985.8,2223.6 1987.9,2222.4 1990.0,2221.3 1992.1,2220.2 1994.2,2219.0 1996.3,2217.9 1998.5,2216.8 2000.6,2215.7 2002.7,2214.6 2004.8,2213.6 2006.9,2212.5 2009.0,2211.4 2011.1,2210.4 2013.2,2209.3 2015.4,2208.3 2017.5,2207.3 2019.6,2206.3 2021.7,2205.3 2023.8,2204.3 2025.9,2203.3 2028.0,2202.3 2030.2,2201.3 2032.3,2200.4 2034.4,2199.4 2036.5,2198.5 2038.6,2197.5 2040.7,2196.6 2042.8,2195.7 2045.0,2194.8 2047.1,2193.9 2049.2,2193.0 2051.3,2192.1 2053.4,2191.3 2055.5,2190.4 2057.6,2189.6 2059.8,2188.7 2061.9,2187.9 2064.0,2187.1 2066.1,2186.3 2068.2,2185.5 2070.3,2184.7 2072.4,2183.9 2074.5,2183.2 2076.7,2182.4 2078.8,2181.7 2080.9,2180.9 2083.0,2180.2 2085.1,2179.5 2087.2,2178.8 2089.3,2178.1 2091.5,2177.4 2093.6,2176.8 2095.7,2176.1 2097.8,2175.5 2099.9,2174.8 2102.0,2174.2 2104.1,2173.6 2106.2,2173.0 2108.4,2172.4 2110.5,2171.8 2112.6,2171.2 2114.7,2170.7 2116.8,2170.1 2118.9,2169.6 2121.0,2169.1 2123.2,2168.6 2125.3,2168.1 2127.4,2167.6 2129.5,2167.1 2131.6,2166.6 2133.7,2166.2 2135.8,2165.7 2138.0,2165.3 2140.1,2164.9 2142.2,2164.5 2144.3,2164.1 2146.4,2163.7 2148.5,2163.3 2150.6,2163.0 2152.8,2162.6 2154.9,2162.3 2157.0,2162.0 2159.1,2161.7 2161.2,2161.4 2163.3,2161.1 2165.4,2160.8 2167.5,2160.6 2169.7,2160.3 2171.8,2160.1 2173.9,2159.9 2176.0,2159.7 2178.1,2159.5 2180.2,2159.3 2182.3,2159.1 2184.5,2158.9 2186.6,2158.8 2188.7,2158.7 2190.8,2158.6 2192.9,2158.5 2195.0,2158.5 2197.1,2158.5 2199.2,2158.5 2201.4,2158.5 2203.5,2158.5 2205.6,2158.5 2207.7,2158.5 2209.8,2158.5 2211.9,2158.5 2214.0,2158.5 2216.2,2158.5 2218.3,2158.5 2220.4,2158.5 2222.5,2158.5 2224.6,2158.5 2226.7,2158.5" fill="none" stroke="#ff0000" stroke-width="6.8" stroke-dasharray="22.2 9.6" stroke-linecap="butt" stroke-linejoin="round"/>
</g>
<g stroke="#000" fill="none"><path d="M1381.27 2716.0 V2702.0 M1381.27 2132.0 V2146.0" stroke-width="3"/><path d="M1423.55 2716.0 V2707.0 M1423.55 2132.0 V2141.0" stroke-width="2"/><path d="M1465.82 2716.0 V2707.0 M1465.82 2132.0 V2141.0" stroke-width="2"/><path d="M1508.09 2716.0 V2707.0 M1508.09 2132.0 V2141.0" stroke-width="2"/><path d="M1550.36 2716.0 V2702.0 M1550.36 2132.0 V2146.0" stroke-width="3"/><path d="M1592.64 2716.0 V2707.0 M1592.64 2132.0 V2141.0" stroke-width="2"/><path d="M1634.91 2716.0 V2707.0 M1634.91 2132.0 V2141.0" stroke-width="2"/><path d="M1677.18 2716.0 V2707.0 M1677.18 2132.0 V2141.0" stroke-width="2"/><path d="M1719.45 2716.0 V2702.0 M1719.45 2132.0 V2146.0" stroke-width="3"/><path d="M1761.73 2716.0 V2707.0 M1761.73 2132.0 V2141.0" stroke-width="2"/><path d="M1804.00 2716.0 V2707.0 M1804.00 2132.0 V2141.0" stroke-width="2"/><path d="M1846.27 2716.0 V2707.0 M1846.27 2132.0 V2141.0" stroke-width="2"/><path d="M1888.55 2716.0 V2702.0 M1888.55 2132.0 V2146.0" stroke-width="3"/><path d="M1930.82 2716.0 V2707.0 M1930.82 2132.0 V2141.0" stroke-width="2"/><path d="M1973.09 2716.0 V2707.0 M1973.09 2132.0 V2141.0" stroke-width="2"/><path d="M2015.36 2716.0 V2707.0 M2015.36 2132.0 V2141.0" stroke-width="2"/><path d="M2057.64 2716.0 V2702.0 M2057.64 2132.0 V2146.0" stroke-width="3"/><path d="M2099.91 2716.0 V2707.0 M2099.91 2132.0 V2141.0" stroke-width="2"/><path d="M2142.18 2716.0 V2707.0 M2142.18 2132.0 V2141.0" stroke-width="2"/><path d="M2184.45 2716.0 V2707.0 M2184.45 2132.0 V2141.0" stroke-width="2"/><path d="M2226.73 2716.0 V2702.0 M2226.73 2132.0 V2146.0" stroke-width="3"/><path d="M1339.0 2700.29 H1353.0 M2269.0 2700.29 H2255.0" stroke-width="3"/><path d="M1339.0 2673.20 H1348.0 M2269.0 2673.20 H2260.0" stroke-width="2"/><path d="M1339.0 2646.12 H1348.0 M2269.0 2646.12 H2260.0" stroke-width="2"/><path d="M1339.0 2619.03 H1348.0 M2269.0 2619.03 H2260.0" stroke-width="2"/><path d="M1339.0 2591.94 H1353.0 M2269.0 2591.94 H2255.0" stroke-width="3"/><path d="M1339.0 2564.85 H1348.0 M2269.0 2564.85 H2260.0" stroke-width="2"/><path d="M1339.0 2537.77 H1348.0 M2269.0 2537.77 H2260.0" stroke-width="2"/><path d="M1339.0 2510.68 H1348.0 M2269.0 2510.68 H2260.0" stroke-width="2"/><path d="M1339.0 2483.59 H1353.0 M2269.0 2483.59 H2255.0" stroke-width="3"/><path d="M1339.0 2456.50 H1348.0 M2269.0 2456.50 H2260.0" stroke-width="2"/><path d="M1339.0 2429.42 H1348.0 M2269.0 2429.42 H2260.0" stroke-width="2"/><path d="M1339.0 2402.33 H1348.0 M2269.0 2402.33 H2260.0" stroke-width="2"/><path d="M1339.0 2375.24 H1353.0 M2269.0 2375.24 H2255.0" stroke-width="3"/><path d="M1339.0 2348.16 H1348.0 M2269.0 2348.16 H2260.0" stroke-width="2"/><path d="M1339.0 2321.07 H1348.0 M2269.0 2321.07 H2260.0" stroke-width="2"/><path d="M1339.0 2293.98 H1348.0 M2269.0 2293.98 H2260.0" stroke-width="2"/><path d="M1339.0 2266.89 H1353.0 M2269.0 2266.89 H2255.0" stroke-width="3"/><path d="M1339.0 2239.81 H1348.0 M2269.0 2239.81 H2260.0" stroke-width="2"/><path d="M1339.0 2212.72 H1348.0 M2269.0 2212.72 H2260.0" stroke-width="2"/><path d="M1339.0 2185.63 H1348.0 M2269.0 2185.63 H2260.0" stroke-width="2"/><path d="M1339.0 2158.55 H1353.0 M2269.0 2158.55 H2255.0" stroke-width="3"/></g>
<rect x="1339.0" y="2132.0" width="930.0" height="584.0" fill="none" stroke="#000" stroke-width="3"/>
<g font-family="'DejaVu Sans', 'Liberation Sans', sans-serif" font-weight="bold" font-size="36.8" fill="#000">
<text x="1381.27" y="2753.60" text-anchor="middle">0.0</text>
<text x="1550.36" y="2753.60" text-anchor="middle">0.2</text>
<text x="1719.45" y="2753.60" text-anchor="middle">0.4</text>
<text x="1888.55" y="2753.60" text-anchor="middle">0.6</text>
<text x="2057.64" y="2753.60" text-anchor="middle">0.8</text>
<text x="2226.73" y="2753.60" text-anchor="middle">1.0</text>
<text x="1330.10" y="2713.79" text-anchor="end">0.0</text>
<text x="1330.10" y="2605.44" text-anchor="end">0.2</text>
<text x="1330.10" y="2497.09" text-anchor="end">0.4</text>
<text x="1330.10" y="2388.74" text-anchor="end">0.6</text>
<text x="1330.10" y="2280.39" text-anchor="end">0.8</text>
<text x="1330.10" y="2172.05" text-anchor="end">1.0</text>
</g>
<text x="1804.00" y="2115.60" text-anchor="middle" font-family="'DejaVu Sans', 'Liberation Sans', sans-serif" font-weight="bold" font-size="39.0">ER(100,<tspan dx="-4.6"> </tspan>0.04)</text>
<text x="1804.00" y="2801.30" text-anchor="middle" font-family="'DejaVu Sans', 'Liberation Sans', sans-serif" font-weight="bold" font-size="39.0">Fraction of removed nodes (p)</text>
<text transform="translate(1245.40 2424.00) rotate(-90)" text-anchor="middle" font-family="'DejaVu Sans', 'Liberation Sans', sans-serif" font-weight="bold" font-size="39.0">n<tspan font-size="27.3" dy="7">D</tspan></text>
<path d="M1881.9 2556.5 H1953.1" stroke="#808080" stroke-width="6.8" stroke-linecap="square"/>
<path d="M1881.9 2609.5 H1953.1" stroke="#008000" stroke-width="6.8" stroke-linecap="square"/>
<path d="M1880.5 2662.5 H1954.5" stroke="#ff0000" stroke-width="6.8" stroke-dasharray="22 8"/>
<text font-family="'DejaVu Sans', 'Liberation Sans', sans-serif" font-weight="bold" font-size="38" x="1981.6" y="2568.3">α</text>
<text font-family="'DejaVu Sans', 'Liberation Sans', sans-serif" font-weight="bold" font-size="36.3" x="2013.6" y="2568.3">=</text>
<text font-family="'DejaVu Sans', 'Liberation Sans', sans-serif" font-weight="bold" font-size="37.5" x="2051.5" y="2568.3">0</text>
<text font-family="'DejaVu Sans', 'Liberation Sans', sans-serif" font-weight="bold" font-size="38" x="1981.6" y="2619.8">α</text>
<text font-family="'DejaVu Sans', 'Liberation Sans', sans-serif" font-weight="bold" font-size="36.3" x="2013.6" y="2619.8">=</text>
<text font-family="'DejaVu Sans', 'Liberation Sans', sans-serif" font-weight="bold" font-size="37.5" x="2051.5" y="2619.8">1</text>
<text font-family="'DejaVu Sans', 'Liberation Sans', sans-serif" font-weight="bold" font-size="36.3" x="1982.0" y="2675.0">analytical_in</text>
<text x="1537.3" y="2943.8" font-family="'Liberation Serif', 'DejaVu Serif', serif" font-size="79" textLength="75.9" lengthAdjust="spacingAndGlyphs">(<tspan font-weight="bold">f</tspan>)</text>
<text x="1633.1" y="2943.8" font-family="'Liberation Serif', 'DejaVu Serif', serif" font-size="79" textLength="405.4" lengthAdjust="spacingAndGlyphs">ER(100,0.04)</text>
</g></svg>
</body></html>
